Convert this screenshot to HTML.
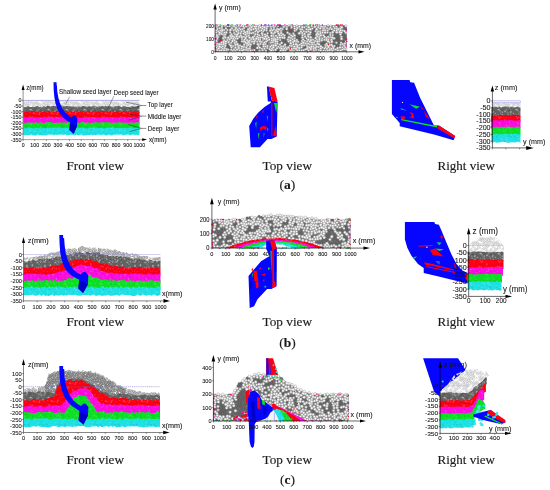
<!DOCTYPE html>
<html><head><meta charset="utf-8"><title>Figure</title>
<style>html,body{margin:0;padding:0;background:#fff}svg{display:block}</style></head>
<body><svg width="550" height="490" viewBox="0 0 550 490">
<defs><pattern id="pg" width="18" height="18" patternUnits="userSpaceOnUse"><rect width="18" height="18" fill="#626262"/><circle cx="5.8" cy="2.7" r="0.5" fill="#4e4e4e"/><circle cx="14.8" cy="1.7" r="0.5" fill="#565656"/><circle cx="9.1" cy="0.7" r="0.7" fill="#747474"/><circle cx="4.3" cy="9.9" r="0.8" fill="#b0b0b0"/><circle cx="2.2" cy="4" r="0.7" fill="#4e4e4e"/><circle cx="1.1" cy="10.5" r="0.8" fill="#b0b0b0"/><circle cx="0.8" cy="15.5" r="0.7" fill="#898989"/><circle cx="9.7" cy="10.3" r="0.8" fill="#565656"/><circle cx="3.3" cy="10.5" r="0.6" fill="#4e4e4e"/><circle cx="1.8" cy="12.8" r="0.5" fill="#565656"/><circle cx="3.7" cy="12.2" r="0.8" fill="#747474"/><circle cx="8.4" cy="16.6" r="0.6" fill="#898989"/><circle cx="14.3" cy="12.6" r="0.5" fill="#9d9d9d"/><circle cx="5.4" cy="8.9" r="0.7" fill="#898989"/><circle cx="5.2" cy="17.6" r="0.7" fill="#b0b0b0"/><circle cx="5.2" cy="-0.4" r="0.7" fill="#b0b0b0"/><circle cx="3" cy="6.2" r="0.7" fill="#747474"/><circle cx="17.3" cy="1.4" r="0.7" fill="#565656"/><circle cx="-0.7" cy="1.4" r="0.7" fill="#565656"/><circle cx="15.8" cy="5.6" r="0.6" fill="#4e4e4e"/><circle cx="8.9" cy="14.3" r="0.8" fill="#b0b0b0"/><circle cx="17" cy="8.5" r="0.5" fill="#4e4e4e"/><circle cx="13.2" cy="5.6" r="0.8" fill="#565656"/><circle cx="14.8" cy="5.1" r="0.8" fill="#747474"/><circle cx="6.2" cy="16.9" r="0.6" fill="#898989"/><circle cx="2.1" cy="1.1" r="0.6" fill="#898989"/><circle cx="4.5" cy="7" r="0.5" fill="#747474"/><circle cx="8.1" cy="9.9" r="0.8" fill="#9d9d9d"/><circle cx="15.6" cy="5" r="0.8" fill="#747474"/><circle cx="12.3" cy="6.8" r="0.6" fill="#9d9d9d"/><circle cx="3.2" cy="4.2" r="0.5" fill="#9d9d9d"/><circle cx="15" cy="3.3" r="0.5" fill="#898989"/><circle cx="7.5" cy="6.6" r="0.6" fill="#565656"/><circle cx="2.3" cy="15.5" r="0.7" fill="#565656"/><circle cx="13.3" cy="8.2" r="0.8" fill="#4e4e4e"/><circle cx="7.1" cy="7.2" r="0.7" fill="#b0b0b0"/><circle cx="7.2" cy="3.4" r="0.7" fill="#9d9d9d"/><circle cx="2" cy="10.8" r="0.5" fill="#b0b0b0"/><circle cx="2.7" cy="1.8" r="0.7" fill="#898989"/><circle cx="1.3" cy="3.7" r="0.6" fill="#747474"/><circle cx="4.5" cy="6.3" r="0.7" fill="#898989"/><circle cx="2.1" cy="8.8" r="0.7" fill="#747474"/><circle cx="5.6" cy="2.6" r="0.6" fill="#4e4e4e"/><circle cx="4.8" cy="14.9" r="0.7" fill="#9d9d9d"/><circle cx="3.7" cy="17.1" r="0.6" fill="#898989"/><circle cx="9.8" cy="0.5" r="0.6" fill="#565656"/><circle cx="9.8" cy="18.5" r="0.6" fill="#565656"/><circle cx="11.6" cy="1.6" r="0.7" fill="#898989"/><circle cx="16.3" cy="6.4" r="0.7" fill="#9d9d9d"/><circle cx="14" cy="5.9" r="0.7" fill="#9d9d9d"/><circle cx="14.2" cy="13.6" r="0.8" fill="#9d9d9d"/><circle cx="14.7" cy="13.3" r="0.6" fill="#9d9d9d"/><circle cx="8.9" cy="13.2" r="0.8" fill="#b0b0b0"/><circle cx="8.5" cy="3.5" r="0.8" fill="#565656"/><circle cx="8.1" cy="16.9" r="0.8" fill="#898989"/><circle cx="6.6" cy="4" r="0.7" fill="#9d9d9d"/><circle cx="6.1" cy="8.7" r="0.8" fill="#565656"/><circle cx="8.6" cy="11.8" r="0.6" fill="#4e4e4e"/><circle cx="11.9" cy="16.4" r="0.8" fill="#4e4e4e"/><circle cx="8.6" cy="3.2" r="0.6" fill="#4e4e4e"/><circle cx="14.4" cy="17.5" r="0.7" fill="#747474"/><circle cx="14.4" cy="-0.5" r="0.7" fill="#747474"/><circle cx="13.4" cy="1.5" r="0.6" fill="#9d9d9d"/><circle cx="2.3" cy="2.7" r="0.8" fill="#747474"/><circle cx="2.6" cy="14.9" r="0.7" fill="#747474"/><circle cx="6.3" cy="9.9" r="0.5" fill="#9d9d9d"/><circle cx="14.4" cy="13.1" r="0.7" fill="#b0b0b0"/><circle cx="16.8" cy="7.8" r="0.8" fill="#9d9d9d"/><circle cx="3.8" cy="4.5" r="0.7" fill="#898989"/><circle cx="13.7" cy="5.9" r="0.7" fill="#565656"/><circle cx="2.4" cy="16.4" r="0.8" fill="#898989"/><circle cx="11.9" cy="14.7" r="0.7" fill="#565656"/><circle cx="16.5" cy="9" r="0.6" fill="#565656"/><circle cx="9.2" cy="15.7" r="0.7" fill="#9d9d9d"/><circle cx="14" cy="2.7" r="0.7" fill="#9d9d9d"/><circle cx="13.1" cy="10" r="0.7" fill="#898989"/><circle cx="9.6" cy="8.7" r="0.8" fill="#b0b0b0"/><circle cx="1" cy="3.4" r="0.8" fill="#b0b0b0"/><circle cx="9.1" cy="10.1" r="0.7" fill="#b0b0b0"/><circle cx="11" cy="9.1" r="0.6" fill="#565656"/><circle cx="5" cy="9.1" r="0.7" fill="#747474"/><circle cx="4.5" cy="9.4" r="0.8" fill="#898989"/><circle cx="16.1" cy="3.6" r="0.6" fill="#747474"/><circle cx="2.2" cy="8" r="0.7" fill="#b0b0b0"/><circle cx="7.7" cy="3.8" r="0.8" fill="#898989"/><circle cx="16.1" cy="2.8" r="0.7" fill="#4e4e4e"/><circle cx="6.6" cy="4.6" r="0.8" fill="#9d9d9d"/><circle cx="4" cy="17.1" r="0.8" fill="#747474"/><circle cx="2.9" cy="12" r="0.6" fill="#9d9d9d"/><circle cx="7.8" cy="9.3" r="0.7" fill="#898989"/><circle cx="6.4" cy="1.7" r="0.5" fill="#898989"/><circle cx="10" cy="7.9" r="0.6" fill="#b0b0b0"/><circle cx="9.3" cy="5.3" r="0.6" fill="#b0b0b0"/><circle cx="16.5" cy="4.1" r="0.6" fill="#b0b0b0"/><circle cx="4.9" cy="16.3" r="0.6" fill="#9d9d9d"/><circle cx="2.3" cy="7.6" r="0.8" fill="#4e4e4e"/><circle cx="4.7" cy="2.7" r="0.7" fill="#565656"/><circle cx="12.6" cy="1.6" r="0.8" fill="#b0b0b0"/><circle cx="3.3" cy="16.1" r="0.8" fill="#898989"/></pattern><pattern id="pr" width="18" height="18" patternUnits="userSpaceOnUse"><rect width="18" height="18" fill="#fa0012"/><circle cx="11.4" cy="14.4" r="0.7" fill="#fb3d4a"/><circle cx="4" cy="4.8" r="0.7" fill="#fb3d4a"/><circle cx="6.1" cy="10" r="0.7" fill="#fa1424"/><circle cx="0.8" cy="12.8" r="0.8" fill="#fb3d4a"/><circle cx="18.8" cy="12.8" r="0.8" fill="#fb3d4a"/><circle cx="4.7" cy="3.3" r="0.7" fill="#fa1424"/><circle cx="9.6" cy="3.7" r="0.7" fill="#ed0011"/><circle cx="3.2" cy="6.2" r="0.8" fill="#fb3d4a"/><circle cx="0.7" cy="0.3" r="0.7" fill="#e10010"/><circle cx="0.7" cy="18.3" r="0.7" fill="#e10010"/><circle cx="18.7" cy="0.3" r="0.7" fill="#e10010"/><circle cx="18.7" cy="18.3" r="0.7" fill="#e10010"/><circle cx="3.4" cy="8.5" r="0.6" fill="#ed0011"/><circle cx="14.7" cy="7.8" r="0.7" fill="#ed0011"/><circle cx="16" cy="17.5" r="0.7" fill="#fa1424"/><circle cx="16" cy="-0.5" r="0.7" fill="#fa1424"/><circle cx="17.7" cy="6.2" r="0.6" fill="#fa2635"/><circle cx="-0.3" cy="6.2" r="0.6" fill="#fa2635"/><circle cx="6.3" cy="1" r="0.5" fill="#fa2635"/><circle cx="11.3" cy="15.8" r="0.6" fill="#ed0011"/><circle cx="1.5" cy="15.1" r="0.7" fill="#e10010"/><circle cx="5.1" cy="4.4" r="0.5" fill="#fa1424"/><circle cx="3.3" cy="4.8" r="0.6" fill="#fb3d4a"/><circle cx="17.3" cy="17.5" r="0.6" fill="#e10010"/><circle cx="17.3" cy="-0.5" r="0.6" fill="#e10010"/><circle cx="0.6" cy="15.9" r="0.6" fill="#fa2635"/><circle cx="18.6" cy="15.9" r="0.6" fill="#fa2635"/><circle cx="0" cy="6.9" r="0.6" fill="#ed0011"/><circle cx="18" cy="6.9" r="0.6" fill="#ed0011"/><circle cx="11.8" cy="4.5" r="0.6" fill="#fb3d4a"/><circle cx="14.7" cy="2.6" r="0.5" fill="#e10010"/><circle cx="0.4" cy="5.5" r="0.6" fill="#fa2635"/><circle cx="18.4" cy="5.5" r="0.6" fill="#fa2635"/><circle cx="17.2" cy="15.4" r="0.7" fill="#fa2635"/><circle cx="12.9" cy="15.8" r="0.8" fill="#ed0011"/><circle cx="13" cy="8.9" r="0.7" fill="#fa1424"/><circle cx="11.6" cy="0.8" r="0.7" fill="#e10010"/><circle cx="13.2" cy="14.6" r="0.8" fill="#fa2635"/><circle cx="13.6" cy="10.2" r="0.8" fill="#fb3d4a"/><circle cx="10.5" cy="16.1" r="0.6" fill="#fa2635"/><circle cx="0.8" cy="11.5" r="0.6" fill="#fb3d4a"/><circle cx="8.1" cy="0.9" r="0.7" fill="#fb3d4a"/><circle cx="12.3" cy="8.8" r="0.7" fill="#fb3d4a"/><circle cx="1.3" cy="16.8" r="0.6" fill="#e10010"/><circle cx="9.5" cy="13.4" r="0.6" fill="#ed0011"/><circle cx="1.3" cy="4.8" r="0.6" fill="#fa2635"/><circle cx="11.7" cy="8.3" r="0.5" fill="#ed0011"/><circle cx="16.4" cy="5.2" r="0.7" fill="#fb3d4a"/><circle cx="11.6" cy="1.4" r="0.6" fill="#fa2635"/><circle cx="11.7" cy="12.5" r="0.7" fill="#e10010"/><circle cx="0.2" cy="1.1" r="0.8" fill="#fa1424"/><circle cx="18.2" cy="1.1" r="0.8" fill="#fa1424"/><circle cx="1.8" cy="3.9" r="0.6" fill="#ed0011"/><circle cx="9.3" cy="8.4" r="0.8" fill="#ed0011"/><circle cx="17.9" cy="9.9" r="0.8" fill="#fa1424"/><circle cx="-0.1" cy="9.9" r="0.8" fill="#fa1424"/><circle cx="16.9" cy="0.3" r="0.5" fill="#ed0011"/><circle cx="16.9" cy="18.3" r="0.5" fill="#ed0011"/><circle cx="9.1" cy="17.9" r="0.6" fill="#fa1424"/><circle cx="9.1" cy="-0.1" r="0.6" fill="#fa1424"/><circle cx="16.5" cy="16.7" r="0.7" fill="#fb3d4a"/><circle cx="2.6" cy="9.4" r="0.6" fill="#fa1424"/><circle cx="14.8" cy="9.2" r="0.7" fill="#fb3d4a"/><circle cx="4.2" cy="16.2" r="0.6" fill="#ed0011"/><circle cx="2.9" cy="17.1" r="0.6" fill="#ed0011"/><circle cx="13.1" cy="7.5" r="0.6" fill="#ed0011"/><circle cx="15.1" cy="0" r="0.8" fill="#fa1424"/><circle cx="15.1" cy="18" r="0.8" fill="#fa1424"/><circle cx="2.2" cy="16.7" r="0.8" fill="#fb3d4a"/><circle cx="5.2" cy="6.7" r="0.6" fill="#ed0011"/><circle cx="15.7" cy="1.4" r="0.8" fill="#ed0011"/><circle cx="15.4" cy="5.1" r="0.8" fill="#fb3d4a"/><circle cx="5.1" cy="16.8" r="0.8" fill="#fa2635"/><circle cx="7.9" cy="5.7" r="0.8" fill="#fa1424"/><circle cx="7.7" cy="0.5" r="0.8" fill="#ed0011"/><circle cx="7.7" cy="18.5" r="0.8" fill="#ed0011"/></pattern><pattern id="pm" width="18" height="18" patternUnits="userSpaceOnUse"><rect width="18" height="18" fill="#fa0cde"/><circle cx="16.9" cy="9.9" r="0.5" fill="#fb46e5"/><circle cx="13.2" cy="8.1" r="0.7" fill="#fa30e2"/><circle cx="5.2" cy="0.9" r="0.6" fill="#e10ac7"/><circle cx="8.5" cy="6.2" r="0.6" fill="#fa1fe0"/><circle cx="13.3" cy="11.8" r="0.7" fill="#ed0bd2"/><circle cx="5.4" cy="10" r="0.6" fill="#ed0bd2"/><circle cx="11.6" cy="1.4" r="0.8" fill="#e10ac7"/><circle cx="8.9" cy="4" r="0.8" fill="#fa1fe0"/><circle cx="8.1" cy="2.5" r="0.6" fill="#fa30e2"/><circle cx="3.1" cy="10" r="0.6" fill="#fa1fe0"/><circle cx="4.7" cy="10.3" r="0.7" fill="#fb46e5"/><circle cx="7.4" cy="7.4" r="0.6" fill="#e10ac7"/><circle cx="4.9" cy="13.5" r="0.6" fill="#ed0bd2"/><circle cx="17.4" cy="2.3" r="0.7" fill="#e10ac7"/><circle cx="-0.6" cy="2.3" r="0.7" fill="#e10ac7"/><circle cx="14.2" cy="15.3" r="0.6" fill="#fb46e5"/><circle cx="4.5" cy="7.2" r="0.7" fill="#ed0bd2"/><circle cx="5.6" cy="14.7" r="0.6" fill="#fb46e5"/><circle cx="7.7" cy="13.7" r="0.8" fill="#ed0bd2"/><circle cx="8.8" cy="1.3" r="0.8" fill="#e10ac7"/><circle cx="17.5" cy="4.5" r="0.6" fill="#fb46e5"/><circle cx="-0.5" cy="4.5" r="0.6" fill="#fb46e5"/><circle cx="2.7" cy="17.5" r="0.8" fill="#fb46e5"/><circle cx="2.7" cy="-0.5" r="0.8" fill="#fb46e5"/><circle cx="13" cy="11.7" r="0.6" fill="#ed0bd2"/><circle cx="14" cy="0" r="0.6" fill="#fa30e2"/><circle cx="14" cy="18" r="0.6" fill="#fa30e2"/><circle cx="16.6" cy="11.6" r="0.8" fill="#fa1fe0"/><circle cx="11.3" cy="9.5" r="0.7" fill="#ed0bd2"/><circle cx="2" cy="1.3" r="0.8" fill="#e10ac7"/><circle cx="3.5" cy="4.7" r="0.5" fill="#e10ac7"/><circle cx="9.7" cy="17.9" r="0.8" fill="#fa1fe0"/><circle cx="9.7" cy="-0.1" r="0.8" fill="#fa1fe0"/><circle cx="11.6" cy="15.9" r="0.7" fill="#ed0bd2"/><circle cx="9.8" cy="0.5" r="0.7" fill="#ed0bd2"/><circle cx="9.8" cy="18.5" r="0.7" fill="#ed0bd2"/><circle cx="5.5" cy="0.4" r="0.8" fill="#ed0bd2"/><circle cx="5.5" cy="18.4" r="0.8" fill="#ed0bd2"/><circle cx="11.6" cy="1.5" r="0.7" fill="#fa30e2"/><circle cx="16.7" cy="4.1" r="0.7" fill="#fb46e5"/><circle cx="12.9" cy="6.5" r="0.6" fill="#ed0bd2"/><circle cx="14.3" cy="13.3" r="0.5" fill="#e10ac7"/><circle cx="8.9" cy="3.6" r="0.6" fill="#fa30e2"/><circle cx="4" cy="13.7" r="0.6" fill="#fa1fe0"/><circle cx="11.2" cy="11" r="0.7" fill="#fa30e2"/><circle cx="16.4" cy="1" r="0.6" fill="#e10ac7"/><circle cx="7.1" cy="3.8" r="0.6" fill="#e10ac7"/><circle cx="0.9" cy="1.1" r="0.7" fill="#ed0bd2"/><circle cx="12.8" cy="5.7" r="0.8" fill="#fb46e5"/><circle cx="16.8" cy="5.9" r="0.7" fill="#fa30e2"/><circle cx="9.4" cy="8.4" r="0.7" fill="#fa1fe0"/><circle cx="6.8" cy="6.7" r="0.7" fill="#fa1fe0"/><circle cx="2" cy="1.4" r="0.6" fill="#fb46e5"/><circle cx="17.2" cy="2.2" r="0.6" fill="#fa30e2"/><circle cx="13.8" cy="5.6" r="0.6" fill="#ed0bd2"/><circle cx="12.7" cy="3.5" r="0.8" fill="#e10ac7"/><circle cx="3.5" cy="6.6" r="0.5" fill="#ed0bd2"/><circle cx="7.4" cy="14.6" r="0.5" fill="#ed0bd2"/><circle cx="0.6" cy="1.1" r="0.6" fill="#fb46e5"/><circle cx="13.5" cy="16.2" r="0.6" fill="#fa1fe0"/><circle cx="6" cy="17.2" r="0.6" fill="#fb46e5"/><circle cx="12.9" cy="5.7" r="0.6" fill="#fa1fe0"/><circle cx="13" cy="10.7" r="0.5" fill="#fb46e5"/><circle cx="4.2" cy="8.6" r="0.8" fill="#ed0bd2"/><circle cx="7" cy="4.5" r="0.8" fill="#ed0bd2"/><circle cx="2.4" cy="8.9" r="0.8" fill="#fb46e5"/><circle cx="13.3" cy="14.8" r="0.7" fill="#fa30e2"/></pattern><pattern id="pn" width="18" height="18" patternUnits="userSpaceOnUse"><rect width="18" height="18" fill="#0ce024"/><circle cx="5.9" cy="5.8" r="0.8" fill="#1fe235"/><circle cx="10.7" cy="9.2" r="0.8" fill="#0bd422"/><circle cx="4.5" cy="1.2" r="0.7" fill="#46e758"/><circle cx="9.8" cy="2.9" r="0.8" fill="#0bd422"/><circle cx="17.8" cy="4.8" r="0.6" fill="#46e758"/><circle cx="-0.2" cy="4.8" r="0.6" fill="#46e758"/><circle cx="7.6" cy="17.8" r="0.6" fill="#0bd422"/><circle cx="7.6" cy="-0.2" r="0.6" fill="#0bd422"/><circle cx="2.4" cy="8.3" r="0.7" fill="#30e444"/><circle cx="15.2" cy="12" r="0.8" fill="#46e758"/><circle cx="5.3" cy="5" r="0.6" fill="#1fe235"/><circle cx="13.3" cy="3.6" r="0.6" fill="#30e444"/><circle cx="4.2" cy="5.1" r="0.6" fill="#0ac920"/><circle cx="1.2" cy="4.5" r="0.7" fill="#30e444"/><circle cx="4.2" cy="14.6" r="0.8" fill="#0bd422"/><circle cx="1.8" cy="8.5" r="0.8" fill="#30e444"/><circle cx="16.5" cy="0.7" r="0.6" fill="#1fe235"/><circle cx="0.9" cy="10.8" r="0.6" fill="#0ac920"/><circle cx="1.4" cy="9.2" r="0.7" fill="#30e444"/><circle cx="4.7" cy="14" r="0.6" fill="#46e758"/><circle cx="10.7" cy="11.2" r="0.5" fill="#30e444"/><circle cx="6.1" cy="0.8" r="0.5" fill="#1fe235"/><circle cx="13.2" cy="16.5" r="0.8" fill="#46e758"/><circle cx="7.4" cy="6.7" r="0.6" fill="#0ac920"/><circle cx="3.7" cy="14.3" r="0.7" fill="#0ac920"/><circle cx="7.3" cy="14.3" r="0.6" fill="#0ac920"/><circle cx="9.6" cy="11.8" r="0.7" fill="#0bd422"/><circle cx="7.4" cy="5.1" r="0.7" fill="#1fe235"/><circle cx="0.9" cy="13.4" r="0.6" fill="#1fe235"/><circle cx="0.3" cy="13.8" r="0.7" fill="#1fe235"/><circle cx="18.3" cy="13.8" r="0.7" fill="#1fe235"/><circle cx="7" cy="7.3" r="0.7" fill="#46e758"/><circle cx="2.8" cy="2" r="0.6" fill="#46e758"/><circle cx="15.9" cy="8.3" r="0.6" fill="#30e444"/><circle cx="0.9" cy="2.6" r="0.6" fill="#0bd422"/><circle cx="11.2" cy="6.7" r="0.6" fill="#0ac920"/><circle cx="6.3" cy="2.9" r="0.8" fill="#30e444"/><circle cx="2" cy="8.8" r="0.6" fill="#30e444"/><circle cx="15.1" cy="0.8" r="0.6" fill="#0bd422"/><circle cx="10.9" cy="11.5" r="0.8" fill="#46e758"/><circle cx="11.2" cy="14.8" r="0.7" fill="#30e444"/><circle cx="15.4" cy="11.2" r="0.8" fill="#0ac920"/><circle cx="14.9" cy="3.3" r="0.5" fill="#30e444"/><circle cx="16.9" cy="2.8" r="0.6" fill="#1fe235"/><circle cx="4.4" cy="13" r="0.5" fill="#30e444"/><circle cx="10.1" cy="13.6" r="0.7" fill="#46e758"/><circle cx="5.8" cy="7" r="0.7" fill="#0bd422"/><circle cx="11.3" cy="5.5" r="0.6" fill="#0bd422"/><circle cx="4.5" cy="7" r="0.7" fill="#1fe235"/><circle cx="7.9" cy="0.4" r="0.8" fill="#0ac920"/><circle cx="7.9" cy="18.4" r="0.8" fill="#0ac920"/><circle cx="8.4" cy="8" r="0.8" fill="#0ac920"/><circle cx="8.2" cy="3.2" r="0.6" fill="#0bd422"/><circle cx="1.2" cy="6.5" r="0.6" fill="#1fe235"/><circle cx="8" cy="9.2" r="0.5" fill="#46e758"/><circle cx="2.3" cy="16.6" r="0.8" fill="#1fe235"/><circle cx="9.2" cy="1" r="0.8" fill="#0ac920"/><circle cx="11.7" cy="14.1" r="0.8" fill="#46e758"/><circle cx="17.9" cy="13.2" r="0.6" fill="#46e758"/><circle cx="-0.1" cy="13.2" r="0.6" fill="#46e758"/><circle cx="17.7" cy="8.9" r="0.7" fill="#30e444"/><circle cx="-0.3" cy="8.9" r="0.7" fill="#30e444"/><circle cx="13" cy="4" r="0.7" fill="#1fe235"/><circle cx="4.5" cy="5.8" r="0.6" fill="#0ac920"/><circle cx="14.7" cy="2.6" r="0.8" fill="#0ac920"/><circle cx="8.6" cy="10.7" r="0.7" fill="#0ac920"/></pattern><pattern id="pc" width="18" height="18" patternUnits="userSpaceOnUse"><rect width="18" height="18" fill="#1ce0e4"/><circle cx="5.7" cy="0.7" r="0.6" fill="#3ee4e8"/><circle cx="11.5" cy="5" r="0.8" fill="#2ee2e6"/><circle cx="3" cy="14.1" r="0.8" fill="#52e7ea"/><circle cx="0.9" cy="15.4" r="0.7" fill="#1ad4d8"/><circle cx="10.4" cy="15.9" r="0.6" fill="#52e7ea"/><circle cx="9.6" cy="15.4" r="0.6" fill="#2ee2e6"/><circle cx="17.8" cy="10.4" r="0.6" fill="#2ee2e6"/><circle cx="-0.2" cy="10.4" r="0.6" fill="#2ee2e6"/><circle cx="1.5" cy="4.1" r="0.7" fill="#19c9cd"/><circle cx="0.9" cy="14.8" r="0.6" fill="#2ee2e6"/><circle cx="17.4" cy="15.7" r="0.7" fill="#2ee2e6"/><circle cx="-0.6" cy="15.7" r="0.7" fill="#2ee2e6"/><circle cx="13.4" cy="4" r="0.7" fill="#2ee2e6"/><circle cx="7.8" cy="9.2" r="0.6" fill="#52e7ea"/><circle cx="4.1" cy="11.8" r="0.5" fill="#52e7ea"/><circle cx="10.2" cy="5.5" r="0.6" fill="#19c9cd"/><circle cx="4" cy="10.5" r="0.6" fill="#19c9cd"/><circle cx="6.6" cy="14.9" r="0.6" fill="#3ee4e8"/><circle cx="16.9" cy="4.4" r="0.7" fill="#3ee4e8"/><circle cx="1.1" cy="2.6" r="0.6" fill="#2ee2e6"/><circle cx="4.8" cy="0.2" r="0.8" fill="#19c9cd"/><circle cx="4.8" cy="18.2" r="0.8" fill="#19c9cd"/><circle cx="10.7" cy="10.4" r="0.8" fill="#19c9cd"/><circle cx="13.2" cy="4.5" r="0.5" fill="#52e7ea"/><circle cx="9.6" cy="7.3" r="0.6" fill="#3ee4e8"/><circle cx="16.4" cy="1.9" r="0.7" fill="#19c9cd"/><circle cx="16.9" cy="2.6" r="0.7" fill="#3ee4e8"/><circle cx="11.6" cy="11.7" r="0.8" fill="#1ad4d8"/><circle cx="3.1" cy="5.6" r="0.7" fill="#2ee2e6"/><circle cx="17.9" cy="13" r="0.7" fill="#1ad4d8"/><circle cx="-0.1" cy="13" r="0.7" fill="#1ad4d8"/><circle cx="0.1" cy="15.2" r="0.5" fill="#1ad4d8"/><circle cx="18.1" cy="15.2" r="0.5" fill="#1ad4d8"/><circle cx="11.8" cy="3.2" r="0.6" fill="#52e7ea"/><circle cx="11.6" cy="2.2" r="0.7" fill="#2ee2e6"/><circle cx="4.8" cy="10" r="0.7" fill="#1ad4d8"/><circle cx="16.5" cy="17.5" r="0.7" fill="#2ee2e6"/><circle cx="16.5" cy="-0.5" r="0.7" fill="#2ee2e6"/><circle cx="17.4" cy="3.9" r="0.5" fill="#19c9cd"/><circle cx="4.7" cy="4.2" r="0.8" fill="#3ee4e8"/><circle cx="13.4" cy="5.9" r="0.6" fill="#1ad4d8"/><circle cx="4.3" cy="16.3" r="0.7" fill="#19c9cd"/><circle cx="15.1" cy="12.6" r="0.7" fill="#52e7ea"/><circle cx="13" cy="10.3" r="0.8" fill="#2ee2e6"/><circle cx="7" cy="10.5" r="0.8" fill="#19c9cd"/><circle cx="2.6" cy="0.5" r="0.7" fill="#52e7ea"/><circle cx="2.6" cy="18.5" r="0.7" fill="#52e7ea"/><circle cx="2.9" cy="17.6" r="0.5" fill="#52e7ea"/><circle cx="2.9" cy="-0.4" r="0.5" fill="#52e7ea"/><circle cx="2.5" cy="11.6" r="0.7" fill="#52e7ea"/><circle cx="13.3" cy="1.2" r="0.8" fill="#19c9cd"/><circle cx="3.6" cy="17.2" r="0.8" fill="#19c9cd"/><circle cx="1.2" cy="15.6" r="0.6" fill="#1ad4d8"/><circle cx="3.7" cy="2" r="0.8" fill="#52e7ea"/><circle cx="16.4" cy="13.6" r="0.8" fill="#52e7ea"/><circle cx="11.4" cy="5.2" r="0.6" fill="#52e7ea"/><circle cx="14.3" cy="11.6" r="0.6" fill="#2ee2e6"/><circle cx="7.6" cy="0.4" r="0.8" fill="#2ee2e6"/><circle cx="7.6" cy="18.4" r="0.8" fill="#2ee2e6"/><circle cx="0.9" cy="13.7" r="0.8" fill="#2ee2e6"/><circle cx="10.8" cy="8.6" r="0.7" fill="#2ee2e6"/><circle cx="0.6" cy="7.4" r="0.7" fill="#1ad4d8"/><circle cx="18.6" cy="7.4" r="0.7" fill="#1ad4d8"/><circle cx="1.8" cy="8.4" r="0.7" fill="#52e7ea"/><circle cx="3.9" cy="15.5" r="0.7" fill="#52e7ea"/><circle cx="5.2" cy="7.8" r="0.6" fill="#19c9cd"/><circle cx="13.7" cy="17.6" r="0.6" fill="#52e7ea"/><circle cx="13.7" cy="-0.4" r="0.6" fill="#52e7ea"/><circle cx="1.7" cy="12.5" r="0.8" fill="#3ee4e8"/><circle cx="10.7" cy="17.2" r="0.6" fill="#19c9cd"/><circle cx="17" cy="5.1" r="0.8" fill="#3ee4e8"/></pattern><pattern id="pw" width="20" height="20" patternUnits="userSpaceOnUse"><g fill="#fff" stroke="#969696" stroke-width="0.28"><circle cx="4.6" cy="3.3" r="1"/><circle cx="15.3" cy="9.8" r="1"/><circle cx="11.2" cy="2.1" r="0.8"/><circle cx="1.9" cy="18.6" r="0.9"/><circle cx="1.9" cy="-1.4" r="0.9"/><circle cx="21.9" cy="18.6" r="0.9"/><circle cx="21.9" cy="-1.4" r="0.9"/><circle cx="14.9" cy="8.4" r="0.9"/><circle cx="7.4" cy="6.1" r="0.8"/><circle cx="10.9" cy="3.4" r="1"/><circle cx="12.6" cy="18.9" r="0.7"/><circle cx="12.6" cy="-1.1" r="0.7"/><circle cx="11.9" cy="13.8" r="0.9"/><circle cx="0.7" cy="11.6" r="0.8"/><circle cx="20.7" cy="11.6" r="0.8"/><circle cx="17.4" cy="9" r="0.8"/><circle cx="6.5" cy="9.3" r="0.9"/><circle cx="5.1" cy="4.6" r="0.8"/><circle cx="12.9" cy="13.9" r="0.8"/><circle cx="5.3" cy="15.1" r="0.9"/><circle cx="12.3" cy="14.5" r="1"/><circle cx="14.5" cy="12.1" r="0.8"/><circle cx="4.7" cy="19.1" r="0.8"/><circle cx="4.7" cy="-0.9" r="0.8"/><circle cx="19.1" cy="19.9" r="0.7"/><circle cx="19.1" cy="-0.1" r="0.7"/><circle cx="-0.9" cy="19.9" r="0.7"/><circle cx="-0.9" cy="-0.1" r="0.7"/><circle cx="13.2" cy="3.9" r="0.7"/><circle cx="3" cy="6" r="0.8"/><circle cx="5.5" cy="2.2" r="1"/><circle cx="5.6" cy="17.7" r="0.8"/><circle cx="0.3" cy="17.1" r="0.8"/><circle cx="20.3" cy="17.1" r="0.8"/><circle cx="4.4" cy="19.6" r="0.8"/><circle cx="4.4" cy="-0.4" r="0.8"/><circle cx="0.4" cy="5.1" r="0.9"/><circle cx="20.4" cy="5.1" r="0.9"/><circle cx="0.1" cy="4.8" r="0.9"/><circle cx="20.1" cy="4.8" r="0.9"/><circle cx="14" cy="11.7" r="0.9"/><circle cx="16.9" cy="13.4" r="0.9"/><circle cx="17.6" cy="12.8" r="0.9"/><circle cx="4.6" cy="3.6" r="0.7"/><circle cx="8.7" cy="5.2" r="0.9"/><circle cx="17.9" cy="4.8" r="0.8"/><circle cx="14.3" cy="3.1" r="0.9"/><circle cx="9.7" cy="0.4" r="0.9"/><circle cx="9.7" cy="20.4" r="0.9"/><circle cx="10.4" cy="13.2" r="0.9"/><circle cx="17.9" cy="6.6" r="0.7"/><circle cx="16.6" cy="18.2" r="0.7"/><circle cx="5" cy="4.4" r="0.9"/><circle cx="19" cy="4" r="0.8"/><circle cx="-1" cy="4" r="0.8"/><circle cx="16.9" cy="9.1" r="0.7"/><circle cx="9.5" cy="0.3" r="0.9"/><circle cx="9.5" cy="20.3" r="0.9"/><circle cx="7.4" cy="6.9" r="0.9"/><circle cx="9.1" cy="19.8" r="0.7"/><circle cx="9.1" cy="-0.2" r="0.7"/><circle cx="10.3" cy="18.7" r="0.9"/><circle cx="10.3" cy="-1.3" r="0.9"/><circle cx="12.3" cy="12.8" r="0.8"/><circle cx="7.6" cy="1.2" r="0.7"/><circle cx="7.6" cy="21.2" r="0.7"/><circle cx="18.3" cy="12.6" r="0.9"/><circle cx="-1.7" cy="12.6" r="0.9"/><circle cx="11.6" cy="2.2" r="0.8"/><circle cx="8" cy="19.1" r="1"/><circle cx="8" cy="-0.9" r="1"/><circle cx="19.9" cy="19.2" r="0.8"/><circle cx="19.9" cy="-0.8" r="0.8"/><circle cx="-0.1" cy="19.2" r="0.8"/><circle cx="-0.1" cy="-0.8" r="0.8"/><circle cx="3.3" cy="18.6" r="0.7"/><circle cx="3.3" cy="-1.4" r="0.7"/><circle cx="16" cy="3.9" r="0.9"/><circle cx="14.4" cy="16.3" r="0.7"/><circle cx="13.3" cy="16.6" r="0.9"/><circle cx="8.3" cy="19.9" r="0.9"/><circle cx="8.3" cy="-0.1" r="0.9"/><circle cx="13" cy="15.6" r="0.8"/><circle cx="15.7" cy="4.6" r="0.9"/><circle cx="13.7" cy="19.7" r="0.9"/><circle cx="13.7" cy="-0.3" r="0.9"/><circle cx="9.6" cy="16.1" r="0.9"/><circle cx="7.2" cy="13.1" r="0.8"/><circle cx="9.7" cy="12.5" r="0.7"/><circle cx="17.9" cy="3.1" r="0.8"/><circle cx="7.7" cy="1.7" r="0.8"/><circle cx="7.7" cy="21.7" r="0.8"/><circle cx="6.5" cy="18.9" r="0.8"/><circle cx="6.5" cy="-1.1" r="0.8"/><circle cx="6.9" cy="11.6" r="0.9"/><circle cx="4.2" cy="1.4" r="0.8"/><circle cx="4.2" cy="21.4" r="0.8"/><circle cx="12.2" cy="11.6" r="0.9"/><circle cx="3.7" cy="9" r="0.9"/><circle cx="4.2" cy="8" r="0.8"/><circle cx="12.2" cy="13.8" r="1"/><circle cx="1.8" cy="18" r="0.8"/><circle cx="21.8" cy="18" r="0.8"/><circle cx="12.7" cy="5.9" r="0.8"/><circle cx="4.3" cy="1.6" r="0.9"/><circle cx="4.3" cy="21.6" r="0.9"/><circle cx="13.4" cy="2.3" r="0.7"/><circle cx="8.4" cy="16.5" r="0.8"/><circle cx="11.1" cy="9.7" r="0.9"/><circle cx="14" cy="4.9" r="0.7"/><circle cx="12" cy="14.7" r="0.7"/><circle cx="6.4" cy="13.9" r="0.8"/><circle cx="5.9" cy="9.3" r="0.8"/><circle cx="20" cy="13.5" r="0.7"/><circle cx="-0" cy="13.5" r="0.7"/><circle cx="7.2" cy="12.9" r="0.7"/><circle cx="0.9" cy="14.7" r="1"/><circle cx="20.9" cy="14.7" r="1"/><circle cx="16.2" cy="1.9" r="0.8"/><circle cx="15.1" cy="2.9" r="0.7"/><circle cx="8.3" cy="2.5" r="0.7"/><circle cx="13.2" cy="6.8" r="0.9"/><circle cx="11.1" cy="18.2" r="0.8"/><circle cx="11.1" cy="-1.8" r="0.8"/><circle cx="6.8" cy="5" r="0.7"/><circle cx="5.8" cy="7.1" r="0.8"/><circle cx="6.7" cy="19.7" r="0.9"/><circle cx="6.7" cy="-0.3" r="0.9"/><circle cx="6.9" cy="4.1" r="0.8"/><circle cx="2.4" cy="3.8" r="0.9"/><circle cx="2.6" cy="19.5" r="0.7"/><circle cx="2.6" cy="-0.5" r="0.7"/><circle cx="19.9" cy="8" r="0.8"/><circle cx="-0.1" cy="8" r="0.8"/><circle cx="8.1" cy="11.5" r="0.8"/><circle cx="2.2" cy="0.9" r="0.9"/><circle cx="2.2" cy="20.9" r="0.9"/><circle cx="9.5" cy="15.3" r="0.7"/><circle cx="10" cy="10.9" r="0.8"/><circle cx="2.9" cy="13.5" r="0.9"/><circle cx="17.5" cy="1.7" r="0.7"/><circle cx="17.5" cy="21.7" r="0.7"/><circle cx="12.7" cy="12.5" r="0.7"/><circle cx="13.3" cy="17.4" r="0.8"/><circle cx="2" cy="18.6" r="0.7"/><circle cx="2" cy="-1.4" r="0.7"/><circle cx="17.4" cy="2.8" r="0.8"/><circle cx="14.2" cy="17.2" r="0.7"/><circle cx="0.7" cy="0.4" r="0.8"/><circle cx="0.7" cy="20.4" r="0.8"/><circle cx="20.7" cy="0.4" r="0.8"/><circle cx="20.7" cy="20.4" r="0.8"/><circle cx="11.6" cy="18.3" r="0.8"/><circle cx="11.6" cy="-1.7" r="0.8"/><circle cx="10.4" cy="16.5" r="0.9"/><circle cx="8.4" cy="13.9" r="0.8"/><circle cx="1.3" cy="13.6" r="0.9"/><circle cx="21.3" cy="13.6" r="0.9"/><circle cx="19.9" cy="13.2" r="0.7"/><circle cx="-0.1" cy="13.2" r="0.7"/><circle cx="15.4" cy="11" r="0.7"/><circle cx="9.4" cy="17.9" r="0.9"/><circle cx="8.5" cy="0.2" r="0.9"/><circle cx="8.5" cy="20.2" r="0.9"/><circle cx="19.7" cy="17.2" r="0.7"/><circle cx="-0.3" cy="17.2" r="0.7"/><circle cx="2.4" cy="9.4" r="0.8"/><circle cx="11.4" cy="9" r="0.9"/><circle cx="18.5" cy="7.3" r="0.9"/><circle cx="-1.5" cy="7.3" r="0.9"/><circle cx="13.9" cy="2.9" r="0.9"/><circle cx="5.9" cy="11.1" r="0.8"/><circle cx="13.4" cy="17.8" r="1"/><circle cx="1.1" cy="0.6" r="0.7"/><circle cx="1.1" cy="20.6" r="0.7"/><circle cx="21.1" cy="0.6" r="0.7"/><circle cx="21.1" cy="20.6" r="0.7"/><circle cx="17.7" cy="13.7" r="0.9"/><circle cx="7.8" cy="6.2" r="0.9"/><circle cx="19.2" cy="16.7" r="0.9"/><circle cx="-0.8" cy="16.7" r="0.9"/><circle cx="6.3" cy="19" r="0.9"/><circle cx="6.3" cy="-1" r="0.9"/><circle cx="9.4" cy="3.3" r="1"/><circle cx="2.3" cy="19.1" r="0.7"/><circle cx="2.3" cy="-0.9" r="0.7"/><circle cx="16" cy="9.5" r="0.9"/><circle cx="9.1" cy="5.4" r="0.9"/><circle cx="6.7" cy="5.6" r="0.9"/><circle cx="13" cy="16" r="0.9"/><circle cx="17.4" cy="14.5" r="0.7"/><circle cx="3" cy="16.7" r="0.9"/><circle cx="19.5" cy="4.9" r="0.8"/><circle cx="-0.5" cy="4.9" r="0.8"/><circle cx="7.5" cy="15.4" r="0.7"/><circle cx="9" cy="13.8" r="0.8"/><circle cx="5.4" cy="3.1" r="1"/></g></pattern><pattern id="pw3" width="20" height="20" patternUnits="userSpaceOnUse"><g fill="#cfcfcf" stroke="#505050" stroke-width="0.45"><circle cx="15.3" cy="15.7" r="0.8"/><circle cx="2.8" cy="17.8" r="1"/><circle cx="2.9" cy="19.5" r="0.9"/><circle cx="2.9" cy="-0.5" r="0.9"/><circle cx="11" cy="15.5" r="0.8"/><circle cx="10.7" cy="10.8" r="0.8"/><circle cx="7.6" cy="15.8" r="0.9"/><circle cx="19.6" cy="6.2" r="0.7"/><circle cx="-0.4" cy="6.2" r="0.7"/><circle cx="7.9" cy="14.2" r="1"/><circle cx="11.7" cy="0.2" r="0.8"/><circle cx="11.7" cy="20.2" r="0.8"/><circle cx="10.8" cy="10.7" r="0.8"/><circle cx="1.3" cy="8" r="0.8"/><circle cx="21.3" cy="8" r="0.8"/><circle cx="5.2" cy="16.7" r="0.8"/><circle cx="10.1" cy="4" r="0.7"/><circle cx="1.8" cy="16.1" r="0.8"/><circle cx="11.6" cy="7.2" r="0.9"/><circle cx="17.1" cy="4.9" r="1"/><circle cx="9.9" cy="17.3" r="0.8"/><circle cx="9.3" cy="1.6" r="0.8"/><circle cx="9.3" cy="21.6" r="0.8"/><circle cx="0.6" cy="5.6" r="0.9"/><circle cx="20.6" cy="5.6" r="0.9"/><circle cx="1.9" cy="4.1" r="0.9"/><circle cx="21.9" cy="4.1" r="0.9"/><circle cx="11.3" cy="11.7" r="0.7"/><circle cx="18.5" cy="5.6" r="0.7"/><circle cx="-1.5" cy="5.6" r="0.7"/><circle cx="8.9" cy="11.9" r="0.9"/><circle cx="2.6" cy="16.9" r="0.8"/><circle cx="19.9" cy="7.6" r="0.7"/><circle cx="-0.1" cy="7.6" r="0.7"/><circle cx="0.7" cy="7.4" r="0.9"/><circle cx="20.7" cy="7.4" r="0.9"/><circle cx="9.7" cy="16.9" r="0.9"/><circle cx="17.3" cy="12.8" r="1"/><circle cx="14.1" cy="1.8" r="0.8"/><circle cx="4.7" cy="1.8" r="1"/><circle cx="4.7" cy="21.8" r="1"/><circle cx="10.1" cy="3.7" r="0.9"/><circle cx="7.4" cy="4.7" r="0.9"/><circle cx="3.4" cy="18.8" r="1"/><circle cx="3.4" cy="-1.2" r="1"/><circle cx="1.2" cy="11.1" r="0.7"/><circle cx="21.2" cy="11.1" r="0.7"/><circle cx="18.4" cy="5.2" r="0.8"/><circle cx="-1.6" cy="5.2" r="0.8"/><circle cx="14.8" cy="15.2" r="0.8"/><circle cx="2" cy="6.4" r="0.7"/><circle cx="4" cy="15" r="0.9"/><circle cx="8.8" cy="13.1" r="0.8"/><circle cx="7.4" cy="7.8" r="0.8"/><circle cx="7.6" cy="8.8" r="0.9"/><circle cx="18.3" cy="17.8" r="0.8"/><circle cx="-1.7" cy="17.8" r="0.8"/><circle cx="18.3" cy="16" r="0.7"/><circle cx="16.7" cy="1.6" r="0.9"/><circle cx="16.7" cy="21.6" r="0.9"/><circle cx="7.5" cy="15" r="0.9"/><circle cx="19.2" cy="18.5" r="0.8"/><circle cx="19.2" cy="-1.5" r="0.8"/><circle cx="-0.8" cy="18.5" r="0.8"/><circle cx="-0.8" cy="-1.5" r="0.8"/><circle cx="0.4" cy="1.5" r="1"/><circle cx="0.4" cy="21.5" r="1"/><circle cx="20.4" cy="1.5" r="1"/><circle cx="20.4" cy="21.5" r="1"/><circle cx="6.5" cy="4.7" r="0.7"/><circle cx="7.3" cy="6.6" r="0.9"/><circle cx="3.6" cy="9" r="0.9"/><circle cx="8.8" cy="3" r="0.8"/><circle cx="4.9" cy="0.5" r="0.8"/><circle cx="4.9" cy="20.5" r="0.8"/><circle cx="5.9" cy="16.1" r="0.8"/><circle cx="2.2" cy="9.1" r="0.8"/><circle cx="3.1" cy="10.3" r="0.9"/><circle cx="15.8" cy="18.5" r="0.8"/><circle cx="15.8" cy="-1.5" r="0.8"/><circle cx="16.7" cy="2.4" r="0.9"/><circle cx="19.4" cy="8.6" r="0.8"/><circle cx="-0.6" cy="8.6" r="0.8"/><circle cx="4.8" cy="4.8" r="0.8"/><circle cx="8.3" cy="3.2" r="0.9"/><circle cx="19.6" cy="2.9" r="0.9"/><circle cx="-0.4" cy="2.9" r="0.9"/><circle cx="8.8" cy="10.2" r="0.8"/><circle cx="8.9" cy="15.8" r="1"/><circle cx="5.7" cy="7.2" r="0.7"/><circle cx="8.2" cy="5.5" r="0.7"/><circle cx="16.9" cy="10.4" r="0.7"/><circle cx="3.5" cy="12" r="0.9"/><circle cx="17.8" cy="14.6" r="0.9"/><circle cx="3.5" cy="2.7" r="0.9"/><circle cx="12.6" cy="3.8" r="0.8"/><circle cx="0.2" cy="13.8" r="0.8"/><circle cx="20.2" cy="13.8" r="0.8"/><circle cx="16.8" cy="18.3" r="0.8"/><circle cx="16.8" cy="-1.7" r="0.8"/><circle cx="7" cy="5.6" r="0.9"/><circle cx="18.9" cy="1.8" r="0.8"/><circle cx="-1.1" cy="1.8" r="0.8"/><circle cx="15.3" cy="2.7" r="0.9"/><circle cx="5" cy="11.3" r="1"/><circle cx="0.7" cy="14" r="0.9"/><circle cx="20.7" cy="14" r="0.9"/><circle cx="17.2" cy="7.1" r="1"/><circle cx="19.4" cy="1.4" r="0.8"/><circle cx="19.4" cy="21.4" r="0.8"/><circle cx="-0.6" cy="1.4" r="0.8"/><circle cx="-0.6" cy="21.4" r="0.8"/><circle cx="4.9" cy="16.6" r="1"/><circle cx="15.6" cy="17.4" r="0.9"/><circle cx="18" cy="5.8" r="0.7"/><circle cx="14.6" cy="8.9" r="0.7"/><circle cx="16.1" cy="2.7" r="0.8"/><circle cx="1.8" cy="12.4" r="0.7"/><circle cx="6.2" cy="11.1" r="1"/><circle cx="0.4" cy="18.5" r="0.9"/><circle cx="0.4" cy="-1.5" r="0.9"/><circle cx="20.4" cy="18.5" r="0.9"/><circle cx="20.4" cy="-1.5" r="0.9"/><circle cx="5.2" cy="16.7" r="0.9"/><circle cx="9.3" cy="4.8" r="0.8"/><circle cx="7" cy="1.9" r="0.7"/><circle cx="5.5" cy="9.3" r="0.9"/><circle cx="15.2" cy="2.2" r="0.7"/><circle cx="17.7" cy="10.8" r="0.7"/><circle cx="4.5" cy="13.4" r="0.8"/><circle cx="7.9" cy="19" r="0.7"/><circle cx="7.9" cy="-1" r="0.7"/><circle cx="12.7" cy="13.9" r="0.9"/><circle cx="12.1" cy="0.7" r="1"/><circle cx="12.1" cy="20.7" r="1"/><circle cx="1" cy="7.3" r="0.8"/><circle cx="21" cy="7.3" r="0.8"/><circle cx="16.8" cy="14.3" r="0.9"/><circle cx="11.3" cy="19.7" r="0.8"/><circle cx="11.3" cy="-0.3" r="0.8"/><circle cx="8" cy="11.2" r="0.8"/><circle cx="2.9" cy="13.6" r="0.8"/><circle cx="17.4" cy="13.3" r="0.7"/><circle cx="2.2" cy="3.7" r="0.8"/><circle cx="4" cy="13.4" r="0.7"/><circle cx="8.4" cy="7.9" r="1"/><circle cx="9.1" cy="0.9" r="1"/><circle cx="9.1" cy="20.9" r="1"/><circle cx="19.5" cy="0.8" r="0.9"/><circle cx="19.5" cy="20.8" r="0.9"/><circle cx="-0.5" cy="0.8" r="0.9"/><circle cx="-0.5" cy="20.8" r="0.9"/><circle cx="12.4" cy="18.4" r="0.9"/><circle cx="12.4" cy="-1.6" r="0.9"/><circle cx="12.6" cy="16.1" r="0.7"/><circle cx="2" cy="2.4" r="0.7"/><circle cx="4.7" cy="0.8" r="0.7"/><circle cx="4.7" cy="20.8" r="0.7"/><circle cx="7" cy="3.3" r="0.7"/><circle cx="19.2" cy="18.4" r="0.9"/><circle cx="19.2" cy="-1.6" r="0.9"/><circle cx="-0.8" cy="18.4" r="0.9"/><circle cx="-0.8" cy="-1.6" r="0.9"/><circle cx="1.7" cy="11.8" r="1"/><circle cx="21.7" cy="11.8" r="1"/><circle cx="8.8" cy="10.2" r="0.9"/><circle cx="18.3" cy="11.5" r="0.8"/><circle cx="-1.7" cy="11.5" r="0.8"/><circle cx="14.7" cy="14.8" r="0.8"/><circle cx="9.1" cy="13.9" r="0.7"/><circle cx="7.7" cy="11" r="0.8"/><circle cx="17.8" cy="6.1" r="0.8"/><circle cx="16.4" cy="0.6" r="0.8"/><circle cx="16.4" cy="20.6" r="0.8"/><circle cx="3.8" cy="10.9" r="1"/><circle cx="7.9" cy="18.5" r="0.7"/><circle cx="7.9" cy="-1.5" r="0.7"/><circle cx="19" cy="6.5" r="0.8"/><circle cx="-1" cy="6.5" r="0.8"/><circle cx="5.4" cy="17.6" r="0.7"/><circle cx="1.1" cy="0.4" r="0.8"/><circle cx="1.1" cy="20.4" r="0.8"/><circle cx="21.1" cy="0.4" r="0.8"/><circle cx="21.1" cy="20.4" r="0.8"/><circle cx="12.1" cy="7" r="0.9"/><circle cx="10.3" cy="16.7" r="0.8"/><circle cx="15.3" cy="10.4" r="1"/><circle cx="13.6" cy="18.7" r="0.8"/><circle cx="13.6" cy="-1.3" r="0.8"/><circle cx="13.4" cy="2.8" r="0.7"/><circle cx="12.2" cy="5.5" r="0.9"/><circle cx="1.9" cy="17.1" r="1"/><circle cx="21.9" cy="17.1" r="1"/><circle cx="19.9" cy="5.4" r="0.9"/><circle cx="-0.1" cy="5.4" r="0.9"/><circle cx="12.6" cy="14.1" r="0.8"/><circle cx="2.1" cy="8.2" r="0.8"/><circle cx="2.3" cy="7.9" r="1"/><circle cx="3" cy="17" r="0.8"/><circle cx="12.4" cy="2.2" r="0.9"/><circle cx="13.9" cy="5.8" r="0.8"/><circle cx="7.1" cy="10.5" r="0.9"/><circle cx="13" cy="0.1" r="0.9"/><circle cx="13" cy="20.1" r="0.9"/><circle cx="19.8" cy="7.6" r="0.8"/><circle cx="-0.2" cy="7.6" r="0.8"/><circle cx="10.7" cy="16.1" r="0.8"/><circle cx="7.5" cy="4.6" r="0.9"/><circle cx="6.6" cy="19.4" r="0.9"/><circle cx="6.6" cy="-0.6" r="0.9"/><circle cx="4.9" cy="6.5" r="1"/><circle cx="17.8" cy="19.1" r="0.7"/><circle cx="17.8" cy="-0.9" r="0.7"/><circle cx="5.1" cy="17.9" r="0.8"/><circle cx="10.7" cy="6.2" r="0.9"/><circle cx="8.7" cy="16.5" r="0.9"/><circle cx="8.6" cy="9.3" r="0.7"/><circle cx="13.5" cy="9.1" r="0.7"/><circle cx="1.4" cy="4.6" r="0.8"/><circle cx="21.4" cy="4.6" r="0.8"/><circle cx="10" cy="13" r="1"/><circle cx="3.1" cy="3.8" r="0.8"/><circle cx="8" cy="15.3" r="0.9"/><circle cx="11.7" cy="13.8" r="0.9"/><circle cx="1.8" cy="7.3" r="0.8"/><circle cx="1.5" cy="6.2" r="0.7"/><circle cx="21.5" cy="6.2" r="0.7"/><circle cx="13.1" cy="5.9" r="0.8"/><circle cx="18.7" cy="10.2" r="1"/><circle cx="-1.3" cy="10.2" r="1"/><circle cx="12.6" cy="10.5" r="0.9"/><circle cx="4.2" cy="17.9" r="0.8"/><circle cx="1.2" cy="11.3" r="0.7"/><circle cx="21.2" cy="11.3" r="0.7"/><circle cx="11.4" cy="12.6" r="0.9"/><circle cx="13.8" cy="0.2" r="0.7"/><circle cx="13.8" cy="20.2" r="0.7"/><circle cx="14.2" cy="11.1" r="1"/><circle cx="8" cy="2" r="0.7"/><circle cx="0.6" cy="3.5" r="0.9"/><circle cx="20.6" cy="3.5" r="0.9"/><circle cx="11.3" cy="17.4" r="0.9"/><circle cx="10.3" cy="2.9" r="0.7"/><circle cx="12" cy="2.9" r="0.8"/><circle cx="10.2" cy="0.6" r="0.7"/><circle cx="10.2" cy="20.6" r="0.7"/><circle cx="19" cy="9.8" r="0.8"/><circle cx="-1" cy="9.8" r="0.8"/><circle cx="8.6" cy="16" r="0.9"/><circle cx="13.7" cy="11.6" r="0.7"/><circle cx="4.8" cy="5.5" r="0.7"/><circle cx="12.6" cy="17.2" r="1"/><circle cx="1.3" cy="3.8" r="0.9"/><circle cx="21.3" cy="3.8" r="0.9"/><circle cx="0.4" cy="4.4" r="0.8"/><circle cx="20.4" cy="4.4" r="0.8"/><circle cx="15.3" cy="0.9" r="0.7"/><circle cx="15.3" cy="20.9" r="0.7"/><circle cx="4.8" cy="4.5" r="0.7"/><circle cx="11.7" cy="3.5" r="0.7"/><circle cx="17.3" cy="9.1" r="0.8"/><circle cx="5" cy="17.7" r="1"/><circle cx="1.4" cy="13.5" r="0.9"/><circle cx="21.4" cy="13.5" r="0.9"/><circle cx="11.7" cy="8.3" r="0.8"/><circle cx="14.2" cy="0.4" r="0.9"/><circle cx="14.2" cy="20.4" r="0.9"/><circle cx="1.7" cy="3.4" r="0.8"/><circle cx="21.7" cy="3.4" r="0.8"/><circle cx="0.2" cy="17.6" r="0.8"/><circle cx="20.2" cy="17.6" r="0.8"/><circle cx="7.3" cy="6.7" r="0.9"/><circle cx="6.7" cy="13" r="1"/><circle cx="8.4" cy="18.3" r="0.8"/><circle cx="8.4" cy="-1.7" r="0.8"/><circle cx="7.7" cy="9.3" r="0.8"/><circle cx="8.7" cy="5.6" r="0.7"/><circle cx="16.1" cy="4.8" r="0.7"/><circle cx="3.9" cy="10.9" r="0.9"/><circle cx="11.1" cy="9.3" r="0.9"/></g></pattern><pattern id="pw2" width="20" height="20" patternUnits="userSpaceOnUse"><g fill="#f0f0f0" stroke="#6c6c6c" stroke-width="0.42"><circle cx="4.8" cy="7.4" r="0.7"/><circle cx="8.1" cy="12.6" r="0.9"/><circle cx="5.9" cy="9.5" r="0.7"/><circle cx="17.2" cy="13.5" r="1"/><circle cx="20" cy="11.9" r="0.8"/><circle cx="-0" cy="11.9" r="0.8"/><circle cx="19.8" cy="10.7" r="0.8"/><circle cx="-0.2" cy="10.7" r="0.8"/><circle cx="10.2" cy="2.5" r="0.9"/><circle cx="13.6" cy="1.8" r="0.9"/><circle cx="13.6" cy="21.8" r="0.9"/><circle cx="14.7" cy="15.3" r="0.7"/><circle cx="14.4" cy="2.9" r="0.7"/><circle cx="14.2" cy="13.9" r="0.9"/><circle cx="4.6" cy="3.8" r="0.9"/><circle cx="1.4" cy="18.3" r="0.9"/><circle cx="1.4" cy="-1.7" r="0.9"/><circle cx="21.4" cy="18.3" r="0.9"/><circle cx="21.4" cy="-1.7" r="0.9"/><circle cx="15.2" cy="3.9" r="0.9"/><circle cx="1.8" cy="5.8" r="0.9"/><circle cx="21.8" cy="5.8" r="0.9"/><circle cx="8" cy="7.1" r="0.9"/><circle cx="9.3" cy="12.6" r="0.9"/><circle cx="17.3" cy="18.7" r="0.7"/><circle cx="17.3" cy="-1.3" r="0.7"/><circle cx="7.3" cy="16" r="0.9"/><circle cx="17.9" cy="0.5" r="0.9"/><circle cx="17.9" cy="20.5" r="0.9"/><circle cx="9.3" cy="20" r="0.8"/><circle cx="9.3" cy="-0" r="0.8"/><circle cx="18.1" cy="2" r="0.8"/><circle cx="5.4" cy="12.2" r="0.7"/><circle cx="13.5" cy="8.1" r="0.9"/><circle cx="8.6" cy="15.1" r="0.7"/><circle cx="14.8" cy="11" r="0.9"/><circle cx="18.8" cy="11.3" r="0.7"/><circle cx="-1.2" cy="11.3" r="0.7"/><circle cx="10" cy="10.4" r="1"/><circle cx="13.4" cy="11.5" r="1"/><circle cx="2.2" cy="15.3" r="0.9"/><circle cx="18" cy="17.5" r="0.9"/><circle cx="13.9" cy="19.5" r="0.9"/><circle cx="13.9" cy="-0.5" r="0.9"/><circle cx="0.7" cy="6.4" r="0.9"/><circle cx="20.7" cy="6.4" r="0.9"/><circle cx="6.9" cy="18.3" r="0.8"/><circle cx="6.9" cy="-1.7" r="0.8"/><circle cx="14.9" cy="20" r="0.9"/><circle cx="14.9" cy="-0" r="0.9"/><circle cx="4.4" cy="10.5" r="0.8"/><circle cx="19" cy="8.9" r="0.8"/><circle cx="-1" cy="8.9" r="0.8"/><circle cx="10.1" cy="13.8" r="0.9"/><circle cx="12.5" cy="10.2" r="0.9"/><circle cx="4.1" cy="13.5" r="0.9"/><circle cx="15.6" cy="9.8" r="0.7"/><circle cx="19" cy="16.5" r="0.8"/><circle cx="-1" cy="16.5" r="0.8"/><circle cx="3.5" cy="3.3" r="0.9"/><circle cx="4.7" cy="5.2" r="1"/><circle cx="3.4" cy="6.9" r="0.7"/><circle cx="12.7" cy="2.7" r="0.9"/><circle cx="9.7" cy="9.7" r="0.9"/><circle cx="0.1" cy="13.8" r="0.7"/><circle cx="20.1" cy="13.8" r="0.7"/><circle cx="12.8" cy="14" r="0.7"/><circle cx="14.2" cy="11.8" r="0.8"/><circle cx="12.6" cy="2.4" r="0.8"/><circle cx="18.8" cy="13.5" r="0.7"/><circle cx="-1.2" cy="13.5" r="0.7"/><circle cx="19.6" cy="16.8" r="0.8"/><circle cx="-0.4" cy="16.8" r="0.8"/><circle cx="4.1" cy="13.8" r="0.7"/><circle cx="9.7" cy="0.9" r="0.9"/><circle cx="9.7" cy="20.9" r="0.9"/><circle cx="6.1" cy="2.2" r="0.8"/><circle cx="19.3" cy="3.2" r="0.8"/><circle cx="-0.7" cy="3.2" r="0.8"/><circle cx="11.4" cy="5.8" r="0.8"/><circle cx="0.9" cy="9.4" r="1"/><circle cx="20.9" cy="9.4" r="1"/><circle cx="9.7" cy="14.9" r="0.8"/><circle cx="14.8" cy="5.3" r="0.9"/><circle cx="19.1" cy="9.8" r="0.9"/><circle cx="-0.9" cy="9.8" r="0.9"/><circle cx="6.4" cy="7.2" r="0.7"/><circle cx="5.7" cy="12.3" r="0.9"/><circle cx="14" cy="13.1" r="0.7"/><circle cx="14.9" cy="0.5" r="0.8"/><circle cx="14.9" cy="20.5" r="0.8"/><circle cx="2.9" cy="7.4" r="1"/><circle cx="10.5" cy="17.9" r="0.9"/><circle cx="2" cy="14.4" r="0.8"/><circle cx="12.3" cy="7.6" r="0.9"/><circle cx="7.1" cy="4.6" r="0.7"/><circle cx="18.4" cy="16.8" r="0.8"/><circle cx="-1.6" cy="16.8" r="0.8"/><circle cx="1.2" cy="2.1" r="0.9"/><circle cx="21.2" cy="2.1" r="0.9"/><circle cx="18.4" cy="20" r="0.8"/><circle cx="18.4" cy="-0" r="0.8"/><circle cx="-1.6" cy="20" r="0.8"/><circle cx="-1.6" cy="-0" r="0.8"/><circle cx="1" cy="4.3" r="0.8"/><circle cx="21" cy="4.3" r="0.8"/><circle cx="14.6" cy="19.9" r="0.9"/><circle cx="14.6" cy="-0.1" r="0.9"/><circle cx="12.5" cy="2.8" r="0.7"/><circle cx="2.8" cy="12.7" r="0.8"/><circle cx="19.6" cy="17" r="0.8"/><circle cx="-0.4" cy="17" r="0.8"/><circle cx="4.4" cy="7.4" r="0.7"/><circle cx="12.2" cy="16.7" r="0.8"/><circle cx="2.9" cy="1.4" r="0.7"/><circle cx="2.9" cy="21.4" r="0.7"/><circle cx="14.2" cy="17.8" r="0.7"/><circle cx="0.2" cy="19.1" r="0.7"/><circle cx="0.2" cy="-0.9" r="0.7"/><circle cx="20.2" cy="19.1" r="0.7"/><circle cx="20.2" cy="-0.9" r="0.7"/><circle cx="14.5" cy="7.6" r="0.7"/><circle cx="16.1" cy="13.5" r="0.8"/><circle cx="9.4" cy="10.9" r="0.8"/><circle cx="8.6" cy="10.7" r="0.9"/><circle cx="3.1" cy="8" r="0.9"/><circle cx="1.6" cy="16.2" r="0.9"/><circle cx="21.6" cy="16.2" r="0.9"/><circle cx="6.6" cy="13.2" r="0.8"/><circle cx="8.4" cy="7.4" r="0.9"/><circle cx="2.7" cy="17.3" r="0.8"/><circle cx="12.7" cy="17" r="0.7"/><circle cx="14.8" cy="13.8" r="0.7"/><circle cx="11.6" cy="11.1" r="1"/><circle cx="7.2" cy="4.8" r="0.8"/><circle cx="5.2" cy="4.5" r="1"/><circle cx="4.1" cy="15" r="0.7"/><circle cx="16.7" cy="13" r="0.7"/><circle cx="13.4" cy="14.2" r="0.7"/><circle cx="9.2" cy="10.8" r="0.9"/><circle cx="14.7" cy="18.2" r="0.8"/><circle cx="14.7" cy="-1.8" r="0.8"/><circle cx="17" cy="13.6" r="0.9"/><circle cx="2.7" cy="10.1" r="0.8"/><circle cx="16.8" cy="19" r="0.9"/><circle cx="16.8" cy="-1" r="0.9"/><circle cx="19.2" cy="10.3" r="0.8"/><circle cx="-0.8" cy="10.3" r="0.8"/><circle cx="13.7" cy="10.9" r="1"/><circle cx="3.8" cy="9.5" r="0.7"/><circle cx="7.5" cy="12.4" r="0.8"/><circle cx="0.9" cy="0.8" r="0.9"/><circle cx="0.9" cy="20.8" r="0.9"/><circle cx="20.9" cy="0.8" r="0.9"/><circle cx="20.9" cy="20.8" r="0.9"/><circle cx="19.1" cy="9.2" r="0.7"/><circle cx="-0.9" cy="9.2" r="0.7"/><circle cx="2.7" cy="18.2" r="0.7"/><circle cx="19.8" cy="4" r="0.7"/><circle cx="-0.2" cy="4" r="0.7"/><circle cx="14.6" cy="7.1" r="0.8"/><circle cx="16.8" cy="16.1" r="0.9"/><circle cx="0.2" cy="5.1" r="0.8"/><circle cx="20.2" cy="5.1" r="0.8"/><circle cx="10.3" cy="10.5" r="0.8"/><circle cx="9.8" cy="16.3" r="0.8"/><circle cx="7.1" cy="6.5" r="0.9"/><circle cx="0.7" cy="18.2" r="0.8"/><circle cx="20.7" cy="18.2" r="0.8"/><circle cx="7.1" cy="13.9" r="0.7"/><circle cx="19.8" cy="8.8" r="0.9"/><circle cx="-0.2" cy="8.8" r="0.9"/><circle cx="9.8" cy="1.5" r="0.8"/><circle cx="9.8" cy="21.5" r="0.8"/><circle cx="3" cy="18.6" r="0.9"/><circle cx="3" cy="-1.4" r="0.9"/><circle cx="13.4" cy="16.7" r="0.9"/><circle cx="5" cy="19.9" r="0.9"/><circle cx="5" cy="-0.1" r="0.9"/><circle cx="5.4" cy="8.9" r="0.7"/><circle cx="19.9" cy="9.7" r="0.8"/><circle cx="-0.1" cy="9.7" r="0.8"/><circle cx="0.6" cy="16.7" r="0.7"/><circle cx="20.6" cy="16.7" r="0.7"/><circle cx="12.4" cy="12.9" r="0.9"/><circle cx="16.9" cy="19.4" r="0.9"/><circle cx="16.9" cy="-0.6" r="0.9"/><circle cx="9" cy="4.6" r="1"/><circle cx="10.3" cy="7.2" r="0.8"/><circle cx="6.2" cy="2.6" r="0.9"/><circle cx="4.2" cy="16.4" r="0.9"/><circle cx="6.6" cy="9.4" r="1"/><circle cx="6.3" cy="6.7" r="0.8"/><circle cx="4.5" cy="5" r="0.9"/><circle cx="12.2" cy="12.6" r="0.9"/><circle cx="2.9" cy="7.7" r="0.7"/><circle cx="19.8" cy="7.1" r="0.9"/><circle cx="-0.2" cy="7.1" r="0.9"/><circle cx="11.7" cy="2.8" r="0.9"/><circle cx="18.3" cy="18.1" r="0.7"/><circle cx="-1.7" cy="18.1" r="0.7"/><circle cx="4" cy="8.5" r="0.9"/><circle cx="2" cy="15.8" r="0.9"/><circle cx="4.8" cy="15.9" r="0.7"/><circle cx="1.4" cy="19.3" r="0.8"/><circle cx="1.4" cy="-0.7" r="0.8"/><circle cx="21.4" cy="19.3" r="0.8"/><circle cx="21.4" cy="-0.7" r="0.8"/><circle cx="7.3" cy="17.1" r="0.8"/><circle cx="17.5" cy="14.3" r="0.8"/><circle cx="14.1" cy="13.4" r="0.9"/><circle cx="15.7" cy="10.1" r="0.9"/><circle cx="16.2" cy="19.9" r="0.7"/><circle cx="16.2" cy="-0.1" r="0.7"/><circle cx="4.1" cy="17.8" r="0.9"/><circle cx="8.1" cy="7.9" r="0.9"/><circle cx="18.6" cy="11.7" r="0.7"/><circle cx="-1.4" cy="11.7" r="0.7"/><circle cx="14.4" cy="5" r="0.9"/><circle cx="13.2" cy="19.3" r="0.7"/><circle cx="13.2" cy="-0.7" r="0.7"/><circle cx="3.8" cy="18.5" r="0.9"/><circle cx="3.8" cy="-1.5" r="0.9"/><circle cx="6.1" cy="7.1" r="0.8"/><circle cx="19.4" cy="13.8" r="0.9"/><circle cx="-0.6" cy="13.8" r="0.9"/><circle cx="18.4" cy="16.8" r="0.8"/><circle cx="-1.6" cy="16.8" r="0.8"/><circle cx="3.5" cy="18" r="0.8"/><circle cx="15.2" cy="12.5" r="0.8"/><circle cx="0.4" cy="1" r="0.8"/><circle cx="0.4" cy="21" r="0.8"/><circle cx="20.4" cy="1" r="0.8"/><circle cx="20.4" cy="21" r="0.8"/><circle cx="17.9" cy="5.7" r="0.8"/><circle cx="2" cy="4.8" r="0.7"/><circle cx="2.6" cy="1" r="0.7"/><circle cx="2.6" cy="21" r="0.7"/><circle cx="16.3" cy="11.5" r="0.9"/><circle cx="0.1" cy="5.4" r="0.9"/><circle cx="20.1" cy="5.4" r="0.9"/><circle cx="0.3" cy="6.5" r="0.7"/><circle cx="20.3" cy="6.5" r="0.7"/><circle cx="6.4" cy="17.4" r="0.7"/><circle cx="9.7" cy="12.2" r="0.9"/><circle cx="3.5" cy="17.3" r="0.9"/><circle cx="1.7" cy="12.3" r="0.9"/><circle cx="21.7" cy="12.3" r="0.9"/><circle cx="19.8" cy="8" r="1"/><circle cx="-0.2" cy="8" r="1"/><circle cx="17.5" cy="0.5" r="0.8"/><circle cx="17.5" cy="20.5" r="0.8"/><circle cx="13.1" cy="6.3" r="0.8"/><circle cx="14.2" cy="16.7" r="0.7"/><circle cx="0.4" cy="4.2" r="0.8"/><circle cx="20.4" cy="4.2" r="0.8"/></g></pattern></defs>
<rect width="550" height="490" fill="#fff"/>
<text x="66.4" y="169.6" font-size="13.5" font-family="'Liberation Serif', 'DejaVu Serif', serif" textLength="57.6" lengthAdjust="spacingAndGlyphs" fill="#1a1a1a" stroke="#1a1a1a" stroke-width="0.15">Front view</text>
<text x="262.6" y="169.6" font-size="13.5" font-family="'Liberation Serif', 'DejaVu Serif', serif" textLength="49.4" lengthAdjust="spacingAndGlyphs" fill="#1a1a1a" stroke="#1a1a1a" stroke-width="0.15">Top view</text>
<text x="437.6" y="169.6" font-size="13.5" font-family="'Liberation Serif', 'DejaVu Serif', serif" textLength="57.4" lengthAdjust="spacingAndGlyphs" fill="#1a1a1a" stroke="#1a1a1a" stroke-width="0.15">Right view</text>
<text x="66.4" y="326.4" font-size="13.5" font-family="'Liberation Serif', 'DejaVu Serif', serif" textLength="57.6" lengthAdjust="spacingAndGlyphs" fill="#1a1a1a" stroke="#1a1a1a" stroke-width="0.15">Front view</text>
<text x="262.6" y="326.4" font-size="13.5" font-family="'Liberation Serif', 'DejaVu Serif', serif" textLength="49.4" lengthAdjust="spacingAndGlyphs" fill="#1a1a1a" stroke="#1a1a1a" stroke-width="0.15">Top view</text>
<text x="437.6" y="326.4" font-size="13.5" font-family="'Liberation Serif', 'DejaVu Serif', serif" textLength="57.4" lengthAdjust="spacingAndGlyphs" fill="#1a1a1a" stroke="#1a1a1a" stroke-width="0.15">Right view</text>
<text x="66.4" y="464" font-size="13.5" font-family="'Liberation Serif', 'DejaVu Serif', serif" textLength="57.6" lengthAdjust="spacingAndGlyphs" fill="#1a1a1a" stroke="#1a1a1a" stroke-width="0.15">Front view</text>
<text x="262.6" y="464" font-size="13.5" font-family="'Liberation Serif', 'DejaVu Serif', serif" textLength="49.4" lengthAdjust="spacingAndGlyphs" fill="#1a1a1a" stroke="#1a1a1a" stroke-width="0.15">Top view</text>
<text x="437.6" y="464" font-size="13.5" font-family="'Liberation Serif', 'DejaVu Serif', serif" textLength="57.4" lengthAdjust="spacingAndGlyphs" fill="#1a1a1a" stroke="#1a1a1a" stroke-width="0.15">Right view</text>
<text x="287.4" y="188.7" font-size="13.5" font-family="'Liberation Serif', 'DejaVu Serif', serif" text-anchor="middle" fill="#1a1a1a" stroke="#1a1a1a" stroke-width="0.12">(<tspan font-weight="bold">a</tspan>)</text>
<text x="287.4" y="346.5" font-size="13.5" font-family="'Liberation Serif', 'DejaVu Serif', serif" text-anchor="middle" fill="#1a1a1a" stroke="#1a1a1a" stroke-width="0.12">(<tspan font-weight="bold">b</tspan>)</text>
<text x="287.4" y="483.9" font-size="13.5" font-family="'Liberation Serif', 'DejaVu Serif', serif" text-anchor="middle" fill="#1a1a1a" stroke="#1a1a1a" stroke-width="0.12">(<tspan font-weight="bold">c</tspan>)</text>
<polygon points="215.1,25.3 216.6,25.3 218.1,25.3 219.6,25.3 221.2,25.3 222.7,25.3 224.2,25.3 225.7,25.3 227.2,25.3 228.7,25.3 230.2,25.3 231.8,25.3 233.3,25.3 234.8,25.3 236.3,25.3 237.8,25.3 239.3,25.3 240.9,25.3 242.4,25.3 243.9,25.3 245.4,25.3 246.9,25.3 248.4,25.3 249.9,25.3 251.5,25.3 253,25.3 254.5,25.3 256,25.3 257.5,25.3 259,25.3 260.5,25.3 262.1,25.3 263.6,25.3 265.1,25.3 266.6,25.3 268.1,25.3 269.6,25.3 271.2,25.3 272.7,25.3 274.2,25.3 275.7,25.3 277.2,25.3 278.7,25.3 280.2,25.3 281.8,25.3 283.3,25.3 284.8,25.3 286.3,25.3 287.8,25.3 289.3,25.3 290.8,25.3 292.4,25.3 293.9,25.3 295.4,25.3 296.9,25.3 298.4,25.3 299.9,25.3 301.5,25.3 303,25.3 304.5,25.3 306,25.3 307.5,25.3 309,25.3 310.5,25.3 312.1,25.3 313.6,25.3 315.1,25.3 316.6,25.3 318.1,25.3 319.6,25.3 321.1,25.3 322.7,25.3 324.2,25.3 325.7,25.3 327.2,25.3 328.7,25.3 330.2,25.3 331.8,25.3 333.3,25.3 334.8,25.3 336.3,25.3 337.8,25.3 339.3,25.3 340.8,25.3 342.4,25.3 343.9,25.3 345.4,25.3 346.9,25.3 346.9,51.8 215.1,51.8" fill="#7c7c7c" />
<g fill="#6c6c6c" stroke="#484848" stroke-width="0.35"><circle cx="313.8" cy="37" r="1.1"/><circle cx="224.2" cy="27.6" r="1.1"/><circle cx="345.4" cy="38.7" r="1"/><circle cx="313" cy="31.8" r="1.1"/><circle cx="298.6" cy="31" r="1.1"/><circle cx="334.6" cy="33.2" r="1.1"/><circle cx="283.9" cy="32.7" r="1"/><circle cx="279.5" cy="42.1" r="1.2"/><circle cx="253.7" cy="45.3" r="1.1"/><circle cx="345.6" cy="29.4" r="1"/><circle cx="342.7" cy="40.8" r="1"/><circle cx="321.3" cy="43.8" r="1"/><circle cx="220.9" cy="40" r="1.1"/><circle cx="334.3" cy="43.9" r="1"/><circle cx="293" cy="29.5" r="1.2"/><circle cx="286" cy="31.1" r="1.1"/><circle cx="261.6" cy="46.3" r="1"/><circle cx="342.1" cy="35" r="1"/><circle cx="238.4" cy="40.3" r="1"/><circle cx="339.7" cy="41.6" r="1.1"/><circle cx="280.4" cy="26" r="1"/><circle cx="334.2" cy="40.2" r="1.1"/><circle cx="336.8" cy="35.4" r="1"/><circle cx="326.4" cy="35.6" r="1.2"/><circle cx="232.1" cy="32.2" r="1.2"/><circle cx="265.5" cy="32.3" r="1.1"/><circle cx="299.5" cy="39.9" r="1.2"/><circle cx="327.7" cy="34.3" r="1"/><circle cx="259.8" cy="33.1" r="1.2"/><circle cx="227" cy="45.3" r="1.2"/><circle cx="339" cy="36.3" r="1.1"/><circle cx="284.8" cy="41" r="1.2"/><circle cx="219.6" cy="41.8" r="1.1"/><circle cx="283.6" cy="42.6" r="1.2"/><circle cx="344.1" cy="27.1" r="1"/><circle cx="285.9" cy="33.7" r="1.2"/><circle cx="337.3" cy="38.4" r="1.1"/><circle cx="227.7" cy="47.6" r="1.1"/><circle cx="267.3" cy="43.1" r="1.2"/><circle cx="311.9" cy="34.5" r="1.2"/><circle cx="256.2" cy="45.4" r="1.2"/><circle cx="251.5" cy="35.7" r="1"/><circle cx="290.2" cy="30.6" r="1.2"/><circle cx="293" cy="31.4" r="1.2"/><circle cx="299.7" cy="35.6" r="1.2"/><circle cx="276.5" cy="33.3" r="1"/><circle cx="338.8" cy="39.4" r="1"/><circle cx="296" cy="33" r="1.1"/><circle cx="296.4" cy="35.1" r="1"/><circle cx="283" cy="44.4" r="1.1"/><circle cx="246.1" cy="29.3" r="1.2"/><circle cx="286.6" cy="35.5" r="1"/><circle cx="287.4" cy="45.6" r="1"/><circle cx="221" cy="37.8" r="1.1"/><circle cx="221.8" cy="36" r="1"/><circle cx="338.1" cy="34" r="1"/><circle cx="289.2" cy="27.3" r="1"/><circle cx="278.5" cy="49.3" r="1.1"/><circle cx="336.9" cy="40.2" r="1.2"/><circle cx="297.7" cy="36.5" r="1.1"/><circle cx="279.2" cy="27.3" r="1.1"/><circle cx="343.7" cy="28.9" r="1.2"/><circle cx="256.6" cy="50.2" r="1.1"/><circle cx="239.8" cy="41.7" r="1.2"/><circle cx="343.1" cy="32.3" r="1.1"/><circle cx="287.6" cy="50.6" r="1"/><circle cx="255.4" cy="48.6" r="1.1"/><circle cx="268.2" cy="29.5" r="1"/><circle cx="288.3" cy="30.2" r="1.2"/><circle cx="323.4" cy="45.5" r="1"/><circle cx="227.3" cy="35.3" r="1.1"/><circle cx="286.1" cy="37.6" r="1"/><circle cx="298.8" cy="38.1" r="1.2"/><circle cx="239.1" cy="43.6" r="1"/><circle cx="253.3" cy="48.3" r="1"/><circle cx="334.3" cy="36.1" r="1"/><circle cx="344.2" cy="42" r="1.2"/><circle cx="288.4" cy="44" r="1"/><circle cx="331.1" cy="31" r="1.1"/><circle cx="229.6" cy="48" r="1"/><circle cx="267.9" cy="50.2" r="1.1"/><circle cx="269.3" cy="32.3" r="1.1"/><circle cx="269.8" cy="35" r="1.2"/><circle cx="251.8" cy="46.7" r="1.2"/><circle cx="322.9" cy="42.7" r="1.1"/><circle cx="228" cy="28.2" r="1.2"/><circle cx="343.4" cy="37.9" r="1"/><circle cx="284.6" cy="29.9" r="1.1"/><circle cx="303.7" cy="47.4" r="1.1"/><circle cx="242.1" cy="44.4" r="1"/><circle cx="282.3" cy="39.5" r="1.2"/><circle cx="286.7" cy="42.4" r="1.1"/><circle cx="345" cy="36.1" r="1.1"/><circle cx="314.2" cy="29.3" r="1"/><circle cx="291.6" cy="32.6" r="1"/><circle cx="315.1" cy="33.4" r="1"/><circle cx="229" cy="46.1" r="1"/><circle cx="338.7" cy="45.8" r="1.1"/><circle cx="314.3" cy="35.1" r="1"/><circle cx="338.1" cy="25.8" r="1.2"/><circle cx="343.8" cy="34" r="1.2"/><circle cx="335.8" cy="47" r="1.1"/><circle cx="305.6" cy="46.7" r="1"/><circle cx="324.9" cy="42.7" r="1"/><circle cx="239.9" cy="39.2" r="1.1"/><circle cx="338.9" cy="43.3" r="1"/><circle cx="336.3" cy="45.1" r="1"/><circle cx="228.3" cy="32.7" r="1.1"/><circle cx="335.7" cy="37.3" r="1.2"/><circle cx="277" cy="51.1" r="1.2"/><circle cx="296.6" cy="38.2" r="1.1"/><circle cx="219" cy="39.3" r="1.2"/><circle cx="300.7" cy="38.4" r="1.1"/></g>
<g fill="#f8f8f8" stroke="#969696" stroke-width="0.4"><circle cx="297.3" cy="27.9" r="1.2"/><circle cx="249.6" cy="40.7" r="1.2"/><circle cx="327.4" cy="45.3" r="1.2"/><circle cx="273.4" cy="47.4" r="1.2"/><circle cx="266.5" cy="30.3" r="1.1"/><circle cx="217.8" cy="46" r="1.1"/><circle cx="245.5" cy="34.6" r="1.1"/><circle cx="328" cy="25.5" r="1"/><circle cx="262" cy="33.3" r="1.2"/><circle cx="280.8" cy="50.6" r="1.2"/><circle cx="316.1" cy="49.9" r="1"/><circle cx="216.3" cy="47.7" r="1.1"/><circle cx="340.6" cy="30.3" r="1.2"/><circle cx="311.7" cy="25.9" r="1.1"/><circle cx="234" cy="49.4" r="1"/><circle cx="334.8" cy="28.2" r="1.1"/><circle cx="302.6" cy="35.2" r="1.1"/><circle cx="242" cy="41.3" r="1.1"/><circle cx="290.8" cy="43.2" r="1.2"/><circle cx="216.1" cy="30.6" r="1.1"/><circle cx="342.4" cy="47.2" r="1"/><circle cx="318.8" cy="49.9" r="1"/><circle cx="275" cy="32.2" r="1.2"/><circle cx="235.5" cy="44.8" r="1.2"/><circle cx="311" cy="50.9" r="1"/><circle cx="296.8" cy="25.6" r="1.1"/><circle cx="305.1" cy="36.4" r="1.1"/><circle cx="277.5" cy="41.8" r="1.1"/><circle cx="265.3" cy="46.5" r="1.1"/><circle cx="224.1" cy="50.5" r="1.2"/><circle cx="225.2" cy="45.8" r="1.2"/><circle cx="250" cy="46.9" r="1.1"/><circle cx="290.2" cy="51.1" r="1.1"/><circle cx="242.5" cy="29.2" r="1"/><circle cx="302.1" cy="29.4" r="1.1"/><circle cx="269.3" cy="43.3" r="1.1"/><circle cx="274" cy="27.7" r="1"/><circle cx="286.8" cy="48.9" r="1.1"/><circle cx="284.3" cy="37.7" r="1.2"/><circle cx="221.2" cy="44.6" r="1.1"/><circle cx="249.3" cy="31" r="1.1"/><circle cx="224" cy="30.1" r="1.1"/><circle cx="267.1" cy="35.7" r="1.2"/><circle cx="229.8" cy="39.6" r="1.1"/><circle cx="241.9" cy="39" r="1"/><circle cx="326.4" cy="39.8" r="1.2"/><circle cx="243.9" cy="36.7" r="1"/><circle cx="328.4" cy="39.2" r="1"/><circle cx="268.9" cy="26" r="1"/><circle cx="283.6" cy="27" r="1"/><circle cx="267.3" cy="48.1" r="1"/><circle cx="255.6" cy="28.2" r="1.2"/><circle cx="301.4" cy="43.5" r="1"/><circle cx="275.3" cy="43.4" r="1"/><circle cx="220.4" cy="30.5" r="1"/><circle cx="232" cy="28.3" r="1.1"/><circle cx="217.6" cy="43.8" r="1"/><circle cx="309.8" cy="44.5" r="1"/><circle cx="317.2" cy="43.6" r="1"/><circle cx="227.7" cy="26" r="1.1"/><circle cx="273.5" cy="35.9" r="1"/><circle cx="236.7" cy="36.5" r="1.2"/><circle cx="308" cy="43.7" r="1.1"/><circle cx="243.8" cy="49.7" r="1.2"/><circle cx="258.5" cy="28.8" r="1.1"/><circle cx="259.2" cy="35.3" r="1.1"/><circle cx="225.3" cy="37.6" r="1.2"/><circle cx="255.3" cy="40.1" r="1.1"/><circle cx="315.9" cy="44.9" r="1"/><circle cx="291.5" cy="27.4" r="1"/><circle cx="278.5" cy="33.4" r="1.2"/><circle cx="325" cy="26.7" r="1.1"/><circle cx="302.2" cy="27.1" r="1.2"/><circle cx="255.4" cy="31.6" r="1"/><circle cx="251.1" cy="39" r="1.1"/><circle cx="229.6" cy="26.1" r="1"/><circle cx="325.5" cy="51.1" r="1"/><circle cx="244.2" cy="31.1" r="1.2"/><circle cx="322.9" cy="26.6" r="1"/><circle cx="316.6" cy="29.3" r="1.2"/><circle cx="282.5" cy="29.1" r="1"/><circle cx="336.4" cy="42.8" r="1"/><circle cx="330.7" cy="25.7" r="1"/><circle cx="294.5" cy="26.4" r="1.1"/><circle cx="291.8" cy="45.9" r="1.1"/><circle cx="249.6" cy="43" r="1.1"/><circle cx="266.1" cy="41.6" r="1.2"/><circle cx="293.2" cy="42" r="1.2"/><circle cx="247.1" cy="40.2" r="1.1"/><circle cx="337.5" cy="48.2" r="1.1"/><circle cx="297.5" cy="45.2" r="1.2"/><circle cx="245.6" cy="42.5" r="1.2"/><circle cx="271.4" cy="32.8" r="1.2"/><circle cx="330.3" cy="37.3" r="1"/><circle cx="286.9" cy="26.9" r="1"/><circle cx="259.6" cy="50.9" r="1.1"/><circle cx="332.7" cy="35" r="1"/><circle cx="257.3" cy="47.9" r="1.2"/><circle cx="311.9" cy="42.6" r="1.2"/><circle cx="248.8" cy="35.7" r="1"/><circle cx="305.3" cy="49.5" r="1.1"/><circle cx="329.9" cy="48.2" r="1"/><circle cx="275.6" cy="49.8" r="1.2"/><circle cx="251.2" cy="29.7" r="1.2"/><circle cx="316.6" cy="25.4" r="1"/><circle cx="321.1" cy="26.3" r="1.1"/><circle cx="306.2" cy="31.9" r="1.1"/><circle cx="319.3" cy="37.2" r="1.1"/><circle cx="281.2" cy="35.5" r="1"/><circle cx="267.4" cy="46.1" r="1.1"/><circle cx="217.3" cy="38.8" r="1.1"/><circle cx="262.7" cy="50.6" r="1"/><circle cx="294.4" cy="46.6" r="1.2"/><circle cx="237.4" cy="29.4" r="1"/><circle cx="259.7" cy="47.6" r="1.2"/><circle cx="269.7" cy="49.2" r="1.1"/><circle cx="336.4" cy="26.5" r="1"/><circle cx="272.2" cy="30.4" r="1.1"/><circle cx="327" cy="28.2" r="1"/><circle cx="294.7" cy="38.2" r="1"/><circle cx="262.7" cy="39.7" r="1"/><circle cx="274.1" cy="38" r="1.1"/><circle cx="341.6" cy="38.7" r="1.2"/><circle cx="252.5" cy="50.4" r="1"/><circle cx="238.3" cy="46.1" r="1.2"/><circle cx="251.5" cy="27.1" r="1.2"/><circle cx="222.9" cy="34.5" r="1"/><circle cx="296.4" cy="29.7" r="1"/><circle cx="314.9" cy="26.7" r="1.2"/><circle cx="318.9" cy="44.3" r="1.2"/><circle cx="325.1" cy="32.5" r="1.2"/><circle cx="270.3" cy="46.8" r="1.1"/><circle cx="288.5" cy="41.3" r="1.1"/><circle cx="229.5" cy="44.2" r="1"/><circle cx="261.9" cy="42" r="1"/><circle cx="322.1" cy="38.4" r="1"/><circle cx="309.6" cy="47.5" r="1.2"/><circle cx="344.9" cy="43.6" r="1.1"/><circle cx="231.2" cy="37.9" r="1.2"/><circle cx="291.2" cy="35.6" r="1.1"/><circle cx="340.5" cy="44.8" r="1"/><circle cx="302.1" cy="41" r="1.1"/><circle cx="325" cy="30.2" r="1.1"/><circle cx="280.2" cy="39.9" r="1"/><circle cx="221.5" cy="42.7" r="1.1"/><circle cx="344.1" cy="49.1" r="1.2"/><circle cx="223.5" cy="44" r="1.2"/><circle cx="318.5" cy="47.1" r="1"/><circle cx="237" cy="49.7" r="1.1"/><circle cx="314" cy="44.5" r="1"/><circle cx="216" cy="45.1" r="1"/><circle cx="236.8" cy="25.6" r="1"/><circle cx="243.4" cy="26.1" r="1.2"/><circle cx="244.2" cy="44.7" r="1.1"/><circle cx="231.2" cy="49.7" r="1"/><circle cx="339.5" cy="32.2" r="1.2"/><circle cx="312.4" cy="28.5" r="1.1"/><circle cx="310" cy="41.8" r="1.2"/><circle cx="328.1" cy="36.9" r="1.1"/><circle cx="318.1" cy="27.5" r="1"/><circle cx="297.3" cy="47" r="1.2"/><circle cx="302.1" cy="32.9" r="1.1"/><circle cx="227.4" cy="40.1" r="1"/><circle cx="331.4" cy="44.9" r="1.2"/><circle cx="265" cy="34.5" r="1.1"/><circle cx="268.6" cy="37.5" r="1.1"/><circle cx="223.2" cy="38.2" r="1.1"/><circle cx="346.2" cy="49.2" r="1.1"/><circle cx="233" cy="46" r="1"/><circle cx="277.7" cy="31.5" r="1.2"/><circle cx="221.2" cy="47.4" r="1.1"/><circle cx="217.8" cy="36.8" r="1.2"/><circle cx="262.7" cy="37.5" r="1.2"/><circle cx="308.3" cy="39.7" r="1.2"/><circle cx="277.7" cy="39.2" r="1.1"/><circle cx="270.9" cy="26.8" r="1"/><circle cx="308.7" cy="27.2" r="1.2"/><circle cx="333.7" cy="26.6" r="1"/><circle cx="225.3" cy="34.7" r="1.1"/><circle cx="243.5" cy="33.4" r="1"/><circle cx="308.2" cy="34.7" r="1.2"/><circle cx="299.2" cy="47.9" r="1.2"/><circle cx="296.1" cy="41.8" r="1"/><circle cx="304" cy="45.3" r="1.1"/><circle cx="288.9" cy="25.5" r="1"/><circle cx="248.2" cy="29.3" r="1.2"/><circle cx="227.3" cy="29.9" r="1"/><circle cx="258.6" cy="38" r="1.2"/><circle cx="243.9" cy="46.9" r="1.1"/><circle cx="320.8" cy="35.2" r="1.2"/><circle cx="247.8" cy="25.5" r="1.2"/><circle cx="329.3" cy="42.8" r="1"/><circle cx="301.6" cy="47.2" r="1.1"/><circle cx="234.7" cy="43.1" r="1"/><circle cx="294.5" cy="35.4" r="1.2"/><circle cx="275.5" cy="39.3" r="1.2"/><circle cx="313.5" cy="48.9" r="1.1"/><circle cx="289.7" cy="48.8" r="1"/><circle cx="331.8" cy="29.2" r="1.1"/><circle cx="247.1" cy="43.5" r="1.2"/><circle cx="238.3" cy="33.1" r="1.2"/><circle cx="313.5" cy="46.8" r="1"/><circle cx="219.1" cy="34.5" r="1"/><circle cx="331.5" cy="39.9" r="1.2"/><circle cx="294" cy="51.1" r="1.1"/><circle cx="217.3" cy="50" r="1.1"/><circle cx="279.9" cy="44.6" r="1.1"/><circle cx="330.4" cy="27.7" r="1"/><circle cx="281.6" cy="48.5" r="1.2"/><circle cx="219.7" cy="28.3" r="1"/><circle cx="244" cy="41.3" r="1.2"/><circle cx="282.4" cy="37.6" r="1.2"/><circle cx="234.4" cy="40.3" r="1.1"/><circle cx="325.3" cy="45" r="1"/><circle cx="281" cy="30.9" r="1"/><circle cx="307.7" cy="46.9" r="1.2"/><circle cx="236.2" cy="41.9" r="1.1"/><circle cx="258.4" cy="39.8" r="1"/><circle cx="234.1" cy="32.9" r="1"/><circle cx="308.2" cy="29.4" r="1"/><circle cx="306.4" cy="29.2" r="1"/><circle cx="231.5" cy="47.3" r="1.1"/><circle cx="319.3" cy="41.2" r="1.1"/><circle cx="340" cy="47.4" r="1.2"/><circle cx="252" cy="41.7" r="1.1"/><circle cx="340.8" cy="25.9" r="1"/><circle cx="226.3" cy="32.4" r="1.2"/><circle cx="299.9" cy="44.7" r="1"/><circle cx="327.6" cy="30.6" r="1"/><circle cx="345.8" cy="32.7" r="1.1"/><circle cx="297.3" cy="50.3" r="1.1"/><circle cx="256.6" cy="26.3" r="1.1"/><circle cx="331.8" cy="48.9" r="1.2"/><circle cx="260.5" cy="27.2" r="1.2"/><circle cx="257.2" cy="36.8" r="1.1"/><circle cx="254" cy="43.5" r="1.1"/><circle cx="230.2" cy="32.3" r="1.1"/><circle cx="306.2" cy="38.3" r="1.1"/><circle cx="334" cy="30.6" r="1.1"/><circle cx="265.9" cy="50.9" r="1.1"/><circle cx="218.7" cy="25.4" r="1.1"/><circle cx="286.7" cy="29" r="1.2"/><circle cx="228.3" cy="37.8" r="1.2"/><circle cx="316.7" cy="46.8" r="1.1"/><circle cx="221.2" cy="50.5" r="1.2"/><circle cx="241.6" cy="31.6" r="1"/><circle cx="317.4" cy="36.5" r="1.1"/><circle cx="252.9" cy="25.7" r="1.2"/><circle cx="240.7" cy="35.4" r="1"/><circle cx="263.3" cy="31.3" r="1"/><circle cx="224.1" cy="40.3" r="1"/><circle cx="272.8" cy="42.1" r="1.2"/><circle cx="239.2" cy="28.2" r="1"/><circle cx="256.4" cy="30.1" r="1.1"/><circle cx="271.8" cy="40.5" r="1"/><circle cx="249.3" cy="33.2" r="1.2"/><circle cx="308.3" cy="36.7" r="1.1"/><circle cx="323.5" cy="50.7" r="1"/><circle cx="277.4" cy="43.7" r="1"/><circle cx="241.5" cy="48.4" r="1"/><circle cx="303.8" cy="31.2" r="1"/><circle cx="271.1" cy="28.7" r="1"/><circle cx="240" cy="45.4" r="1"/><circle cx="232.3" cy="25.6" r="1.1"/><circle cx="246.7" cy="36.3" r="1"/><circle cx="287.5" cy="32.7" r="1.1"/><circle cx="340.5" cy="50.6" r="1.2"/><circle cx="330.3" cy="32.9" r="1"/><circle cx="253.6" cy="39" r="1.2"/><circle cx="315.1" cy="41" r="1.1"/><circle cx="218.7" cy="48.4" r="1.2"/><circle cx="333.9" cy="49.8" r="1"/><circle cx="264.4" cy="48.7" r="1"/><circle cx="253.1" cy="32.8" r="1.1"/><circle cx="239.8" cy="50.4" r="1.1"/><circle cx="287.9" cy="39.6" r="1"/><circle cx="257.2" cy="41.7" r="1"/><circle cx="331.8" cy="41.8" r="1.2"/><circle cx="338.3" cy="29.2" r="1.2"/><circle cx="285" cy="44.7" r="1.2"/><circle cx="322.9" cy="30.3" r="1.2"/><circle cx="231.2" cy="42.8" r="1"/><circle cx="249.5" cy="37.6" r="1.2"/><circle cx="216.1" cy="32.5" r="1.1"/><circle cx="246" cy="26.5" r="1"/><circle cx="300.8" cy="31.6" r="1.1"/><circle cx="230.4" cy="36" r="1.2"/><circle cx="248.1" cy="48.8" r="1.1"/><circle cx="266.7" cy="28.4" r="1.1"/><circle cx="228" cy="49.7" r="1.1"/><circle cx="276" cy="35.8" r="1.1"/><circle cx="344.1" cy="45.5" r="1.1"/><circle cx="271.9" cy="38.5" r="1.1"/><circle cx="310.7" cy="37.4" r="1.2"/><circle cx="260" cy="41.4" r="1.2"/><circle cx="264.5" cy="27.3" r="1.2"/><circle cx="228.6" cy="42.1" r="1.1"/><circle cx="323.5" cy="35.3" r="1.1"/><circle cx="315.6" cy="31.2" r="1"/><circle cx="311.4" cy="46.8" r="1.2"/><circle cx="320.8" cy="46.4" r="1.2"/><circle cx="222.8" cy="48.8" r="1"/><circle cx="257.9" cy="44.3" r="1.2"/><circle cx="275" cy="26.1" r="1"/><circle cx="329.4" cy="45.2" r="1.1"/><circle cx="235.7" cy="38.6" r="1"/><circle cx="224.3" cy="32.7" r="1"/><circle cx="289" cy="37.3" r="1.2"/><circle cx="298" cy="41.8" r="1.1"/><circle cx="277" cy="48.2" r="1.1"/><circle cx="301.7" cy="50.4" r="1"/><circle cx="260.4" cy="44" r="1.1"/><circle cx="340.2" cy="28.3" r="1"/><circle cx="283.3" cy="46.4" r="1.1"/><circle cx="277.9" cy="25.9" r="1"/><circle cx="235.2" cy="34.6" r="1"/><circle cx="279.9" cy="37.6" r="1.2"/><circle cx="235.3" cy="29.7" r="1.1"/><circle cx="269.3" cy="39.6" r="1.1"/><circle cx="222" cy="31.8" r="1.1"/><circle cx="318.8" cy="34.4" r="1.1"/><circle cx="273.8" cy="40" r="1.2"/><circle cx="283.3" cy="50.3" r="1.2"/><circle cx="218.2" cy="31.3" r="1.1"/><circle cx="310.5" cy="32.4" r="1.1"/><circle cx="310.4" cy="29.3" r="1.2"/><circle cx="313" cy="39.7" r="1"/><circle cx="258" cy="31.9" r="1.2"/><circle cx="322.7" cy="47.6" r="1"/><circle cx="273.9" cy="29.5" r="1"/><circle cx="336.7" cy="32.2" r="1.2"/><circle cx="308.6" cy="50.3" r="1.1"/><circle cx="247.1" cy="33.7" r="1"/><circle cx="291.7" cy="48.9" r="1.2"/><circle cx="322.2" cy="28.5" r="1.2"/><circle cx="299.4" cy="26.6" r="1.1"/><circle cx="293.3" cy="33.6" r="1"/><circle cx="277.2" cy="28.9" r="1.1"/><circle cx="304.4" cy="27.3" r="1"/><circle cx="247.1" cy="45.7" r="1.1"/><circle cx="294" cy="48.4" r="1.1"/><circle cx="239.3" cy="36.9" r="1.1"/><circle cx="273.4" cy="45.5" r="1.2"/><circle cx="278.3" cy="46.8" r="1"/><circle cx="281" cy="46.5" r="1"/><circle cx="242.2" cy="50.6" r="1.2"/><circle cx="263.5" cy="46.4" r="1.1"/><circle cx="342.2" cy="49.4" r="1"/><circle cx="334.5" cy="45.9" r="1"/><circle cx="306.6" cy="25.8" r="1.1"/><circle cx="273.1" cy="50.3" r="1"/><circle cx="317.4" cy="33.2" r="1.2"/><circle cx="279" cy="29.4" r="1.2"/><circle cx="281.7" cy="42.9" r="1.2"/><circle cx="326.9" cy="48.8" r="1.1"/><circle cx="342.8" cy="30.4" r="1"/><circle cx="226.6" cy="51" r="1"/><circle cx="258.5" cy="27" r="1"/><circle cx="259.6" cy="31" r="1"/><circle cx="235.4" cy="47.7" r="1.1"/><circle cx="275.8" cy="45.5" r="1.2"/><circle cx="244.7" cy="39.6" r="1.1"/><circle cx="336.8" cy="28.3" r="1.1"/><circle cx="329.6" cy="50.3" r="1.2"/><circle cx="324.6" cy="36.9" r="1.2"/><circle cx="296.9" cy="40.1" r="1.1"/><circle cx="253.5" cy="29.1" r="1.1"/><circle cx="284.7" cy="35.6" r="1"/><circle cx="284.9" cy="25.7" r="1.1"/><circle cx="225.6" cy="43.4" r="1.2"/><circle cx="324" cy="28.6" r="1"/><circle cx="250.6" cy="44.6" r="1.2"/><circle cx="237.6" cy="38.6" r="1.1"/><circle cx="225.9" cy="41.6" r="1.2"/><circle cx="254.4" cy="36.2" r="1"/><circle cx="217.2" cy="27" r="1"/><circle cx="324.6" cy="48.5" r="1"/><circle cx="231.5" cy="34.3" r="1.1"/><circle cx="293.5" cy="44.3" r="1"/><circle cx="281.1" cy="33.1" r="1.2"/><circle cx="234" cy="26.2" r="1.1"/><circle cx="254.7" cy="26.2" r="1.2"/><circle cx="265.6" cy="44.1" r="1"/><circle cx="241" cy="25.8" r="1.2"/><circle cx="292.7" cy="39.3" r="1"/><circle cx="319.4" cy="39.1" r="1.2"/><circle cx="257.6" cy="34.3" r="1.1"/><circle cx="262.4" cy="28.7" r="1.1"/><circle cx="235.9" cy="27.8" r="1.2"/><circle cx="322.5" cy="32.4" r="1"/><circle cx="276.1" cy="30.3" r="1.1"/><circle cx="302.4" cy="37.6" r="1.2"/><circle cx="222" cy="26.1" r="1.2"/><circle cx="337.9" cy="50.4" r="1.1"/><circle cx="284.3" cy="48.5" r="1.1"/><circle cx="267.6" cy="33.2" r="1"/><circle cx="279.4" cy="35.1" r="1.2"/><circle cx="249.9" cy="48.8" r="1.1"/><circle cx="327.7" cy="51" r="1.2"/><circle cx="303.3" cy="42.8" r="1.2"/><circle cx="316.8" cy="39.3" r="1"/><circle cx="260.7" cy="37.5" r="1.1"/><circle cx="304.6" cy="33.8" r="1.1"/><circle cx="273.1" cy="25.8" r="1.2"/><circle cx="221.2" cy="33.8" r="1.1"/><circle cx="237.3" cy="34.7" r="1.2"/><circle cx="300.2" cy="29.3" r="1"/><circle cx="320.1" cy="31.4" r="1"/><circle cx="326.6" cy="43.7" r="1"/><circle cx="225.1" cy="25.8" r="1"/><circle cx="236.5" cy="31.3" r="1.1"/><circle cx="321.8" cy="40.3" r="1.1"/><circle cx="289.5" cy="34" r="1"/><circle cx="266.5" cy="38.7" r="1.2"/><circle cx="342.6" cy="44" r="1.1"/><circle cx="346.1" cy="41.5" r="1.1"/><circle cx="246.2" cy="49.9" r="1.1"/><circle cx="238.5" cy="30.8" r="1"/><circle cx="241.8" cy="37" r="1.2"/><circle cx="275.7" cy="41.3" r="1.2"/><circle cx="299.3" cy="33.3" r="1.2"/><circle cx="332.3" cy="37.4" r="1.2"/><circle cx="216.3" cy="41" r="1.2"/><circle cx="219.6" cy="46.5" r="1.2"/><circle cx="251.4" cy="33.3" r="1"/><circle cx="314" cy="42.6" r="1"/><circle cx="308.4" cy="31.6" r="1"/><circle cx="345.3" cy="46.9" r="1.2"/><circle cx="317.5" cy="41.5" r="1.2"/><circle cx="310.9" cy="40.1" r="1.2"/><circle cx="290.4" cy="40.5" r="1.2"/><circle cx="262.5" cy="35.1" r="1"/><circle cx="232.6" cy="51.1" r="1.2"/><circle cx="261.9" cy="48.8" r="1"/><circle cx="230.4" cy="30" r="1.2"/><circle cx="263.6" cy="44.2" r="1.2"/><circle cx="303.5" cy="50.3" r="1"/><circle cx="258.6" cy="46" r="1"/><circle cx="238.7" cy="25.7" r="1.1"/><circle cx="245.7" cy="38" r="1.2"/><circle cx="246.2" cy="47.7" r="1.1"/><circle cx="324.4" cy="39.8" r="1"/><circle cx="221.9" cy="28" r="1.1"/><circle cx="340.4" cy="34.5" r="1.1"/><circle cx="256.3" cy="38.6" r="1.2"/><circle cx="233.9" cy="36.9" r="1.2"/><circle cx="233.2" cy="38.9" r="1.1"/><circle cx="285.7" cy="47.2" r="1"/><circle cx="292.7" cy="36.6" r="1.1"/><circle cx="315.7" cy="37.9" r="1.2"/><circle cx="244" cy="28.1" r="1.1"/><circle cx="328.4" cy="46.9" r="1.2"/><circle cx="307.1" cy="41.6" r="1"/><circle cx="294.6" cy="28.6" r="1.1"/><circle cx="267.6" cy="40.6" r="1"/><circle cx="320.4" cy="28.4" r="1.2"/><circle cx="270.1" cy="30.7" r="1.1"/><circle cx="248" cy="51" r="1.1"/><circle cx="332.3" cy="51.1" r="1.2"/><circle cx="341.3" cy="32.6" r="1.2"/><circle cx="216.8" cy="35.1" r="1.2"/><circle cx="255.2" cy="34.3" r="1.1"/><circle cx="304.8" cy="40.7" r="1"/><circle cx="249.8" cy="28.1" r="1.1"/><circle cx="217.4" cy="28.9" r="1"/><circle cx="224.6" cy="48" r="1.1"/><circle cx="264.3" cy="42.5" r="1.1"/><circle cx="294.5" cy="40.7" r="1.2"/><circle cx="312.1" cy="44.5" r="1"/><circle cx="303.2" cy="39.5" r="1.1"/><circle cx="273.3" cy="33.8" r="1"/><circle cx="285.5" cy="50.2" r="1"/><circle cx="345.9" cy="25.8" r="1.2"/><circle cx="247.3" cy="31.7" r="1.2"/><circle cx="313.9" cy="51.1" r="1.2"/><circle cx="238.7" cy="48" r="1.2"/><circle cx="232.5" cy="41" r="1.2"/><circle cx="250.1" cy="25.7" r="1"/><circle cx="305.6" cy="43.3" r="1.1"/><circle cx="265.5" cy="25.4" r="1.1"/><circle cx="291.6" cy="25.5" r="1.2"/><circle cx="318.6" cy="25.5" r="1.2"/><circle cx="320.7" cy="50.7" r="1.2"/><circle cx="215.9" cy="42.8" r="1.1"/><circle cx="333.4" cy="47.9" r="1.1"/><circle cx="264.3" cy="29.8" r="1.1"/><circle cx="341.9" cy="27.4" r="1.2"/><circle cx="292" cy="51" r="1"/><circle cx="283.1" cy="34.7" r="1.1"/><circle cx="289.9" cy="45.8" r="1"/><circle cx="219.3" cy="50.7" r="1"/><circle cx="271.6" cy="45.4" r="1"/><circle cx="296" cy="44.2" r="1.2"/><circle cx="260.3" cy="39.5" r="1"/><circle cx="306.8" cy="45.2" r="1"/><circle cx="219.4" cy="44.2" r="1.2"/><circle cx="265.4" cy="36.6" r="1.2"/><circle cx="272" cy="48.9" r="1.1"/><circle cx="271.5" cy="35.7" r="1.2"/><circle cx="344.7" cy="31.1" r="1.2"/><circle cx="320.4" cy="33.2" r="1.1"/><circle cx="233.6" cy="30.6" r="1"/><circle cx="299.4" cy="50.3" r="1"/><circle cx="329.2" cy="29" r="1"/><circle cx="332.6" cy="46.2" r="1.1"/><circle cx="279.8" cy="48" r="1"/><circle cx="261.4" cy="30.3" r="1.1"/><circle cx="277.5" cy="37.3" r="1.1"/><circle cx="318.1" cy="31.2" r="1"/><circle cx="240.6" cy="29.6" r="1"/><circle cx="327.5" cy="32.4" r="1"/><circle cx="335.8" cy="49.6" r="1"/><circle cx="250.5" cy="50.8" r="1.1"/><circle cx="264.3" cy="38.8" r="1.2"/><circle cx="326.6" cy="37.9" r="1"/><circle cx="262.8" cy="26.5" r="1.1"/><circle cx="271" cy="42.5" r="1"/><circle cx="328.2" cy="41.2" r="1.2"/><circle cx="330.2" cy="35" r="1"/><circle cx="341" cy="42.8" r="1"/><circle cx="310.8" cy="49" r="1.2"/><circle cx="242" cy="46.6" r="1.2"/><circle cx="309.9" cy="34.3" r="1"/><circle cx="294.7" cy="30.7" r="1"/><circle cx="320.8" cy="48.4" r="1.1"/><circle cx="219.6" cy="32.7" r="1.2"/><circle cx="316.5" cy="34.8" r="1.2"/><circle cx="245.2" cy="32.6" r="1.1"/><circle cx="240.6" cy="33.3" r="1.1"/><circle cx="254.2" cy="41.6" r="1.2"/><circle cx="291" cy="38.1" r="1"/><circle cx="336.6" cy="30.4" r="1.1"/><circle cx="341.4" cy="36.8" r="1"/><circle cx="248.2" cy="41.9" r="1.2"/><circle cx="267.1" cy="26.6" r="1.1"/><circle cx="334" cy="38.3" r="1.2"/><circle cx="252.8" cy="37.2" r="1.2"/><circle cx="232.2" cy="36.1" r="1.2"/><circle cx="259.5" cy="25.4" r="1.1"/><circle cx="325.6" cy="47" r="1"/><circle cx="271.2" cy="50.6" r="1.2"/><circle cx="248.7" cy="44.7" r="1.1"/><circle cx="288.2" cy="47.4" r="1.1"/><circle cx="222.9" cy="46.3" r="1"/><circle cx="230.8" cy="45.6" r="1.2"/><circle cx="280.8" cy="28.5" r="1"/><circle cx="332.7" cy="32.2" r="1.2"/><circle cx="235.3" cy="51" r="1.1"/><circle cx="315.3" cy="48" r="1.2"/><circle cx="307.1" cy="48.8" r="1.2"/><circle cx="226.2" cy="49.1" r="1.1"/><circle cx="254.3" cy="50.1" r="1.1"/><circle cx="216.2" cy="25.4" r="1"/><circle cx="237.4" cy="44.2" r="1.2"/><circle cx="224.2" cy="36.2" r="1"/><circle cx="222.2" cy="30" r="1.2"/><circle cx="296" cy="48.7" r="1.2"/><circle cx="215.8" cy="36.8" r="1.2"/><circle cx="225.9" cy="28.3" r="1.1"/><circle cx="223.6" cy="42" r="1.2"/><circle cx="302" cy="45.4" r="1.1"/></g>
<circle cx="303.4" cy="25" r="0.65" fill="#fa0cde"/><circle cx="291.1" cy="25" r="0.65" fill="#0ce024"/><circle cx="271.9" cy="25" r="0.65" fill="#3030ff"/><circle cx="265.9" cy="25" r="0.65" fill="#3030ff"/><circle cx="341.1" cy="25" r="0.65" fill="#fa0cde"/><circle cx="216.9" cy="25" r="0.65" fill="#fa0cde"/><circle cx="261.4" cy="25" r="0.65" fill="#3030ff"/><circle cx="313.2" cy="25" r="0.65" fill="#fa0012"/><circle cx="247.8" cy="25" r="0.65" fill="#3030ff"/><circle cx="280.2" cy="25" r="0.65" fill="#3030ff"/><circle cx="336.2" cy="25" r="0.65" fill="#fa0cde"/><circle cx="237.1" cy="25" r="0.65" fill="#3030ff"/><circle cx="277.5" cy="25" r="0.65" fill="#fa0012"/><circle cx="317.2" cy="25" r="0.65" fill="#fa0012"/><circle cx="232.3" cy="25" r="0.65" fill="#0ce024"/><circle cx="265" cy="25" r="0.65" fill="#fa0cde"/><circle cx="231.1" cy="25" r="0.65" fill="#0ce024"/><circle cx="292.5" cy="25" r="0.65" fill="#fa0cde"/><circle cx="310.3" cy="25" r="0.65" fill="#fa0012"/><circle cx="309.8" cy="25" r="0.65" fill="#0ce024"/><circle cx="306.6" cy="25" r="0.65" fill="#0ce024"/><circle cx="240.2" cy="25" r="0.65" fill="#fa0cde"/><circle cx="336.8" cy="25" r="0.65" fill="#fa0012"/><circle cx="279" cy="25" r="0.65" fill="#fa0012"/><circle cx="268.7" cy="25" r="0.65" fill="#3030ff"/><circle cx="284.9" cy="25" r="0.65" fill="#fa0cde"/><circle cx="310.6" cy="25" r="0.65" fill="#0ce024"/><circle cx="274.7" cy="25" r="0.65" fill="#fa0cde"/><circle cx="342.2" cy="25" r="0.65" fill="#fa0012"/><circle cx="254.1" cy="25" r="0.65" fill="#fa0012"/><circle cx="228.8" cy="25" r="0.65" fill="#3030ff"/><circle cx="322.3" cy="25" r="0.65" fill="#3030ff"/><circle cx="264.9" cy="25" r="0.65" fill="#fa0cde"/><circle cx="305" cy="25" r="0.65" fill="#3030ff"/><circle cx="228.6" cy="25" r="0.65" fill="#3030ff"/><circle cx="319.1" cy="25" r="0.65" fill="#0ce024"/><circle cx="252.3" cy="25" r="0.65" fill="#0ce024"/><circle cx="220.5" cy="25" r="0.65" fill="#0ce024"/><circle cx="227.7" cy="25" r="0.65" fill="#fa0cde"/><circle cx="315.5" cy="25" r="0.65" fill="#fa0cde"/><circle cx="246.8" cy="25" r="0.65" fill="#fa0012"/><circle cx="340.2" cy="25" r="0.65" fill="#fa0012"/><circle cx="215.4" cy="25" r="0.65" fill="#0ce024"/><circle cx="227.7" cy="25" r="0.65" fill="#fa0012"/><circle cx="279" cy="25" r="0.65" fill="#fa0012"/>
<circle cx="215.6" cy="38.7" r="0.7" fill="#fa0cde"/><circle cx="215.1" cy="35.9" r="0.7" fill="#fa0cde"/><circle cx="215.7" cy="38.2" r="0.7" fill="#fa0cde"/><circle cx="215.2" cy="44.6" r="0.7" fill="#fa0012"/><circle cx="215.5" cy="28.2" r="0.7" fill="#fa0cde"/><circle cx="215.4" cy="47.9" r="0.7" fill="#fa0012"/><circle cx="216" cy="42.6" r="0.7" fill="#fa0cde"/><circle cx="215.5" cy="48.2" r="0.7" fill="#fa0cde"/>
<circle cx="346.1" cy="38.1" r="0.7" fill="#fa0012"/><circle cx="346.2" cy="39.6" r="0.7" fill="#fa0012"/><circle cx="346" cy="29.4" r="0.7" fill="#fa0012"/><circle cx="346.7" cy="39.6" r="0.7" fill="#fa0012"/><circle cx="346.4" cy="40" r="0.7" fill="#fa0cde"/><circle cx="346.1" cy="46.2" r="0.7" fill="#fa0cde"/><circle cx="346.7" cy="41.5" r="0.7" fill="#fa0012"/><circle cx="346.1" cy="30.8" r="0.7" fill="#fa0cde"/>
<circle cx="310.9" cy="51.3" r="0.7" fill="#fa0012"/><circle cx="328.6" cy="44.3" r="0.7" fill="#fa0012"/><circle cx="321.9" cy="29" r="0.7" fill="#fa0012"/><circle cx="261.8" cy="39.3" r="0.7" fill="#fa0012"/><circle cx="269.1" cy="43.2" r="0.7" fill="#fa0012"/><circle cx="290.3" cy="48.7" r="0.7" fill="#fa0012"/><circle cx="305.3" cy="39.2" r="0.7" fill="#fa0012"/><circle cx="290.1" cy="31.1" r="0.7" fill="#fa0012"/><circle cx="220.5" cy="40.6" r="0.7" fill="#fa0012"/><circle cx="253" cy="51.2" r="0.7" fill="#fa0012"/>
<line x1="215.1" y1="51.8" x2="215.1" y2="6" stroke="#000" stroke-width="0.6" />
<polygon points="215.1,3.5 213.4,9.5 216.8,9.5" fill="#000" />
<line x1="215.1" y1="51.8" x2="360" y2="51.8" stroke="#000" stroke-width="0.6" />
<polygon points="364.5,51.8 358.5,50.2 358.5,53.4" fill="#000" />
<text x="219" y="10.4" font-size="7" font-family="'Liberation Sans', Arial, sans-serif" textLength="21.8" lengthAdjust="spacingAndGlyphs" fill="#111" stroke="#222" stroke-width="0.08" >y (mm)</text>
<text x="349.6" y="48" font-size="7" font-family="'Liberation Sans', Arial, sans-serif" textLength="21.5" lengthAdjust="spacingAndGlyphs" fill="#111" stroke="#222" stroke-width="0.08" >x (mm)</text>
<line x1="213.6" y1="51.4" x2="215.1" y2="51.4" stroke="#000" stroke-width="0.4" />
<text x="213.9" y="53.6" font-size="6.1" font-family="'Liberation Sans', Arial, sans-serif" text-anchor="end" textLength="2.6" lengthAdjust="spacingAndGlyphs" fill="#111" stroke="#222" stroke-width="0.08" >0</text>
<line x1="213.6" y1="38.7" x2="215.1" y2="38.7" stroke="#000" stroke-width="0.4" />
<text x="213.9" y="40.9" font-size="6.1" font-family="'Liberation Sans', Arial, sans-serif" text-anchor="end" textLength="7.9" lengthAdjust="spacingAndGlyphs" fill="#111" stroke="#222" stroke-width="0.08" >100</text>
<line x1="213.6" y1="26" x2="215.1" y2="26" stroke="#000" stroke-width="0.4" />
<text x="213.9" y="28.2" font-size="6.1" font-family="'Liberation Sans', Arial, sans-serif" text-anchor="end" textLength="7.9" lengthAdjust="spacingAndGlyphs" fill="#111" stroke="#222" stroke-width="0.08" >200</text>
<line x1="215.1" y1="51.8" x2="215.1" y2="53.3" stroke="#000" stroke-width="0.4" />
<text x="215.1" y="59.7" font-size="6.1" font-family="'Liberation Sans', Arial, sans-serif" text-anchor="middle" textLength="2.8" lengthAdjust="spacingAndGlyphs" fill="#111" stroke="#222" stroke-width="0.08" >0</text>
<line x1="228.3" y1="51.8" x2="228.3" y2="53.3" stroke="#000" stroke-width="0.4" />
<text x="228.3" y="59.7" font-size="6.1" font-family="'Liberation Sans', Arial, sans-serif" text-anchor="middle" textLength="8.3" lengthAdjust="spacingAndGlyphs" fill="#111" stroke="#222" stroke-width="0.08" >100</text>
<line x1="241.5" y1="51.8" x2="241.5" y2="53.3" stroke="#000" stroke-width="0.4" />
<text x="241.5" y="59.7" font-size="6.1" font-family="'Liberation Sans', Arial, sans-serif" text-anchor="middle" textLength="8.3" lengthAdjust="spacingAndGlyphs" fill="#111" stroke="#222" stroke-width="0.08" >200</text>
<line x1="254.6" y1="51.8" x2="254.6" y2="53.3" stroke="#000" stroke-width="0.4" />
<text x="254.6" y="59.7" font-size="6.1" font-family="'Liberation Sans', Arial, sans-serif" text-anchor="middle" textLength="8.3" lengthAdjust="spacingAndGlyphs" fill="#111" stroke="#222" stroke-width="0.08" >300</text>
<line x1="267.8" y1="51.8" x2="267.8" y2="53.3" stroke="#000" stroke-width="0.4" />
<text x="267.8" y="59.7" font-size="6.1" font-family="'Liberation Sans', Arial, sans-serif" text-anchor="middle" textLength="8.3" lengthAdjust="spacingAndGlyphs" fill="#111" stroke="#222" stroke-width="0.08" >400</text>
<line x1="281" y1="51.8" x2="281" y2="53.3" stroke="#000" stroke-width="0.4" />
<text x="281" y="59.7" font-size="6.1" font-family="'Liberation Sans', Arial, sans-serif" text-anchor="middle" textLength="8.3" lengthAdjust="spacingAndGlyphs" fill="#111" stroke="#222" stroke-width="0.08" >500</text>
<line x1="294.2" y1="51.8" x2="294.2" y2="53.3" stroke="#000" stroke-width="0.4" />
<text x="294.2" y="59.7" font-size="6.1" font-family="'Liberation Sans', Arial, sans-serif" text-anchor="middle" textLength="8.3" lengthAdjust="spacingAndGlyphs" fill="#111" stroke="#222" stroke-width="0.08" >600</text>
<line x1="307.4" y1="51.8" x2="307.4" y2="53.3" stroke="#000" stroke-width="0.4" />
<text x="307.4" y="59.7" font-size="6.1" font-family="'Liberation Sans', Arial, sans-serif" text-anchor="middle" textLength="8.3" lengthAdjust="spacingAndGlyphs" fill="#111" stroke="#222" stroke-width="0.08" >700</text>
<line x1="320.5" y1="51.8" x2="320.5" y2="53.3" stroke="#000" stroke-width="0.4" />
<text x="320.5" y="59.7" font-size="6.1" font-family="'Liberation Sans', Arial, sans-serif" text-anchor="middle" textLength="8.3" lengthAdjust="spacingAndGlyphs" fill="#111" stroke="#222" stroke-width="0.08" >800</text>
<line x1="333.7" y1="51.8" x2="333.7" y2="53.3" stroke="#000" stroke-width="0.4" />
<text x="333.7" y="59.7" font-size="6.1" font-family="'Liberation Sans', Arial, sans-serif" text-anchor="middle" textLength="8.3" lengthAdjust="spacingAndGlyphs" fill="#111" stroke="#222" stroke-width="0.08" >900</text>
<line x1="346.9" y1="51.8" x2="346.9" y2="53.3" stroke="#000" stroke-width="0.4" />
<text x="346.9" y="59.7" font-size="6.1" font-family="'Liberation Sans', Arial, sans-serif" text-anchor="middle" textLength="11.1" lengthAdjust="spacingAndGlyphs" fill="#111" stroke="#222" stroke-width="0.08" >1000</text>
<polygon points="23.1,101.3 24.5,101.3 25.9,101.5 27.3,101.4 28.7,101 30.1,101.3 31.5,101.3 32.9,101.2 34.3,101.2 35.7,101.3 37.1,101.2 38.5,101 39.9,101.5 41.3,101.2 42.7,101 44.1,101.4 45.5,100.9 46.9,101 48.3,101.2 49.7,100.9 51.1,101.3 52.6,101 54,101.5 55.4,101.2 56.8,101.1 58.2,101 59.6,101.2 61,101.1 62.4,101.5 63.8,101.2 65.2,101.1 66.6,101.4 68,101 69.4,101.4 70.8,101.3 72.2,100.9 73.6,101.2 75,101.3 76.4,101.1 77.8,101.4 79.2,101.3 80.6,101.2 82,101.1 83.4,101.3 84.8,101.2 86.2,101.1 87.6,101.1 89,101.4 90.4,101.4 91.8,101.4 93.2,101.3 94.6,101.4 96,100.9 97.4,101 98.8,101.2 100.2,101.4 101.6,101.2 103,101.3 104.4,101.2 105.8,101.1 107.2,101.3 108.6,101.5 110,101 111.5,101.2 112.9,101.4 114.3,101.1 115.7,101.5 117.1,101.5 118.5,100.9 119.9,101.4 121.3,101.4 122.7,101.1 124.1,101.3 125.5,101.3 126.9,101.1 128.3,101.3 129.7,101.2 131.1,101.4 132.5,101.1 133.9,101.3 135.3,101.2 136.7,101.3 138.1,101.2 139.5,101.4 139.5,107 138.1,107 136.7,107 135.3,107 133.9,107.1 132.5,106.8 131.1,107 129.7,106.9 128.3,106.9 126.9,107.1 125.5,106.8 124.1,107.2 122.7,107.1 121.3,106.8 119.9,106.8 118.5,107.2 117.1,107 115.7,107.1 114.3,107.2 112.9,107.2 111.5,107.1 110,106.8 108.6,107.1 107.2,106.9 105.8,107 104.4,106.9 103,107.2 101.6,106.8 100.2,107 98.8,106.8 97.4,106.9 96,106.8 94.6,106.8 93.2,107.3 91.8,107.1 90.4,107.2 89,106.8 87.6,107.3 86.2,107 84.8,107.2 83.4,107 82,106.9 80.6,106.8 79.2,107.2 77.8,107 76.4,107.1 75,106.8 73.6,107.1 72.2,106.7 70.8,107 69.4,107 68,107.1 66.6,107.2 65.2,106.8 63.8,106.8 62.4,107 61,106.8 59.6,106.9 58.2,107.2 56.8,107.1 55.4,107 54,107.2 52.6,107 51.1,107 49.7,107 48.3,107.1 46.9,106.9 45.5,106.8 44.1,107.2 42.7,106.8 41.3,106.8 39.9,106.8 38.5,107.3 37.1,106.9 35.7,107 34.3,107 32.9,107.1 31.5,107 30.1,107.2 28.7,106.7 27.3,106.9 25.9,107.2 24.5,107.2 23.1,106.7" fill="url(#pw)" />
<polygon points="23.1,106.7 24.7,106.9 26.3,106.9 28,106.1 29.6,106.9 31.2,106.9 32.8,106.8 34.4,106.9 36,106.3 37.7,105.9 39.3,106.9 40.9,106.4 42.5,106.9 44.1,105.7 45.7,106.9 47.4,105.7 49,105.9 50.6,106.4 52.2,106.1 53.8,105.9 55.4,106.1 57.1,105.8 58.7,106.2 60.3,105.8 61.9,105.6 63.5,106.1 65.1,106.6 66.8,105.9 68.4,106.3 70,106.3 71.6,106.5 73.2,106.6 74.8,106.6 76.5,106.6 78.1,106.4 79.7,106.5 81.3,106.5 82.9,106 84.5,106.2 86.2,106.7 87.8,106.8 89.4,106.1 91,106.8 92.6,105.8 94.2,105.8 95.8,106.3 97.5,106.8 99.1,106.3 100.7,106.5 102.3,106.1 103.9,106.6 105.6,106 107.2,106.4 108.8,105.9 110.4,105.7 112,106.7 113.6,106.7 115.2,105.9 116.9,106.1 118.5,105.7 120.1,106.6 121.7,106.9 123.3,106.3 125,106.3 126.6,107 128.2,106.9 129.8,107 131.4,106 133,106.4 134.7,106.5 136.3,106.7 137.9,105.7 139.5,105.9 139.5,113.1 137.9,112.7 136.3,112.6 134.7,113.6 133,113.5 131.4,112.7 129.8,112.4 128.2,113.1 126.6,112.5 125,112.7 123.3,113.3 121.7,113.2 120.1,113.2 118.5,113.6 116.9,113.2 115.2,113.1 113.6,112.3 112,112.6 110.4,113.2 108.8,113.2 107.2,113.2 105.6,112.7 103.9,113.5 102.3,113.4 100.7,112.8 99.1,113.5 97.5,113.1 95.8,113 94.2,113.3 92.6,113.2 91,112.4 89.4,112.4 87.8,112.7 86.2,112.4 84.5,113.1 82.9,113.4 81.3,112.5 79.7,113.2 78.1,113.7 76.5,113.4 74.8,112.4 73.2,112.5 71.6,112.7 70,113.4 68.4,113.6 66.8,112.5 65.1,112.5 63.5,113.3 61.9,113.6 60.3,112.9 58.7,113.3 57.1,112.9 55.4,113.6 53.8,112.9 52.2,113.7 50.6,113.6 49,113.4 47.4,112.9 45.7,113.5 44.1,113.4 42.5,112.6 40.9,113.4 39.3,112.7 37.7,112.9 36,113.4 34.4,113.2 32.8,112.5 31.2,113 29.6,113 28,113.1 26.3,113.6 24.7,113.4 23.1,112.7" fill="url(#pg)" />
<polygon points="23.1,111.4 24.7,111.2 26.3,111.6 28,111.9 29.6,111.5 31.2,111 32.8,111.1 34.4,111.3 36,111.5 37.7,111.5 39.3,111.8 40.9,111.3 42.5,112 44.1,111 45.7,111.8 47.4,111.5 49,110.8 50.6,111.7 52.2,111.6 53.8,111.9 55.4,111.5 57.1,111 58.7,110.9 60.3,111.9 61.9,111.3 63.5,111.3 65.1,111.3 66.8,110.8 68.4,111.9 70,110.9 71.6,111.4 73.2,111.7 74.8,111.5 76.5,111.8 78.1,111.4 79.7,111.6 81.3,111.3 82.9,111.5 84.5,111.7 86.2,111.7 87.8,110.9 89.4,111.1 91,111.8 92.6,111.4 94.2,111.1 95.8,111.2 97.5,111.3 99.1,111.8 100.7,111.3 102.3,110.9 103.9,110.9 105.6,111.2 107.2,111.2 108.8,111.5 110.4,110.9 112,111.9 113.6,111.9 115.2,111.9 116.9,110.9 118.5,111.3 120.1,111.9 121.7,111.9 123.3,111 125,111.3 126.6,111 128.2,111.8 129.8,111.4 131.4,111.3 133,111.3 134.7,111.2 136.3,111.2 137.9,111.2 139.5,111.9 139.5,119 137.9,118.1 136.3,118.2 134.7,118.8 133,119.1 131.4,118.5 129.8,118.4 128.2,118.2 126.6,118.9 125,118.5 123.3,118.5 121.7,118.8 120.1,118.6 118.5,118.3 116.9,118.6 115.2,118.3 113.6,118.6 112,118.2 110.4,118.8 108.8,118.4 107.2,118.6 105.6,118.2 103.9,118.7 102.3,118.3 100.7,118.3 99.1,119.2 97.5,119 95.8,118.3 94.2,119.1 92.6,118.1 91,118.6 89.4,119.2 87.8,118.9 86.2,118.5 84.5,118.4 82.9,118.6 81.3,118.6 79.7,118.4 78.1,118.9 76.5,118.1 74.8,118.3 73.2,118.8 71.6,118.2 70,118.7 68.4,118.3 66.8,118.7 65.1,118.1 63.5,118.2 61.9,119.1 60.3,118.5 58.7,118.9 57.1,118.2 55.4,118.5 53.8,118.6 52.2,118.7 50.6,118.2 49,118.3 47.4,118.4 45.7,118.3 44.1,118.8 42.5,118.5 40.9,118.5 39.3,118.6 37.7,118.3 36,119 34.4,118.9 32.8,118.5 31.2,118.3 29.6,118.5 28,119.1 26.3,118.4 24.7,119 23.1,118.4" fill="url(#pr)" />
<polygon points="23.1,116.9 24.7,116.7 26.3,117.4 28,117.1 29.6,116.8 31.2,117.4 32.8,116.6 34.4,117.7 36,117.3 37.7,117.7 39.3,117.5 40.9,117.4 42.5,117.5 44.1,116.6 45.7,117.2 47.4,116.7 49,116.9 50.6,116.7 52.2,116.8 53.8,117.4 55.4,116.7 57.1,117.1 58.7,117.3 60.3,117 61.9,117.7 63.5,116.6 65.1,117.1 66.8,117.3 68.4,116.8 70,117.1 71.6,117.5 73.2,117.2 74.8,116.8 76.5,117.3 78.1,117.6 79.7,117.7 81.3,117.7 82.9,117.7 84.5,117.8 86.2,117.3 87.8,117.4 89.4,116.9 91,117.1 92.6,117.3 94.2,116.7 95.8,117.4 97.5,117.4 99.1,117.6 100.7,117.7 102.3,117.3 103.9,116.7 105.6,117.1 107.2,117 108.8,117.6 110.4,117.6 112,117.1 113.6,117.8 115.2,117 116.9,117.5 118.5,117.2 120.1,117.3 121.7,117.3 123.3,116.8 125,117 126.6,117.5 128.2,117.6 129.8,116.9 131.4,117.3 133,116.9 134.7,116.8 136.3,116.9 137.9,117.1 139.5,117.7 139.5,124.5 137.9,123.6 136.3,123.6 134.7,124.3 133,124.5 131.4,123.9 129.8,124.5 128.2,123.7 126.6,124 125,123.7 123.3,123.8 121.7,123.5 120.1,123.6 118.5,123.9 116.9,123.7 115.2,123.6 113.6,123.6 112,123.6 110.4,123.5 108.8,123.4 107.2,123.6 105.6,123.8 103.9,123.7 102.3,124.2 100.7,124.4 99.1,124.6 97.5,124.2 95.8,124.1 94.2,124.4 92.6,123.9 91,124.5 89.4,124.1 87.8,124.1 86.2,124.2 84.5,124 82.9,123.8 81.3,123.9 79.7,124 78.1,124.5 76.5,123.8 74.8,124.2 73.2,123.6 71.6,123.5 70,123.8 68.4,123.9 66.8,124 65.1,124.3 63.5,123.8 61.9,124.1 60.3,124 58.7,124.3 57.1,123.6 55.4,124.3 53.8,123.5 52.2,124.1 50.6,123.9 49,124.3 47.4,123.6 45.7,123.9 44.1,123.9 42.5,123.6 40.9,123.6 39.3,124 37.7,123.5 36,123.7 34.4,123.6 32.8,124 31.2,123.7 29.6,123.7 28,124.1 26.3,124.1 24.7,124.3 23.1,123.9" fill="url(#pm)" />
<polygon points="23.1,122.4 24.7,123.2 26.3,122.7 28,122.3 29.6,122.5 31.2,123 32.8,122.6 34.4,123.1 36,122 37.7,122.9 39.3,122.4 40.9,122.2 42.5,122.9 44.1,123.2 45.7,122.2 47.4,122.5 49,122.1 50.6,122.1 52.2,122.5 53.8,123.2 55.4,122.7 57.1,122.4 58.7,123.1 60.3,122.5 61.9,122.4 63.5,122.5 65.1,122.4 66.8,123.1 68.4,122.1 70,122.3 71.6,122.2 73.2,122.3 74.8,123 76.5,122.2 78.1,122.5 79.7,123.2 81.3,122 82.9,122.1 84.5,122.4 86.2,123.2 87.8,122.1 89.4,123.1 91,123 92.6,122.5 94.2,122.5 95.8,122.2 97.5,122 99.1,122.7 100.7,122.4 102.3,122.2 103.9,122.2 105.6,122.2 107.2,122.3 108.8,122.2 110.4,122.6 112,123.2 113.6,123.1 115.2,122.2 116.9,122.8 118.5,122.2 120.1,122.5 121.7,122.4 123.3,122.6 125,123 126.6,122.5 128.2,123.2 129.8,122.8 131.4,122.6 133,122.4 134.7,122.8 136.3,122.3 137.9,122.6 139.5,122.2 139.5,129.4 137.9,129.6 136.3,129.2 134.7,128.9 133,129.2 131.4,129.9 129.8,129.3 128.2,129.2 126.6,129.9 125,129.3 123.3,129 121.7,128.9 120.1,129.1 118.5,130 116.9,129.1 115.2,129.8 113.6,129.4 112,128.9 110.4,129.1 108.8,129.6 107.2,130 105.6,129.1 103.9,129.8 102.3,129.2 100.7,129.1 99.1,129.9 97.5,129.4 95.8,129.6 94.2,129.8 92.6,129.1 91,129.9 89.4,129 87.8,129.9 86.2,128.9 84.5,129.2 82.9,129.3 81.3,129.6 79.7,129.7 78.1,129.2 76.5,129.9 74.8,129.5 73.2,129.7 71.6,129.2 70,129.5 68.4,129.8 66.8,128.8 65.1,129.5 63.5,129.5 61.9,129.9 60.3,128.8 58.7,129.5 57.1,129.3 55.4,129.5 53.8,129 52.2,129.4 50.6,129.3 49,129.3 47.4,129.8 45.7,128.9 44.1,128.9 42.5,129 40.9,129.7 39.3,129.4 37.7,129 36,129 34.4,130 32.8,129.8 31.2,129.6 29.6,129.9 28,129 26.3,128.9 24.7,128.9 23.1,128.9" fill="url(#pn)" />
<polygon points="23.1,128.4 24.7,128 26.3,128.5 28,127.5 29.6,127.5 31.2,127.8 32.8,128.2 34.4,128.4 36,127.7 37.7,127.9 39.3,128.4 40.9,128.2 42.5,128.3 44.1,127.8 45.7,128.4 47.4,127.4 49,127.4 50.6,127.5 52.2,128.3 53.8,127.4 55.4,127.6 57.1,128.3 58.7,128.2 60.3,127.6 61.9,128.3 63.5,127.5 65.1,128 66.8,127.7 68.4,127.4 70,128.2 71.6,128.1 73.2,127.6 74.8,128.4 76.5,128.5 78.1,128.2 79.7,127.7 81.3,127.5 82.9,127.6 84.5,128.2 86.2,128.2 87.8,128.6 89.4,127.7 91,127.5 92.6,128.2 94.2,127.6 95.8,128.4 97.5,127.4 99.1,128 100.7,128.1 102.3,128 103.9,128.4 105.6,127.9 107.2,128 108.8,127.5 110.4,128 112,127.8 113.6,127.7 115.2,128.2 116.9,127.8 118.5,128.3 120.1,127.9 121.7,127.6 123.3,128.2 125,128.1 126.6,128.3 128.2,128.3 129.8,128 131.4,127.7 133,127.8 134.7,128.5 136.3,127.6 137.9,128.4 139.5,128.3 139.5,134.5 137.9,135.2 136.3,134.8 134.7,134.9 133,134.5 131.4,134.7 129.8,135.3 128.2,134.6 126.6,134.8 125,134.8 123.3,135.5 121.7,134.5 120.1,134.6 118.5,134.8 116.9,134.5 115.2,134.8 113.6,134.5 112,135.6 110.4,135.3 108.8,134.6 107.2,135.3 105.6,135.4 103.9,134.6 102.3,134.7 100.7,135.1 99.1,134.7 97.5,134.5 95.8,135.2 94.2,134.8 92.6,135.4 91,134.7 89.4,135.1 87.8,135 86.2,135.3 84.5,135.4 82.9,135.4 81.3,134.6 79.7,134.9 78.1,135.3 76.5,134.6 74.8,135.6 73.2,134.9 71.6,134.7 70,134.8 68.4,135.2 66.8,134.9 65.1,134.4 63.5,135.1 61.9,134.5 60.3,134.7 58.7,134.4 57.1,134.9 55.4,134.7 53.8,135.3 52.2,134.5 50.6,134.8 49,134.6 47.4,134.8 45.7,135.5 44.1,135.3 42.5,135.5 40.9,135.1 39.3,135.2 37.7,134.5 36,135.5 34.4,135.4 32.8,135.2 31.2,134.4 29.6,135 28,135.2 26.3,135 24.7,135.6 23.1,134.5" fill="url(#pc)" />
<line x1="23.1" y1="100.4" x2="139.5" y2="100.4" stroke="#5a5ac8" stroke-width="0.5" />
<line x1="23.1" y1="139.6" x2="23.1" y2="87" stroke="#777" stroke-width="0.8" />
<polygon points="23.1,84.5 21.6,90 24.6,90" fill="#000" />
<line x1="23.1" y1="139.6" x2="143" y2="139.6" stroke="#888" stroke-width="0.8" />
<polygon points="147,139.6 142.2,138.3 142.2,140.9" fill="#000" />
<text x="26.3" y="89.8" font-size="6.5" font-family="'Liberation Sans', Arial, sans-serif" textLength="17.2" lengthAdjust="spacingAndGlyphs" fill="#111" stroke="#222" stroke-width="0.08" >z(mm)</text>
<text x="149" y="141.8" font-size="6.5" font-family="'Liberation Sans', Arial, sans-serif" textLength="17.5" lengthAdjust="spacingAndGlyphs" fill="#111" stroke="#222" stroke-width="0.08" >x(mm)</text>
<line x1="21.6" y1="100.4" x2="23.1" y2="100.4" stroke="#000" stroke-width="0.4" />
<text x="21.5" y="102.3" font-size="5.3" font-family="'Liberation Sans', Arial, sans-serif" text-anchor="end" textLength="3" lengthAdjust="spacingAndGlyphs" fill="#111" stroke="#222" stroke-width="0.08" >0</text>
<line x1="21.6" y1="106" x2="23.1" y2="106" stroke="#000" stroke-width="0.4" />
<text x="21.5" y="107.9" font-size="5.3" font-family="'Liberation Sans', Arial, sans-serif" text-anchor="end" textLength="7.8" lengthAdjust="spacingAndGlyphs" fill="#111" stroke="#222" stroke-width="0.08" >-50</text>
<line x1="21.6" y1="111.6" x2="23.1" y2="111.6" stroke="#000" stroke-width="0.4" />
<text x="21.5" y="113.5" font-size="5.3" font-family="'Liberation Sans', Arial, sans-serif" text-anchor="end" textLength="10.8" lengthAdjust="spacingAndGlyphs" fill="#111" stroke="#222" stroke-width="0.08" >-100</text>
<line x1="21.6" y1="117.2" x2="23.1" y2="117.2" stroke="#000" stroke-width="0.4" />
<text x="21.5" y="119.1" font-size="5.3" font-family="'Liberation Sans', Arial, sans-serif" text-anchor="end" textLength="10.8" lengthAdjust="spacingAndGlyphs" fill="#111" stroke="#222" stroke-width="0.08" >-150</text>
<line x1="21.6" y1="122.8" x2="23.1" y2="122.8" stroke="#000" stroke-width="0.4" />
<text x="21.5" y="124.7" font-size="5.3" font-family="'Liberation Sans', Arial, sans-serif" text-anchor="end" textLength="10.8" lengthAdjust="spacingAndGlyphs" fill="#111" stroke="#222" stroke-width="0.08" >-200</text>
<line x1="21.6" y1="128.4" x2="23.1" y2="128.4" stroke="#000" stroke-width="0.4" />
<text x="21.5" y="130.3" font-size="5.3" font-family="'Liberation Sans', Arial, sans-serif" text-anchor="end" textLength="10.8" lengthAdjust="spacingAndGlyphs" fill="#111" stroke="#222" stroke-width="0.08" >-250</text>
<line x1="21.6" y1="134" x2="23.1" y2="134" stroke="#000" stroke-width="0.4" />
<text x="21.5" y="135.9" font-size="5.3" font-family="'Liberation Sans', Arial, sans-serif" text-anchor="end" textLength="10.8" lengthAdjust="spacingAndGlyphs" fill="#111" stroke="#222" stroke-width="0.08" >-300</text>
<line x1="21.6" y1="139.6" x2="23.1" y2="139.6" stroke="#000" stroke-width="0.4" />
<text x="21.5" y="141.5" font-size="5.3" font-family="'Liberation Sans', Arial, sans-serif" text-anchor="end" textLength="10.8" lengthAdjust="spacingAndGlyphs" fill="#111" stroke="#222" stroke-width="0.08" >-350</text>
<line x1="23.1" y1="139.6" x2="23.1" y2="141.1" stroke="#000" stroke-width="0.4" />
<text x="23.1" y="146.9" font-size="5.1" font-family="'Liberation Sans', Arial, sans-serif" text-anchor="middle" textLength="2.9" lengthAdjust="spacingAndGlyphs" fill="#111" stroke="#222" stroke-width="0.08" >0</text>
<line x1="34.7" y1="139.6" x2="34.7" y2="141.1" stroke="#000" stroke-width="0.4" />
<text x="34.7" y="146.9" font-size="5.1" font-family="'Liberation Sans', Arial, sans-serif" text-anchor="middle" textLength="8.8" lengthAdjust="spacingAndGlyphs" fill="#111" stroke="#222" stroke-width="0.08" >100</text>
<line x1="46.3" y1="139.6" x2="46.3" y2="141.1" stroke="#000" stroke-width="0.4" />
<text x="46.3" y="146.9" font-size="5.1" font-family="'Liberation Sans', Arial, sans-serif" text-anchor="middle" textLength="8.8" lengthAdjust="spacingAndGlyphs" fill="#111" stroke="#222" stroke-width="0.08" >200</text>
<line x1="58" y1="139.6" x2="58" y2="141.1" stroke="#000" stroke-width="0.4" />
<text x="58" y="146.9" font-size="5.1" font-family="'Liberation Sans', Arial, sans-serif" text-anchor="middle" textLength="8.8" lengthAdjust="spacingAndGlyphs" fill="#111" stroke="#222" stroke-width="0.08" >300</text>
<line x1="69.6" y1="139.6" x2="69.6" y2="141.1" stroke="#000" stroke-width="0.4" />
<text x="69.6" y="146.9" font-size="5.1" font-family="'Liberation Sans', Arial, sans-serif" text-anchor="middle" textLength="8.8" lengthAdjust="spacingAndGlyphs" fill="#111" stroke="#222" stroke-width="0.08" >400</text>
<line x1="81.2" y1="139.6" x2="81.2" y2="141.1" stroke="#000" stroke-width="0.4" />
<text x="81.2" y="146.9" font-size="5.1" font-family="'Liberation Sans', Arial, sans-serif" text-anchor="middle" textLength="8.8" lengthAdjust="spacingAndGlyphs" fill="#111" stroke="#222" stroke-width="0.08" >500</text>
<line x1="92.8" y1="139.6" x2="92.8" y2="141.1" stroke="#000" stroke-width="0.4" />
<text x="92.8" y="146.9" font-size="5.1" font-family="'Liberation Sans', Arial, sans-serif" text-anchor="middle" textLength="8.8" lengthAdjust="spacingAndGlyphs" fill="#111" stroke="#222" stroke-width="0.08" >600</text>
<line x1="104.4" y1="139.6" x2="104.4" y2="141.1" stroke="#000" stroke-width="0.4" />
<text x="104.4" y="146.9" font-size="5.1" font-family="'Liberation Sans', Arial, sans-serif" text-anchor="middle" textLength="8.8" lengthAdjust="spacingAndGlyphs" fill="#111" stroke="#222" stroke-width="0.08" >700</text>
<line x1="116.1" y1="139.6" x2="116.1" y2="141.1" stroke="#000" stroke-width="0.4" />
<text x="116.1" y="146.9" font-size="5.1" font-family="'Liberation Sans', Arial, sans-serif" text-anchor="middle" textLength="8.8" lengthAdjust="spacingAndGlyphs" fill="#111" stroke="#222" stroke-width="0.08" >800</text>
<line x1="127.7" y1="139.6" x2="127.7" y2="141.1" stroke="#000" stroke-width="0.4" />
<text x="127.7" y="146.9" font-size="5.1" font-family="'Liberation Sans', Arial, sans-serif" text-anchor="middle" textLength="8.8" lengthAdjust="spacingAndGlyphs" fill="#111" stroke="#222" stroke-width="0.08" >900</text>
<line x1="139.3" y1="139.6" x2="139.3" y2="141.1" stroke="#000" stroke-width="0.4" />
<text x="139.3" y="146.9" font-size="5.1" font-family="'Liberation Sans', Arial, sans-serif" text-anchor="middle" textLength="11.7" lengthAdjust="spacingAndGlyphs" fill="#111" stroke="#222" stroke-width="0.08" >1000</text>
<polygon points="56.6,82.3 56.6,85.3 56.9,85.3 57.3,91.5 58.3,97.6 59.9,103.1 62.1,108 65.1,112.3 68.2,115.3 71.2,117.4 73.1,115.9 75.2,115.3 77.4,118.4 77.1,125.7 73.7,133.7 69.4,130 70,123.3 69.8,122.3 66.3,120.2 63.3,117.8 60.2,114.1 57.5,109.2 55.6,103.7 54.4,97.6 53.7,90.2 53.5,82.3" fill="#0606ff" />
<polygon points="70,123.3 77.1,125.7 73.7,133.7 69.4,130" fill="#0000c4" />
<text x="59" y="94.4" font-size="6.8" font-family="'Liberation Sans', Arial, sans-serif" textLength="52.5" lengthAdjust="spacingAndGlyphs" fill="#111" stroke="#222" stroke-width="0.08" >Shallow seed layer</text>
<text x="113.6" y="95.4" font-size="6.8" font-family="'Liberation Sans', Arial, sans-serif" textLength="45" lengthAdjust="spacingAndGlyphs" fill="#111" stroke="#222" stroke-width="0.08" >Deep seed layer</text>
<text x="147.6" y="107.4" font-size="6.8" font-family="'Liberation Sans', Arial, sans-serif" textLength="25.2" lengthAdjust="spacingAndGlyphs" fill="#111" stroke="#222" stroke-width="0.08" >Top layer</text>
<text x="147.8" y="119.2" font-size="6.8" font-family="'Liberation Sans', Arial, sans-serif" textLength="33.6" lengthAdjust="spacingAndGlyphs" fill="#111" stroke="#222" stroke-width="0.08" >Middle layer</text>
<text x="147.8" y="131" font-size="6.8" font-family="'Liberation Sans', Arial, sans-serif" textLength="31.5" lengthAdjust="spacingAndGlyphs" fill="#111" stroke="#222" stroke-width="0.08" >Deep  layer</text>
<line x1="69.7" y1="96.7" x2="65.4" y2="104.2" stroke="#333" stroke-width="0.45" />
<line x1="113.9" y1="96.2" x2="107.4" y2="109.5" stroke="#333" stroke-width="0.45" />
<line x1="146.3" y1="105.5" x2="141.7" y2="105.5" stroke="#222" stroke-width="0.5" />
<line x1="141.7" y1="105.5" x2="126.2" y2="102.2" stroke="#222" stroke-width="0.45" />
<line x1="141.7" y1="105.5" x2="128.6" y2="108.7" stroke="#222" stroke-width="0.45" />
<line x1="146.3" y1="116.1" x2="141.7" y2="116.1" stroke="#222" stroke-width="0.5" />
<line x1="141.7" y1="116.1" x2="127" y2="113.6" stroke="#222" stroke-width="0.45" />
<line x1="141.7" y1="116.1" x2="128.6" y2="120.2" stroke="#222" stroke-width="0.45" />
<line x1="146.3" y1="128.4" x2="141.7" y2="128.4" stroke="#222" stroke-width="0.5" />
<line x1="141.7" y1="128.4" x2="127.8" y2="124.3" stroke="#222" stroke-width="0.45" />
<line x1="141.7" y1="128.4" x2="129.5" y2="131.6" stroke="#222" stroke-width="0.45" />
<polygon points="270.6,102.9 264.5,107.1 258.3,112.4 253.1,119 249.2,125.9 250.7,147.3 259.9,147.3 267.5,138.9 271.3,138.9 276.7,136.6 277.6,101.4 271.3,100.6" fill="#0606ff" />
<polygon points="266.9,86.4 268.7,86.4 272.1,101.4 267.8,101.4" fill="#0606ff" />
<polygon points="268.4,86.4 274.4,88 277.6,101.4 272.1,100.8" fill="#fa0012" />
<polygon points="273.9,102.9 277.3,102.9 276.4,112.9" fill="#0ce024" />
<polygon points="271.3,102.9 272.4,102.9 272.4,136.6 271.5,136.6" fill="#fa0012" />
<polygon points="275.5,125.9 276.7,136.3 272.9,135.8" fill="#fa0012" />
<polygon points="259.9,127.4 262.9,125.9 266.8,126.6 266,130.5 263.7,128.2 260.6,131.2" fill="#fa0012" />
<polygon points="262.2,111.3 264.5,109.8 262.9,113.6" fill="#fa0012" />
<polygon points="256.1,116.7 258,114.9 256.8,119" fill="#fa0012" />
<polygon points="255.3,123.6 256.5,121.3 256.2,128.9" fill="#0ce024" />
<polygon points="266.8,116.7 267.8,115.2 267.5,122" fill="#0ce024" />
<polygon points="267.2,127.4 268.4,128.9 267.5,132" fill="#0ce024" />
<polygon points="258.3,132.8 259.6,133.5 258,139.6" fill="#0ce024" />
<polygon points="263.7,132.8 264.5,133.5 263.7,138.1" fill="#0ce024" />
<polygon points="391.9,80.1 409.5,80.1 410.3,82.2 414.1,82.7 420.1,97.8 434,125.5 438.9,125.5 455.2,136.1 453.6,140.2 434,134.5 399.7,126.3 399.7,123.1 391.9,114.1" fill="#0606ff" />
<polygon points="438.9,125.5 455.2,136.1 454.2,138.6 436.9,128.1" fill="#fa0012" />
<polygon points="409.5,104.3 420.1,106.7 416,108.7" fill="#0ce024" />
<polygon points="400.5,107.9 407,110.8 401.3,109.5" fill="#0ce024" />
<polygon points="420.1,106.2 425,110 421.7,108.9" fill="#fa0012" />
<polygon points="423.9,110.8 429.9,119 426.1,117.3" fill="#fa0012" />
<polygon points="409.5,112.1 413.1,113.3 414.4,118.7 409.5,117.3 411.9,115.7" fill="#fa0012" />
<polygon points="400.5,116.5 404.6,116.2 405.4,118.7 401.3,119" fill="#fa0012" />
<polygon points="401.3,119 437.2,126 436.9,127.5 401.3,120.3" fill="#0ce024" />
<polygon points="396.1,116.5 398.1,117.3 396.8,118.5" fill="#0ce024" />
<circle cx="402.6" cy="102.3" r="0.6" fill="#fff"/>
<polygon points="492.4,101.7 493.8,101.7 495.2,101.5 496.6,101.6 498,101.4 499.4,101.7 500.8,101.5 502.2,101.6 503.6,101.6 505,101.6 506.4,101.6 507.9,101.8 509.3,101.6 510.7,101.6 512.1,101.7 513.5,101.5 514.9,101.4 516.3,101.6 517.7,101.7 519.1,101.4 520.5,101.7 520.5,107.7 519.1,107.5 517.7,107.8 516.3,107.6 514.9,107.7 513.5,107.4 512.1,107.7 510.7,107.6 509.3,107.5 507.9,107.5 506.4,107.7 505,107.6 503.6,107.8 502.2,107.4 500.8,107.5 499.4,107.7 498,107.6 496.6,107.6 495.2,107.6 493.8,107.4 492.4,107.5" fill="url(#pw)" />
<polygon points="491.4,107.5 493,106.8 494.6,106.6 496.2,106.7 497.9,107.4 499.5,106.5 501.1,107.6 502.7,107.1 504.3,106.6 505.9,106.5 507.6,106.6 509.2,106.7 510.8,106.7 512.4,106.6 514,107.6 515.6,107.2 517.3,106.6 518.9,107.3 520.5,107.5 520.5,116.5 518.9,117.1 517.3,116.8 515.6,116.1 514,116.9 512.4,116.1 510.8,117 509.2,117.2 507.6,117.2 505.9,117.2 504.3,117.3 502.7,116.2 501.1,116.5 499.5,117.2 497.9,116.2 496.2,116.9 494.6,116.4 493,116.6 491.4,116.9" fill="url(#pg)" />
<polygon points="490.9,115.7 492.5,115.3 494.2,115.6 495.8,115.7 497.5,115.4 499.1,115.1 500.8,114.7 502.4,115.3 504.1,115.1 505.7,114.6 507.3,115.6 509,115.1 510.6,115.5 512.3,114.7 513.9,114.7 515.6,115 517.2,114.7 518.9,115.2 520.5,115.4 520.5,121.5 518.9,121.3 517.2,122.3 515.6,121.8 513.9,122.1 512.3,121.5 510.6,122.1 509,121.6 507.3,122.2 505.7,121.4 504.1,122.1 502.4,121.7 500.8,121.8 499.1,121.7 497.5,122.4 495.8,121.7 494.2,121.5 492.5,121.3 490.9,122" fill="url(#pr)" />
<polygon points="490.9,120.9 492.5,120 494.2,120.5 495.8,120.1 497.5,120.4 499.1,120.4 500.8,120 502.4,120.4 504.1,120.2 505.7,120.1 507.3,120.4 509,120 510.6,119.9 512.3,119.9 513.9,120.7 515.6,120.4 517.2,120.7 518.9,120 520.5,120.3 520.5,128.2 518.9,128 517.2,128.1 515.6,128.8 513.9,129 512.3,128.4 510.6,128.6 509,128.3 507.3,128.4 505.7,128.9 504.1,128.3 502.4,128.1 500.8,128.7 499.1,128.1 497.5,128.2 495.8,128.3 494.2,128.3 492.5,128.7 490.9,128.3" fill="url(#pm)" />
<polygon points="491.4,127 493,126.9 494.6,127 496.2,126.7 497.9,127 499.5,127.3 501.1,127 502.7,126.7 504.3,127.5 505.9,127.5 507.6,126.8 509.2,126.4 510.8,127 512.4,126.7 514,127.3 515.6,127.6 517.3,126.6 518.9,126.8 520.5,127.4 520.5,134.9 518.9,135.4 517.3,136 515.6,135.1 514,135.7 512.4,135.4 510.8,135.9 509.2,135.8 507.6,135.6 505.9,135.4 504.3,135.3 502.7,135.3 501.1,134.9 499.5,135.7 497.9,135.1 496.2,135.9 494.6,135.1 493,135.5 491.4,135.7" fill="url(#pn)" />
<polygon points="491.4,134.3 493,134.5 494.6,134.3 496.2,133.5 497.9,134.4 499.5,134.2 501.1,133.9 502.7,134.6 504.3,133.5 505.9,134.4 507.6,133.9 509.2,134.6 510.8,133.4 512.4,134.2 514,133.6 515.6,133.5 517.3,134.3 518.9,134.2 520.5,134.4 520.5,142.8 518.9,141.8 517.3,141.8 515.6,142.5 514,142.5 512.4,142.3 510.8,142.2 509.2,142.8 507.6,142.7 505.9,142.2 504.3,141.9 502.7,141.8 501.1,141.9 499.5,142.6 497.9,142.4 496.2,142.8 494.6,141.8 493,142.4 491.4,142.5" fill="url(#pc)" />
<rect x="492.4" y="100.8" width="28.1" height="2" fill="#f0f0ff" stroke="#9c9ce8" stroke-width="0.5"/>
<line x1="492.4" y1="147.9" x2="492.4" y2="88" stroke="#000" stroke-width="0.6" />
<polygon points="492.4,85.5 490.7,91.5 494.1,91.5" fill="#000" />
<line x1="492.4" y1="147.9" x2="528" y2="147.9" stroke="#000" stroke-width="0.6" />
<polygon points="533.7,147.9 526.2,145.9 526.2,149.9" fill="#000" />
<line x1="492.4" y1="147.9" x2="492.4" y2="149.4" stroke="#000" stroke-width="0.4" />
<line x1="505.8" y1="147.9" x2="505.8" y2="149.4" stroke="#000" stroke-width="0.4" />
<line x1="519.6" y1="147.9" x2="519.6" y2="149.4" stroke="#000" stroke-width="0.4" />
<text x="494.8" y="90.2" font-size="7.8" font-family="'Liberation Sans', Arial, sans-serif" textLength="22.6" lengthAdjust="spacingAndGlyphs" fill="#111" stroke="#222" stroke-width="0.08" >z (mm)</text>
<text x="523.1" y="144" font-size="7.8" font-family="'Liberation Sans', Arial, sans-serif" textLength="22.2" lengthAdjust="spacingAndGlyphs" fill="#111" stroke="#222" stroke-width="0.08" >y (mm)</text>
<line x1="490.9" y1="101" x2="492.4" y2="101" stroke="#000" stroke-width="0.4" />
<text x="490.6" y="103.3" font-size="6.4" font-family="'Liberation Sans', Arial, sans-serif" text-anchor="end" textLength="4" lengthAdjust="spacingAndGlyphs" fill="#111" stroke="#222" stroke-width="0.08" >0</text>
<line x1="490.9" y1="107.7" x2="492.4" y2="107.7" stroke="#000" stroke-width="0.4" />
<text x="490.6" y="110" font-size="6.4" font-family="'Liberation Sans', Arial, sans-serif" text-anchor="end" textLength="10.4" lengthAdjust="spacingAndGlyphs" fill="#111" stroke="#222" stroke-width="0.08" >-50</text>
<line x1="490.9" y1="114.4" x2="492.4" y2="114.4" stroke="#000" stroke-width="0.4" />
<text x="490.6" y="116.7" font-size="6.4" font-family="'Liberation Sans', Arial, sans-serif" text-anchor="end" textLength="14.3" lengthAdjust="spacingAndGlyphs" fill="#111" stroke="#222" stroke-width="0.08" >-100</text>
<line x1="490.9" y1="121.1" x2="492.4" y2="121.1" stroke="#000" stroke-width="0.4" />
<text x="490.6" y="123.4" font-size="6.4" font-family="'Liberation Sans', Arial, sans-serif" text-anchor="end" textLength="14.3" lengthAdjust="spacingAndGlyphs" fill="#111" stroke="#222" stroke-width="0.08" >-150</text>
<line x1="490.9" y1="127.8" x2="492.4" y2="127.8" stroke="#000" stroke-width="0.4" />
<text x="490.6" y="130.1" font-size="6.4" font-family="'Liberation Sans', Arial, sans-serif" text-anchor="end" textLength="14.3" lengthAdjust="spacingAndGlyphs" fill="#111" stroke="#222" stroke-width="0.08" >-200</text>
<line x1="490.9" y1="134.5" x2="492.4" y2="134.5" stroke="#000" stroke-width="0.4" />
<text x="490.6" y="136.8" font-size="6.4" font-family="'Liberation Sans', Arial, sans-serif" text-anchor="end" textLength="14.3" lengthAdjust="spacingAndGlyphs" fill="#111" stroke="#222" stroke-width="0.08" >-250</text>
<line x1="490.9" y1="141.2" x2="492.4" y2="141.2" stroke="#000" stroke-width="0.4" />
<text x="490.6" y="143.5" font-size="6.4" font-family="'Liberation Sans', Arial, sans-serif" text-anchor="end" textLength="14.3" lengthAdjust="spacingAndGlyphs" fill="#111" stroke="#222" stroke-width="0.08" >-300</text>
<line x1="490.9" y1="147.9" x2="492.4" y2="147.9" stroke="#000" stroke-width="0.4" />
<text x="490.6" y="150.2" font-size="6.4" font-family="'Liberation Sans', Arial, sans-serif" text-anchor="end" textLength="14.3" lengthAdjust="spacingAndGlyphs" fill="#111" stroke="#222" stroke-width="0.08" >-350</text>
<polygon points="23.5,257.3 24.9,257.8 26.3,258.1 27.7,257.1 29.1,257.8 30.6,257.3 32,257.6 33.4,257 34.8,256.9 36.2,255.6 37.6,256.9 39,255.9 40.4,255.3 41.9,255.8 43.3,256.1 44.7,254.2 46.1,255.3 47.5,254.4 48.9,253.5 50.3,252.5 51.7,252.6 53.2,252.6 54.6,252.8 56,252.6 57.4,251.5 58.8,251.4 60.2,250.4 61.6,250.6 63,249.7 64.5,248.8 65.9,249.1 67.3,248.7 68.7,248.4 70.1,248.3 71.5,249 72.9,248.5 74.3,248.2 75.8,247.7 77.2,247.8 78.6,247.7 80,246.8 81.4,246.2 82.8,246.1 84.2,247 85.6,247.4 87.1,247.4 88.5,247.9 89.9,247.2 91.3,248.2 92.7,247.7 94.1,247.8 95.5,247.5 96.9,247.3 98.4,247.5 99.8,248.6 101.2,248.3 102.6,249.4 104,247.9 105.4,249.6 106.8,248.5 108.2,248.8 109.7,249.9 111.1,249.4 112.5,250.7 113.9,249.6 115.3,249.3 116.7,250.3 118.1,251.2 119.5,251.1 121,252.1 122.4,252.6 123.8,251.5 125.2,253.4 126.6,251.9 128,253.8 129.4,254 130.8,253.8 132.3,253.1 133.7,254.8 135.1,253.8 136.5,254.1 137.9,254.7 139.3,255.4 140.7,255.9 142.1,256.5 143.6,255.8 145,256.1 146.4,256.1 147.8,256.2 149.2,257.4 150.6,257.7 152,257.8 153.4,257.8 154.9,257.5 156.3,256.9 157.7,257.8 159.1,257 160.5,256.9 160.5,261.9 159.1,260.3 157.7,260.9 156.3,260.2 154.9,261.4 153.4,260 152,261 150.6,260.5 149.2,260.4 147.8,260.6 146.4,260.4 145,259.8 143.6,259.5 142.1,258.7 140.7,259.4 139.3,259.2 137.9,258.8 136.5,259 135.1,258.1 133.7,257.8 132.3,257.1 130.8,257.5 129.4,257 128,258.4 126.6,256.9 125.2,257.9 123.8,257.7 122.4,256.6 121,256.9 119.5,255.7 118.1,256.1 116.7,255.8 115.3,255.6 113.9,256 112.5,256.3 111.1,255.7 109.7,254.8 108.2,255.1 106.8,255.1 105.4,254.6 104,254.7 102.6,254.4 101.2,253.3 99.8,252.4 98.4,253.4 96.9,252.9 95.5,253 94.1,252.2 92.7,253.2 91.3,251.9 89.9,252.7 88.5,253.4 87.1,252.2 85.6,251.9 84.2,253.2 82.8,251.4 81.4,252.3 80,252.6 78.6,253.3 77.2,253.2 75.8,253.6 74.3,253 72.9,254 71.5,254.1 70.1,254.2 68.7,254.6 67.3,253.8 65.9,255 64.5,256.2 63,255.8 61.6,256.5 60.2,256.5 58.8,256.9 57.4,256.9 56,257.3 54.6,256.4 53.2,258.2 51.7,257.5 50.3,257.2 48.9,258.5 47.5,259.1 46.1,259.9 44.7,259 43.3,259.8 41.9,260.4 40.4,260.2 39,259.5 37.6,259.3 36.2,259.7 34.8,259.2 33.4,261.1 32,259.8 30.6,260.8 29.1,261.1 27.7,260.3 26.3,260.8 24.9,260.3 23.5,260.3" fill="url(#pw2)" />
<polygon points="23.5,260.5 25.3,261.6 27.1,261.6 28.9,260.7 30.7,261.2 32.5,259.5 34.3,259.9 36.1,260.7 37.9,259.5 39.7,258.8 41.5,259.3 43.3,258.6 45.1,259 46.9,258.5 48.7,258.6 50.5,258.6 52.3,257.5 54.1,258 55.9,256.2 57.8,256.7 59.6,256.4 61.4,255.7 63.2,255.6 65,255.9 66.8,254.6 68.6,255 70.4,253.6 72.2,254.8 74,252.8 75.8,252.6 77.6,253.3 79.4,252.1 81.2,252.6 83,252.9 84.8,253.1 86.6,251.8 88.4,252.3 90.2,253.2 92,252.3 93.8,252.4 95.6,252.5 97.4,252.8 99.2,252.3 101,254.2 102.8,253.6 104.6,254.7 106.4,255 108.2,255 110,255.9 111.8,255.6 113.6,256.1 115.4,255.8 117.2,256 119,256.5 120.8,255.9 122.6,257.3 124.4,256.4 126.2,257.2 128.1,257.3 129.9,257.3 131.7,258.6 133.5,258.5 135.3,258.3 137.1,258.7 138.9,258.1 140.7,259.5 142.5,258.9 144.3,259.4 146.1,260.2 147.9,260.8 149.7,259.8 151.5,259.8 153.3,261.1 155.1,260.8 156.9,261.4 158.7,260.7 160.5,261.1 160.5,269.1 158.7,269.4 156.9,270.1 155.1,268.8 153.3,270.3 151.5,270.2 149.7,269.8 147.9,268.7 146.1,269.4 144.3,269.9 142.5,268.6 140.7,270 138.9,269.3 137.1,268.7 135.3,269.6 133.5,269.6 131.7,269.7 129.9,269.6 128.1,269.6 126.2,269.8 124.4,268.9 122.6,268.9 120.8,268.1 119,268.3 117.2,268.4 115.4,267.8 113.6,268.7 111.8,268.2 110,267.8 108.2,266.2 106.4,266.4 104.6,265.5 102.8,265.7 101,264.3 99.2,264.7 97.4,263.2 95.6,262.4 93.8,262.9 92,262.6 90.2,261.6 88.4,261.9 86.6,261.9 84.8,261.8 83,260.1 81.2,260.5 79.4,260 77.6,260.9 75.8,260.4 74,260.9 72.2,262.1 70.4,263.1 68.6,262.6 66.8,262.8 65,264.2 63.2,265.3 61.4,265.7 59.6,266.2 57.8,266.2 55.9,266.6 54.1,268.1 52.3,267.5 50.5,267.5 48.7,268.4 46.9,269 45.1,269.5 43.3,268.6 41.5,269.4 39.7,268.5 37.9,268.8 36.1,269.1 34.3,270.1 32.5,270.2 30.7,268.8 28.9,270 27.1,268.9 25.3,269.3 23.5,270.5" fill="url(#pg)" />
<polygon points="23.5,267.8 25.3,267.8 27.1,268 28.9,268.6 30.7,268.1 32.5,267.4 34.3,267.7 36.1,268.3 37.9,268.2 39.7,267.7 41.5,268.2 43.3,267.8 45.1,267.4 46.9,267.5 48.7,267.1 50.5,266.2 52.3,265.5 54.1,265.9 55.9,265.7 57.8,265.6 59.6,265.8 61.4,263.6 63.2,262.8 65,263 66.8,261.8 68.6,260.4 70.4,260.7 72.2,260.9 74,259.5 75.8,259.7 77.6,259.4 79.4,259.3 81.2,259.1 83,259.4 84.8,259.7 86.6,259.1 88.4,260.2 90.2,259.1 92,260.3 93.8,261.2 95.6,260.6 97.4,261.3 99.2,263.4 101,263.4 102.8,263.3 104.6,264.6 106.4,263.8 108.2,264.2 110,265.2 111.8,266.2 113.6,266.5 115.4,265.8 117.2,266.1 119,267.1 120.8,267.2 122.6,266.4 124.4,267.1 126.2,266.9 128.1,268.3 129.9,268.3 131.7,266.9 133.5,267.2 135.3,267.1 137.1,268.6 138.9,266.8 140.7,267.5 142.5,267 144.3,267.7 146.1,268.6 147.9,267.5 149.7,268.5 151.5,267.6 153.3,267.9 155.1,267.2 156.9,267.6 158.7,268.4 160.5,268.4 160.5,275.8 158.7,275.5 156.9,275.7 155.1,276.4 153.3,275.3 151.5,275.2 149.7,275.8 147.9,276.3 146.1,275.1 144.3,276 142.5,275.4 140.7,276.5 138.9,276.5 137.1,275.9 135.3,274.8 133.5,275.9 131.7,276.5 129.9,275.2 128.1,276 126.2,275.1 124.4,276 122.6,274.6 120.8,274.2 119,275.7 117.2,274.1 115.4,274.3 113.6,275.1 111.8,274.7 110,273.7 108.2,273.9 106.4,274.2 104.6,273.8 102.8,271.7 101,271 99.2,270.9 97.4,269.4 95.6,270.2 93.8,268.3 92,267.8 90.2,267.6 88.4,266.9 86.6,267 84.8,267.3 83,265.7 81.2,266 79.4,267.2 77.6,266.3 75.8,268.3 74,268.7 72.2,269.3 70.4,268.5 68.6,269.3 66.8,270.2 65,271.9 63.2,271.7 61.4,272.7 59.6,273.7 57.8,273.5 55.9,274.3 54.1,275.1 52.3,275.3 50.5,275.9 48.7,275.3 46.9,275.8 45.1,275 43.3,275.9 41.5,275.5 39.7,275.3 37.9,276.1 36.1,274.8 34.3,275 32.5,276 30.7,275.5 28.9,275.8 27.1,276.4 25.3,275.5 23.5,275.2" fill="url(#pr)" />
<polygon points="23.5,273.2 25.3,274.7 27.1,273.3 28.9,274.3 30.7,273.3 32.5,273.5 34.3,273.7 36.1,274.4 37.9,273.9 39.7,274.2 41.5,274.3 43.3,274 45.1,274.6 46.9,275 48.7,273.6 50.5,274.5 52.3,274.1 54.1,273.5 55.9,272.9 57.8,272 59.6,271.4 61.4,271.9 63.2,270.9 65,270.6 66.8,269.9 68.6,268.8 70.4,267.9 72.2,267.9 74,267.5 75.8,266.5 77.6,266.2 79.4,264.7 81.2,264.6 83,265.1 84.8,265.1 86.6,265.9 88.4,266 90.2,266.1 92,266.2 93.8,268.3 95.6,267.9 97.4,267.8 99.2,269.8 101,270.7 102.8,271.3 104.6,271.4 106.4,272.7 108.2,272.7 110,272.7 111.8,272.6 113.6,273.4 115.4,273.1 117.2,273.4 119,273.7 120.8,274 122.6,273.5 124.4,273.9 126.2,273.2 128.1,274.3 129.9,274.6 131.7,273.3 133.5,274 135.3,273.3 137.1,273.7 138.9,273.9 140.7,273.3 142.5,275 144.3,274.3 146.1,275 147.9,273.4 149.7,273.8 151.5,273.8 153.3,274.9 155.1,273.8 156.9,274.7 158.7,273.7 160.5,273.9 160.5,282.7 158.7,282.2 156.9,282 155.1,283.1 153.3,281.6 151.5,281.5 149.7,282.9 147.9,282.4 146.1,282.6 144.3,282.1 142.5,282.8 140.7,282.7 138.9,282 137.1,281.8 135.3,282.6 133.5,281.9 131.7,282.4 129.9,282.1 128.1,281.9 126.2,281.8 124.4,282.4 122.6,283.1 120.8,282.7 119,281.9 117.2,282.6 115.4,282.7 113.6,281.8 111.8,282 110,282.2 108.2,281.6 106.4,281.9 104.6,281.6 102.8,281.9 101,280.2 99.2,279.8 97.4,280.5 95.6,278.8 93.8,278.2 92,278.2 90.2,277.3 88.4,276.9 86.6,275.4 84.8,275.8 83,275.9 81.2,275.8 79.4,277.2 77.6,278 75.8,278.8 74,279.1 72.2,279.5 70.4,280.2 68.6,280.7 66.8,281 65,280.6 63.2,282 61.4,282.3 59.6,281.6 57.8,282.8 55.9,281.4 54.1,282 52.3,282.3 50.5,282.8 48.7,282.5 46.9,281.7 45.1,282.2 43.3,281.7 41.5,281.7 39.7,281.4 37.9,282.6 36.1,281.7 34.3,281.9 32.5,282.5 30.7,283.1 28.9,281.9 27.1,282.8 25.3,282.7 23.5,283.1" fill="url(#pm)" />
<polygon points="23.5,281.1 25.3,281 27.1,279.9 28.9,281.1 30.7,281 32.5,280.1 34.3,281.3 36.1,281.4 37.9,280.1 39.7,280.8 41.5,280.8 43.3,280.5 45.1,280.1 46.9,280.1 48.7,281 50.5,279.8 52.3,280.9 54.1,279.8 55.9,280.4 57.8,281.2 59.6,281.2 61.4,280.8 63.2,280.6 65,280.3 66.8,279.3 68.6,278 70.4,278.2 72.2,278.9 74,277.1 75.8,275.8 77.6,275.1 79.4,275.2 81.2,274.3 83,273.7 84.8,274.8 86.6,274.8 88.4,275.6 90.2,274.6 92,277 93.8,276.9 95.6,277.8 97.4,277.6 99.2,279.1 101,279.5 102.8,280.1 104.6,279.2 106.4,280.1 108.2,280.2 110,279.9 111.8,281 113.6,280.1 115.4,280.4 117.2,280.8 119,280.4 120.8,280.3 122.6,279.8 124.4,280 126.2,281.3 128.1,280.9 129.9,280.3 131.7,281.1 133.5,280.6 135.3,281.4 137.1,281.2 138.9,281 140.7,280.2 142.5,281.3 144.3,280.8 146.1,280.9 147.9,281.4 149.7,280.8 151.5,279.8 153.3,280.6 155.1,281.3 156.9,281 158.7,280.8 160.5,280.3 160.5,289.5 158.7,289.6 156.9,289.2 155.1,289.4 153.3,288.6 151.5,289 149.7,288.2 147.9,289.3 146.1,289 144.3,289.3 142.5,289.3 140.7,289 138.9,289 137.1,288.2 135.3,289.3 133.5,288 131.7,288.1 129.9,288.5 128.1,288.1 126.2,288.4 124.4,288.6 122.6,288.5 120.8,288.8 119,289.6 117.2,288.2 115.4,288.7 113.6,288.9 111.8,288.3 110,289.2 108.2,288.2 106.4,288.6 104.6,288.7 102.8,289.1 101,288.9 99.2,288.3 97.4,288.7 95.6,288.3 93.8,289.3 92,288.4 90.2,289 88.4,289.4 86.6,288 84.8,289.4 83,288.6 81.2,288.3 79.4,288.2 77.6,288.9 75.8,289.3 74,288.1 72.2,288.3 70.4,288.7 68.6,289.7 66.8,289.5 65,288.9 63.2,289.6 61.4,289.4 59.6,288.2 57.8,289.2 55.9,288.6 54.1,288.6 52.3,288.6 50.5,289.4 48.7,289.3 46.9,289.5 45.1,289.2 43.3,288.4 41.5,289 39.7,288.4 37.9,289.4 36.1,289 34.3,287.9 32.5,287.9 30.7,288.2 28.9,288.2 27.1,288.8 25.3,289.3 23.5,289.3" fill="url(#pn)" />
<polygon points="23.5,286.8 25.3,287.8 27.1,286.8 28.9,287 30.7,286.6 32.5,286.4 34.3,287.9 36.1,286.8 37.9,287.6 39.7,287.4 41.5,287.4 43.3,286.7 45.1,286.6 46.9,287.7 48.7,286.8 50.5,287.3 52.3,287 54.1,287.3 55.9,286.5 57.8,286.4 59.6,286.6 61.4,287.1 63.2,287.1 65,287.8 66.8,287.5 68.6,287.5 70.4,286.8 72.2,287.7 74,286.8 75.8,286.6 77.6,287.1 79.4,287.9 81.2,286.4 83,286.6 84.8,287.4 86.6,287.5 88.4,287.8 90.2,286.6 92,286.6 93.8,287.2 95.6,287.1 97.4,287.7 99.2,287.9 101,286.5 102.8,286.6 104.6,287.8 106.4,287.1 108.2,287.7 110,286.9 111.8,286.6 113.6,287.3 115.4,286.5 117.2,286.8 119,287.9 120.8,286.5 122.6,287.9 124.4,287.8 126.2,286.4 128.1,287.3 129.9,287 131.7,287.8 133.5,286.7 135.3,287.4 137.1,287.6 138.9,286.4 140.7,287.8 142.5,286.8 144.3,286.8 146.1,287.6 147.9,287 149.7,287.7 151.5,287.2 153.3,287.9 155.1,287.3 156.9,287.8 158.7,286.6 160.5,287.2 160.5,294.8 158.7,295.4 156.9,296.1 155.1,294.7 153.3,294.5 151.5,295.7 149.7,294.8 147.9,295.2 146.1,295.8 144.3,295 142.5,294.6 140.7,296 138.9,295.1 137.1,294.5 135.3,296 133.5,295.9 131.7,295.8 129.9,295.1 128.1,295.3 126.2,295 124.4,295.1 122.6,294.6 120.8,294.8 119,296.1 117.2,294.7 115.4,295.3 113.6,295.4 111.8,295.8 110,295.8 108.2,294.8 106.4,295.4 104.6,295.5 102.8,295.8 101,295.8 99.2,294.9 97.4,295.8 95.6,295.8 93.8,294.6 92,294.9 90.2,295.7 88.4,294.8 86.6,295.3 84.8,294.9 83,295.1 81.2,295.4 79.4,295.7 77.6,295.6 75.8,294.8 74,295 72.2,295.1 70.4,295 68.6,294.6 66.8,295.5 65,295.3 63.2,295.7 61.4,294.7 59.6,295.4 57.8,295.4 55.9,295.3 54.1,296 52.3,294.5 50.5,295.3 48.7,295.9 46.9,295.5 45.1,296 43.3,294.5 41.5,295.9 39.7,294.6 37.9,295.3 36.1,295.8 34.3,295.4 32.5,294.5 30.7,295.1 28.9,295.3 27.1,295.3 25.3,295.3 23.5,295.2" fill="url(#pc)" />
<line x1="23.5" y1="254.5" x2="160.5" y2="254.5" stroke="#8a8ad0" stroke-width="0.4" />
<line x1="23.5" y1="300.9" x2="23.5" y2="240" stroke="#666" stroke-width="0.8" />
<polygon points="23.5,237 21.9,243 25.1,243" fill="#000" />
<line x1="23.5" y1="300.9" x2="165" y2="300.9" stroke="#777" stroke-width="0.9" />
<polygon points="170,300.9 163.5,299.1 163.5,302.7" fill="#000" />
<text x="27.8" y="242.8" font-size="6.5" font-family="'Liberation Sans', Arial, sans-serif" textLength="20.9" lengthAdjust="spacingAndGlyphs" fill="#111" stroke="#222" stroke-width="0.08" >z(mm)</text>
<text x="162" y="296.2" font-size="7" font-family="'Liberation Sans', Arial, sans-serif" textLength="20.4" lengthAdjust="spacingAndGlyphs" fill="#111" stroke="#222" stroke-width="0.08" >x(mm)</text>
<line x1="22" y1="254.5" x2="23.5" y2="254.5" stroke="#000" stroke-width="0.4" />
<text x="22" y="256.5" font-size="5.5" font-family="'Liberation Sans', Arial, sans-serif" text-anchor="end" textLength="3.2" lengthAdjust="spacingAndGlyphs" fill="#111" stroke="#222" stroke-width="0.08" >0</text>
<line x1="22" y1="261.1" x2="23.5" y2="261.1" stroke="#000" stroke-width="0.4" />
<text x="22" y="263.1" font-size="5.5" font-family="'Liberation Sans', Arial, sans-serif" text-anchor="end" textLength="8.3" lengthAdjust="spacingAndGlyphs" fill="#111" stroke="#222" stroke-width="0.08" >-50</text>
<line x1="22" y1="267.8" x2="23.5" y2="267.8" stroke="#000" stroke-width="0.4" />
<text x="22" y="269.8" font-size="5.5" font-family="'Liberation Sans', Arial, sans-serif" text-anchor="end" textLength="11.4" lengthAdjust="spacingAndGlyphs" fill="#111" stroke="#222" stroke-width="0.08" >-100</text>
<line x1="22" y1="274.4" x2="23.5" y2="274.4" stroke="#000" stroke-width="0.4" />
<text x="22" y="276.4" font-size="5.5" font-family="'Liberation Sans', Arial, sans-serif" text-anchor="end" textLength="11.4" lengthAdjust="spacingAndGlyphs" fill="#111" stroke="#222" stroke-width="0.08" >-150</text>
<line x1="22" y1="281" x2="23.5" y2="281" stroke="#000" stroke-width="0.4" />
<text x="22" y="283" font-size="5.5" font-family="'Liberation Sans', Arial, sans-serif" text-anchor="end" textLength="11.4" lengthAdjust="spacingAndGlyphs" fill="#111" stroke="#222" stroke-width="0.08" >-200</text>
<line x1="22" y1="287.6" x2="23.5" y2="287.6" stroke="#000" stroke-width="0.4" />
<text x="22" y="289.6" font-size="5.5" font-family="'Liberation Sans', Arial, sans-serif" text-anchor="end" textLength="11.4" lengthAdjust="spacingAndGlyphs" fill="#111" stroke="#222" stroke-width="0.08" >-250</text>
<line x1="22" y1="294.3" x2="23.5" y2="294.3" stroke="#000" stroke-width="0.4" />
<text x="22" y="296.3" font-size="5.5" font-family="'Liberation Sans', Arial, sans-serif" text-anchor="end" textLength="11.4" lengthAdjust="spacingAndGlyphs" fill="#111" stroke="#222" stroke-width="0.08" >-300</text>
<line x1="22" y1="300.9" x2="23.5" y2="300.9" stroke="#000" stroke-width="0.4" />
<text x="22" y="302.9" font-size="5.5" font-family="'Liberation Sans', Arial, sans-serif" text-anchor="end" textLength="11.4" lengthAdjust="spacingAndGlyphs" fill="#111" stroke="#222" stroke-width="0.08" >-350</text>
<line x1="23.5" y1="300.9" x2="23.5" y2="302.4" stroke="#000" stroke-width="0.4" />
<text x="23.5" y="308.6" font-size="6.1" font-family="'Liberation Sans', Arial, sans-serif" text-anchor="middle" textLength="3.1" lengthAdjust="spacingAndGlyphs" fill="#111" stroke="#222" stroke-width="0.08" >0</text>
<line x1="37.2" y1="300.9" x2="37.2" y2="302.4" stroke="#000" stroke-width="0.4" />
<text x="37.2" y="308.6" font-size="6.1" font-family="'Liberation Sans', Arial, sans-serif" text-anchor="middle" textLength="9.2" lengthAdjust="spacingAndGlyphs" fill="#111" stroke="#222" stroke-width="0.08" >100</text>
<line x1="50.9" y1="300.9" x2="50.9" y2="302.4" stroke="#000" stroke-width="0.4" />
<text x="50.9" y="308.6" font-size="6.1" font-family="'Liberation Sans', Arial, sans-serif" text-anchor="middle" textLength="9.2" lengthAdjust="spacingAndGlyphs" fill="#111" stroke="#222" stroke-width="0.08" >200</text>
<line x1="64.6" y1="300.9" x2="64.6" y2="302.4" stroke="#000" stroke-width="0.4" />
<text x="64.6" y="308.6" font-size="6.1" font-family="'Liberation Sans', Arial, sans-serif" text-anchor="middle" textLength="9.2" lengthAdjust="spacingAndGlyphs" fill="#111" stroke="#222" stroke-width="0.08" >300</text>
<line x1="78.3" y1="300.9" x2="78.3" y2="302.4" stroke="#000" stroke-width="0.4" />
<text x="78.3" y="308.6" font-size="6.1" font-family="'Liberation Sans', Arial, sans-serif" text-anchor="middle" textLength="9.2" lengthAdjust="spacingAndGlyphs" fill="#111" stroke="#222" stroke-width="0.08" >400</text>
<line x1="92" y1="300.9" x2="92" y2="302.4" stroke="#000" stroke-width="0.4" />
<text x="92" y="308.6" font-size="6.1" font-family="'Liberation Sans', Arial, sans-serif" text-anchor="middle" textLength="9.2" lengthAdjust="spacingAndGlyphs" fill="#111" stroke="#222" stroke-width="0.08" >500</text>
<line x1="105.7" y1="300.9" x2="105.7" y2="302.4" stroke="#000" stroke-width="0.4" />
<text x="105.7" y="308.6" font-size="6.1" font-family="'Liberation Sans', Arial, sans-serif" text-anchor="middle" textLength="9.2" lengthAdjust="spacingAndGlyphs" fill="#111" stroke="#222" stroke-width="0.08" >600</text>
<line x1="119.4" y1="300.9" x2="119.4" y2="302.4" stroke="#000" stroke-width="0.4" />
<text x="119.4" y="308.6" font-size="6.1" font-family="'Liberation Sans', Arial, sans-serif" text-anchor="middle" textLength="9.2" lengthAdjust="spacingAndGlyphs" fill="#111" stroke="#222" stroke-width="0.08" >700</text>
<line x1="133.1" y1="300.9" x2="133.1" y2="302.4" stroke="#000" stroke-width="0.4" />
<text x="133.1" y="308.6" font-size="6.1" font-family="'Liberation Sans', Arial, sans-serif" text-anchor="middle" textLength="9.2" lengthAdjust="spacingAndGlyphs" fill="#111" stroke="#222" stroke-width="0.08" >800</text>
<line x1="146.8" y1="300.9" x2="146.8" y2="302.4" stroke="#000" stroke-width="0.4" />
<text x="146.8" y="308.6" font-size="6.1" font-family="'Liberation Sans', Arial, sans-serif" text-anchor="middle" textLength="9.2" lengthAdjust="spacingAndGlyphs" fill="#111" stroke="#222" stroke-width="0.08" >900</text>
<line x1="160.5" y1="300.9" x2="160.5" y2="302.4" stroke="#000" stroke-width="0.4" />
<text x="160.5" y="308.6" font-size="6.1" font-family="'Liberation Sans', Arial, sans-serif" text-anchor="middle" textLength="12.2" lengthAdjust="spacingAndGlyphs" fill="#111" stroke="#222" stroke-width="0.08" >1000</text>
<polygon points="63.1,235 63.1,237.9 64.1,237.9 64.7,245.7 65.7,252.9 67.4,259.3 70,265 73.6,269.7 77.4,272.9 80.7,274.6 83.1,272.1 85.4,271.7 88.3,275.4 87.9,284.3 83.1,292.9 78.3,288.6 79.3,280 79.3,279.7 75.7,277.9 71.4,275.4 67.1,271.4 64,266.4 61.7,260 60.3,252.9 59.6,244.3 59.3,235" fill="#0606ff" />
<polygon points="79.3,280 87.9,284.3 83.1,292.9 78.3,288.6" fill="#0000c4" />
<polygon points="211.9,219.8 213.4,219.8 214.9,219.8 216.4,219.8 217.9,219.8 219.4,219.8 220.9,219.8 222.4,219.8 224,219.8 225.5,219.8 227,219.8 228.5,219.8 230,219.8 231.5,219.8 233,219.8 234.5,219.8 236,219.8 237.5,219.7 239,219.6 240.5,219.3 242,219.1 243.5,218.8 245,218.5 246.6,218.2 248.1,217.9 249.6,217.6 251.1,217.4 252.6,217.2 254.1,217.1 255.6,216.9 257.1,216.7 258.6,216.5 260.1,216.3 261.6,216.1 263.1,215.8 264.6,215.7 266.1,215.5 267.6,215.4 269.1,215.4 270.7,215.4 272.2,215.4 273.7,215.4 275.2,215.4 276.7,215.4 278.2,215.4 279.7,215.4 281.2,215.4 282.7,215.4 284.2,215.4 285.7,215.5 287.2,215.6 288.7,215.8 290.2,215.9 291.7,216.1 293.3,216.3 294.8,216.5 296.3,216.6 297.8,216.8 299.3,216.9 300.8,217 302.3,217.1 303.8,217.2 305.3,217.4 306.8,217.6 308.3,217.8 309.8,218 311.3,218.3 312.8,218.5 314.3,218.8 315.9,219 317.4,219.2 318.9,219.4 320.4,219.6 321.9,219.7 323.4,219.8 324.9,219.8 326.4,219.8 327.9,219.8 329.4,219.8 330.9,219.8 332.4,219.8 333.9,219.8 335.4,219.8 336.9,219.8 338.4,219.8 340,219.8 341.5,219.8 343,219.8 344.5,219.8 346,219.8 347.5,219.8 349,219.8 350.5,219.8 350.5,248.1 211.9,248.1" fill="#7c7c7c" />
<g fill="#6c6c6c" stroke="#484848" stroke-width="0.35"><circle cx="265.6" cy="245.7" r="1.4"/><circle cx="295.5" cy="236.1" r="1.3"/><circle cx="218.7" cy="231.2" r="1.2"/><circle cx="342.6" cy="230.4" r="1.3"/><circle cx="220.1" cy="240.5" r="1.2"/><circle cx="336.9" cy="244.4" r="1.1"/><circle cx="329.2" cy="230.5" r="1.2"/><circle cx="346.4" cy="227.8" r="1.3"/><circle cx="249.8" cy="226.9" r="1.2"/><circle cx="329.1" cy="236.8" r="1.4"/><circle cx="337" cy="229.9" r="1.2"/><circle cx="326.9" cy="235.7" r="1.1"/><circle cx="254.7" cy="226.8" r="1.4"/><circle cx="227.4" cy="243.2" r="1.1"/><circle cx="315.8" cy="235.2" r="1.3"/><circle cx="221.6" cy="229.1" r="1.1"/><circle cx="332.6" cy="220.1" r="1.1"/><circle cx="232.6" cy="236.6" r="1.3"/><circle cx="240" cy="220.3" r="1.1"/><circle cx="278.1" cy="240.3" r="1.2"/><circle cx="218.5" cy="244.1" r="1.1"/><circle cx="257.3" cy="227.4" r="1.3"/><circle cx="289.1" cy="235.8" r="1.3"/><circle cx="334.2" cy="234.1" r="1.2"/><circle cx="269.7" cy="221.2" r="1.4"/><circle cx="227" cy="239" r="1.3"/><circle cx="272.2" cy="229.8" r="1.2"/><circle cx="333.8" cy="237.4" r="1.4"/><circle cx="271.4" cy="232.6" r="1.3"/><circle cx="330.8" cy="234.8" r="1.2"/><circle cx="321.6" cy="242.9" r="1.4"/><circle cx="222.1" cy="238.9" r="1.2"/><circle cx="292.8" cy="241.5" r="1.4"/><circle cx="283.9" cy="223.1" r="1.2"/><circle cx="326.4" cy="241.2" r="1.1"/><circle cx="216.4" cy="229.3" r="1.3"/><circle cx="338.9" cy="242.9" r="1.2"/><circle cx="337.9" cy="239.9" r="1.3"/><circle cx="251.4" cy="230.3" r="1.3"/><circle cx="282.7" cy="226.8" r="1.1"/><circle cx="322.9" cy="239.5" r="1.1"/><circle cx="341.1" cy="241.7" r="1.2"/><circle cx="345.7" cy="225.7" r="1.2"/><circle cx="271.4" cy="226.9" r="1.3"/><circle cx="227.8" cy="237" r="1.3"/><circle cx="295.1" cy="224.5" r="1.3"/><circle cx="286.6" cy="223.8" r="1.2"/><circle cx="342.4" cy="233.1" r="1.2"/><circle cx="264.4" cy="222.7" r="1.3"/><circle cx="214.7" cy="231.8" r="1.2"/><circle cx="245.6" cy="232.2" r="1.2"/><circle cx="271.8" cy="222.7" r="1.1"/><circle cx="221.7" cy="243.8" r="1.1"/><circle cx="281.1" cy="242.5" r="1.2"/><circle cx="332.3" cy="243.1" r="1.2"/><circle cx="330.2" cy="243.4" r="1.1"/><circle cx="212.8" cy="224.4" r="1.2"/><circle cx="333.3" cy="239.9" r="1.3"/><circle cx="231.5" cy="238.6" r="1.4"/><circle cx="336.5" cy="236.2" r="1.3"/><circle cx="301.5" cy="233.5" r="1.2"/><circle cx="235" cy="225.1" r="1.3"/><circle cx="216.9" cy="223.1" r="1.3"/><circle cx="336.6" cy="241.6" r="1.3"/><circle cx="318.2" cy="242.8" r="1.1"/><circle cx="249.8" cy="217.7" r="1.3"/><circle cx="301.5" cy="230.3" r="1.2"/><circle cx="221.6" cy="233.4" r="1.4"/><circle cx="327.8" cy="238.8" r="1.3"/><circle cx="346" cy="241" r="1.2"/><circle cx="218.2" cy="235.8" r="1.2"/><circle cx="262.3" cy="217.9" r="1.4"/><circle cx="323.6" cy="241.8" r="1.4"/><circle cx="287.7" cy="230.3" r="1.2"/><circle cx="312.3" cy="236.1" r="1.3"/><circle cx="344.3" cy="236" r="1.4"/><circle cx="345.5" cy="237.8" r="1.2"/><circle cx="225.3" cy="229.2" r="1.3"/><circle cx="254.9" cy="230.7" r="1.3"/><circle cx="340.3" cy="229.7" r="1.4"/><circle cx="232.6" cy="241.4" r="1.4"/><circle cx="258.4" cy="242.9" r="1.2"/><circle cx="230.4" cy="234.6" r="1.3"/><circle cx="346.2" cy="230.1" r="1.4"/><circle cx="287.9" cy="221.4" r="1.2"/><circle cx="334.6" cy="243.1" r="1.2"/><circle cx="248.5" cy="231.2" r="1.4"/><circle cx="347.6" cy="238.7" r="1.3"/><circle cx="264.4" cy="238.4" r="1.2"/><circle cx="295.6" cy="245.1" r="1.3"/><circle cx="333.2" cy="231.5" r="1.3"/><circle cx="320.6" cy="240.7" r="1.4"/><circle cx="218" cy="226" r="1.4"/><circle cx="347.4" cy="232.1" r="1.4"/><circle cx="298.6" cy="232.7" r="1.3"/><circle cx="304.9" cy="224" r="1.3"/><circle cx="259" cy="216.4" r="1.2"/><circle cx="217.8" cy="233.4" r="1.3"/><circle cx="225.6" cy="241.4" r="1.2"/><circle cx="222" cy="231.4" r="1.3"/><circle cx="331.8" cy="229.8" r="1.1"/><circle cx="267.9" cy="233.7" r="1.3"/><circle cx="215.1" cy="238.2" r="1.1"/><circle cx="327.6" cy="233.6" r="1.3"/><circle cx="346.8" cy="222.7" r="1.3"/><circle cx="329.5" cy="232.7" r="1.3"/><circle cx="247.1" cy="217.9" r="1.1"/><circle cx="229.3" cy="238.6" r="1.1"/><circle cx="328.6" cy="241.3" r="1.2"/><circle cx="230.4" cy="243.1" r="1.1"/><circle cx="321.3" cy="230" r="1.2"/><circle cx="297.5" cy="238" r="1.1"/><circle cx="279" cy="227.6" r="1.2"/><circle cx="316.5" cy="241.4" r="1.3"/><circle cx="286.4" cy="238.9" r="1.4"/><circle cx="249.1" cy="229" r="1.3"/><circle cx="235.9" cy="223.1" r="1.4"/><circle cx="349.4" cy="219.5" r="1.2"/><circle cx="348.5" cy="230" r="1.3"/><circle cx="335.8" cy="238.5" r="1.4"/><circle cx="348.9" cy="234.4" r="1.4"/><circle cx="276.2" cy="226.9" r="1.3"/><circle cx="325.6" cy="239.2" r="1.1"/><circle cx="220.4" cy="235.3" r="1.2"/></g>
<g fill="#f8f8f8" stroke="#969696" stroke-width="0.4"><circle cx="309.2" cy="242.1" r="1.2"/><circle cx="288.1" cy="246.1" r="1.3"/><circle cx="272.5" cy="238" r="1.2"/><circle cx="334.4" cy="223.4" r="1.2"/><circle cx="221.9" cy="246.1" r="1.2"/><circle cx="276.8" cy="246.9" r="1.2"/><circle cx="219.5" cy="222.5" r="1.3"/><circle cx="225.8" cy="234.6" r="1.1"/><circle cx="254.4" cy="242.9" r="1.3"/><circle cx="256.4" cy="245.3" r="1.3"/><circle cx="291.4" cy="218.2" r="1.1"/><circle cx="259.8" cy="227.5" r="1.1"/><circle cx="228.9" cy="233" r="1.3"/><circle cx="257.2" cy="231.5" r="1.4"/><circle cx="341.9" cy="238.2" r="1.3"/><circle cx="342.7" cy="243.7" r="1.2"/><circle cx="345.5" cy="221" r="1.2"/><circle cx="319.3" cy="228.2" r="1.2"/><circle cx="248.6" cy="223.5" r="1.3"/><circle cx="345.4" cy="245.4" r="1.3"/><circle cx="318.6" cy="245.6" r="1.4"/><circle cx="225.2" cy="246.8" r="1.1"/><circle cx="250.2" cy="239.6" r="1.4"/><circle cx="265.3" cy="228.2" r="1.2"/><circle cx="222.4" cy="223.5" r="1.2"/><circle cx="344.9" cy="232.4" r="1.3"/><circle cx="256" cy="240.2" r="1.2"/><circle cx="299.2" cy="236.4" r="1.3"/><circle cx="254.4" cy="246.8" r="1.3"/><circle cx="242" cy="236.9" r="1.2"/><circle cx="288.1" cy="242.7" r="1.3"/><circle cx="323.1" cy="235.7" r="1.3"/><circle cx="244.7" cy="219.1" r="1.3"/><circle cx="247" cy="227.2" r="1.1"/><circle cx="341.9" cy="235.4" r="1.3"/><circle cx="285.2" cy="226.5" r="1.2"/><circle cx="275.6" cy="232.1" r="1.1"/><circle cx="290.5" cy="220.2" r="1.4"/><circle cx="323.5" cy="231.3" r="1.4"/><circle cx="326.9" cy="246.6" r="1.3"/><circle cx="238.3" cy="241.8" r="1.4"/><circle cx="235.8" cy="230.3" r="1.2"/><circle cx="302.1" cy="227.5" r="1.2"/><circle cx="317.2" cy="232.2" r="1.1"/><circle cx="308.6" cy="234.3" r="1.2"/><circle cx="335.9" cy="246.7" r="1.4"/><circle cx="319.4" cy="235.7" r="1.3"/><circle cx="264.4" cy="240.9" r="1.2"/><circle cx="302.6" cy="236.7" r="1.4"/><circle cx="238.2" cy="232" r="1.4"/><circle cx="281.2" cy="221.9" r="1.4"/><circle cx="251" cy="235.3" r="1.4"/><circle cx="260.2" cy="246.2" r="1.3"/><circle cx="271.5" cy="240.3" r="1.3"/><circle cx="213.6" cy="221.3" r="1.1"/><circle cx="246.2" cy="239.8" r="1.4"/><circle cx="215.7" cy="243" r="1.3"/><circle cx="286.5" cy="232.9" r="1.4"/><circle cx="349.6" cy="231.9" r="1.1"/><circle cx="258.2" cy="223.8" r="1.3"/><circle cx="312.5" cy="239.1" r="1.2"/><circle cx="340" cy="236.4" r="1.2"/><circle cx="237" cy="226.1" r="1.1"/><circle cx="269.5" cy="238.2" r="1.2"/><circle cx="299.5" cy="239.3" r="1.2"/><circle cx="299" cy="229" r="1.2"/><circle cx="243.6" cy="221.2" r="1.4"/><circle cx="232.9" cy="244.2" r="1.1"/><circle cx="245.2" cy="229.6" r="1.4"/><circle cx="302.8" cy="240.3" r="1.3"/><circle cx="277.3" cy="215.4" r="1.2"/><circle cx="314.2" cy="244.1" r="1.4"/><circle cx="308.7" cy="231.6" r="1.2"/><circle cx="267.6" cy="231.5" r="1.3"/><circle cx="238.6" cy="224.1" r="1.3"/><circle cx="230.4" cy="240.7" r="1.3"/><circle cx="258.3" cy="218.9" r="1.3"/><circle cx="327" cy="243.4" r="1.4"/><circle cx="240" cy="227" r="1.2"/><circle cx="259.1" cy="230.1" r="1.2"/><circle cx="264.9" cy="218.3" r="1.2"/><circle cx="333.1" cy="227.9" r="1.3"/><circle cx="268.6" cy="235.9" r="1.1"/><circle cx="279.2" cy="244.6" r="1.3"/><circle cx="318" cy="225.9" r="1.1"/><circle cx="325.4" cy="221.1" r="1.4"/><circle cx="274.7" cy="244.3" r="1.2"/><circle cx="248.3" cy="241.3" r="1.3"/><circle cx="255.8" cy="224.2" r="1.4"/><circle cx="348.5" cy="241.8" r="1.3"/><circle cx="328.1" cy="224.5" r="1.1"/><circle cx="307.6" cy="228.1" r="1.3"/><circle cx="274.7" cy="229.5" r="1.3"/><circle cx="342.4" cy="224.3" r="1.4"/><circle cx="279.7" cy="236.5" r="1.2"/><circle cx="325.7" cy="227.2" r="1.1"/><circle cx="228.8" cy="223" r="1.4"/><circle cx="305.1" cy="233.4" r="1.2"/><circle cx="270.3" cy="244.3" r="1.1"/><circle cx="298.4" cy="224.4" r="1.3"/><circle cx="254.9" cy="233" r="1.2"/><circle cx="344.8" cy="223.7" r="1.4"/><circle cx="278.6" cy="223.2" r="1.3"/><circle cx="300.1" cy="242.1" r="1.4"/><circle cx="301.3" cy="219.7" r="1.2"/><circle cx="244.2" cy="223.9" r="1.4"/><circle cx="325.9" cy="229.6" r="1.3"/><circle cx="325.1" cy="245" r="1.3"/><circle cx="282.7" cy="238.6" r="1.3"/><circle cx="314.2" cy="222.9" r="1.1"/><circle cx="297.1" cy="222" r="1.4"/><circle cx="315.6" cy="239.3" r="1.3"/><circle cx="263.1" cy="230.7" r="1.4"/><circle cx="290" cy="233.2" r="1.3"/><circle cx="285.8" cy="219.1" r="1.3"/><circle cx="243.4" cy="233.1" r="1.4"/><circle cx="277.8" cy="225.4" r="1.3"/><circle cx="239.1" cy="236" r="1.2"/><circle cx="264.1" cy="232.8" r="1.3"/><circle cx="217.2" cy="240.2" r="1.4"/><circle cx="311.5" cy="234" r="1.2"/><circle cx="349.2" cy="245.9" r="1.4"/><circle cx="303.7" cy="230.4" r="1.1"/><circle cx="293.8" cy="243.3" r="1.4"/><circle cx="314" cy="241.8" r="1.2"/><circle cx="331.8" cy="236.7" r="1.4"/><circle cx="244.2" cy="237" r="1.4"/><circle cx="329.9" cy="239.5" r="1.2"/><circle cx="259.1" cy="240.1" r="1.2"/><circle cx="239.6" cy="244.5" r="1.3"/><circle cx="314.5" cy="236.9" r="1.2"/><circle cx="270.8" cy="215" r="1.4"/><circle cx="260.7" cy="242.6" r="1.2"/><circle cx="253.5" cy="239.4" r="1.2"/><circle cx="339.2" cy="245.7" r="1.1"/><circle cx="304.7" cy="246.3" r="1.3"/><circle cx="273.6" cy="216.5" r="1.2"/><circle cx="280" cy="217.4" r="1.1"/><circle cx="349.2" cy="236.7" r="1.4"/><circle cx="223.9" cy="244.6" r="1.3"/><circle cx="235.7" cy="219.7" r="1.1"/><circle cx="296.6" cy="231.4" r="1.1"/><circle cx="214.7" cy="226.7" r="1.2"/><circle cx="281.3" cy="228.7" r="1.4"/><circle cx="306.3" cy="240.9" r="1.3"/><circle cx="330.5" cy="225.5" r="1.3"/><circle cx="261.1" cy="238.1" r="1.1"/><circle cx="291.5" cy="247" r="1.3"/><circle cx="293" cy="238.7" r="1.4"/><circle cx="279.2" cy="232.5" r="1.1"/><circle cx="310.7" cy="229.1" r="1.2"/><circle cx="285.6" cy="216.3" r="1.3"/><circle cx="255" cy="217.6" r="1.2"/><circle cx="263.1" cy="235.4" r="1.4"/><circle cx="234.6" cy="232.7" r="1.1"/><circle cx="249.1" cy="244.1" r="1.1"/><circle cx="305" cy="237.4" r="1.4"/><circle cx="232.9" cy="226.9" r="1.2"/><circle cx="221" cy="225.9" r="1.3"/><circle cx="234.9" cy="235.5" r="1.2"/><circle cx="270.4" cy="224.7" r="1.2"/><circle cx="267.1" cy="238.1" r="1.3"/><circle cx="272.5" cy="235.2" r="1.3"/><circle cx="224.8" cy="232.4" r="1.2"/><circle cx="342.9" cy="246.9" r="1.4"/><circle cx="251" cy="221.1" r="1.2"/><circle cx="307.4" cy="237.7" r="1.4"/><circle cx="284.7" cy="236.9" r="1.3"/><circle cx="276.2" cy="217.4" r="1.2"/><circle cx="283.6" cy="229.1" r="1.1"/><circle cx="285" cy="245.8" r="1.3"/><circle cx="285.3" cy="221.2" r="1.1"/><circle cx="331.6" cy="246.1" r="1.3"/><circle cx="236.2" cy="244.3" r="1.1"/><circle cx="302.9" cy="224.7" r="1.2"/><circle cx="314.8" cy="246.6" r="1.2"/><circle cx="303.6" cy="218.5" r="1.4"/><circle cx="275.4" cy="224.4" r="1.2"/><circle cx="235.7" cy="239.6" r="1.2"/><circle cx="296.6" cy="240" r="1.4"/><circle cx="319.2" cy="222" r="1.2"/><circle cx="217.5" cy="246.4" r="1.2"/><circle cx="307.4" cy="247.2" r="1.4"/><circle cx="268.8" cy="216.4" r="1.3"/><circle cx="283.4" cy="220.2" r="1.2"/><circle cx="277.6" cy="238.2" r="1.1"/><circle cx="213.5" cy="236.6" r="1.2"/><circle cx="310.9" cy="224.6" r="1.3"/><circle cx="297.8" cy="226.8" r="1.3"/><circle cx="298.1" cy="245.2" r="1.3"/><circle cx="308.8" cy="225.2" r="1.3"/><circle cx="317.7" cy="238.9" r="1.3"/><circle cx="248.8" cy="220.2" r="1.3"/><circle cx="304.5" cy="243.2" r="1.3"/><circle cx="324" cy="225.7" r="1.3"/><circle cx="310.7" cy="220.9" r="1.2"/><circle cx="242.9" cy="247.2" r="1.3"/><circle cx="264.7" cy="243.7" r="1.2"/><circle cx="243.5" cy="242.1" r="1.2"/><circle cx="337" cy="222.6" r="1.2"/><circle cx="312.9" cy="228.4" r="1.3"/><circle cx="292.3" cy="225.6" r="1.2"/><circle cx="316.5" cy="229.6" r="1.2"/><circle cx="238.1" cy="239.6" r="1.2"/><circle cx="285.4" cy="243.6" r="1.2"/><circle cx="246" cy="244.2" r="1.4"/><circle cx="260.7" cy="219.5" r="1.1"/><circle cx="262.2" cy="226.6" r="1.2"/><circle cx="336.8" cy="219.4" r="1.4"/><circle cx="229.7" cy="229" r="1.4"/><circle cx="228.5" cy="220.5" r="1.4"/><circle cx="348.6" cy="224.5" r="1.3"/><circle cx="267.6" cy="246.7" r="1.1"/><circle cx="329.5" cy="221.8" r="1.3"/><circle cx="294.1" cy="219.2" r="1.1"/><circle cx="273.3" cy="247" r="1.3"/><circle cx="253.9" cy="236.1" r="1.2"/><circle cx="329.4" cy="219.7" r="1.3"/><circle cx="285.5" cy="241.4" r="1.4"/><circle cx="259.6" cy="235.3" r="1.3"/><circle cx="340" cy="232.8" r="1.3"/><circle cx="241.5" cy="223.2" r="1.3"/><circle cx="307.1" cy="219.8" r="1.1"/><circle cx="306.6" cy="225.3" r="1.3"/><circle cx="286.2" cy="228.6" r="1.4"/><circle cx="226.6" cy="227.4" r="1.3"/><circle cx="245.9" cy="221.6" r="1.3"/><circle cx="281.5" cy="245.9" r="1.1"/><circle cx="215.5" cy="235.3" r="1.2"/><circle cx="268.2" cy="219.2" r="1.3"/><circle cx="240.8" cy="246.7" r="1.3"/><circle cx="340.9" cy="221.7" r="1.2"/><circle cx="258.6" cy="237.9" r="1.2"/><circle cx="213.6" cy="240.7" r="1.2"/><circle cx="347.7" cy="244.5" r="1.4"/><circle cx="221.7" cy="220.6" r="1.4"/><circle cx="274.2" cy="222" r="1.3"/><circle cx="247.4" cy="235.5" r="1.3"/><circle cx="321.1" cy="245.3" r="1.2"/><circle cx="343.8" cy="239.6" r="1.4"/><circle cx="293" cy="216.6" r="1.2"/><circle cx="241" cy="242.5" r="1.1"/><circle cx="312.3" cy="245.2" r="1.2"/><circle cx="267" cy="223.4" r="1.2"/><circle cx="294" cy="221.4" r="1.4"/><circle cx="231.4" cy="246.2" r="1.3"/><circle cx="328.3" cy="245" r="1.1"/><circle cx="268.7" cy="229.2" r="1.2"/><circle cx="230.8" cy="231.3" r="1.2"/><circle cx="273.3" cy="242.5" r="1.3"/><circle cx="314.3" cy="231" r="1.2"/><circle cx="214.1" cy="229.6" r="1.4"/><circle cx="265.4" cy="235.2" r="1.2"/><circle cx="280.4" cy="225.1" r="1.4"/><circle cx="288.1" cy="240.4" r="1.2"/><circle cx="307.7" cy="244.6" r="1.2"/><circle cx="302.6" cy="245.1" r="1.2"/><circle cx="252.6" cy="222.7" r="1.4"/><circle cx="329" cy="227.8" r="1.3"/><circle cx="317.4" cy="236.8" r="1.4"/><circle cx="293.8" cy="228.7" r="1.2"/><circle cx="260.1" cy="232.1" r="1.3"/><circle cx="289.2" cy="217.9" r="1.4"/><circle cx="220.1" cy="237.4" r="1.3"/><circle cx="292.7" cy="223.3" r="1.3"/><circle cx="224.7" cy="237.3" r="1.2"/><circle cx="308.6" cy="221.4" r="1.3"/><circle cx="335.4" cy="231.5" r="1.3"/><circle cx="251.7" cy="241.5" r="1.4"/><circle cx="289.7" cy="222.6" r="1.4"/><circle cx="274.7" cy="240.7" r="1.4"/><circle cx="251.4" cy="245.2" r="1.1"/><circle cx="260.5" cy="225.1" r="1.3"/><circle cx="218.7" cy="228.7" r="1.3"/><circle cx="337.1" cy="233.1" r="1.3"/><circle cx="296.7" cy="218.3" r="1.4"/><circle cx="349.7" cy="221.8" r="1.2"/><circle cx="253.7" cy="219.3" r="1.4"/><circle cx="289.3" cy="238.2" r="1.4"/><circle cx="257.1" cy="221.5" r="1.2"/><circle cx="291.6" cy="235.7" r="1.3"/><circle cx="301.8" cy="222.8" r="1.4"/><circle cx="248.4" cy="237.8" r="1.2"/><circle cx="291" cy="244.3" r="1.4"/><circle cx="284.2" cy="233.7" r="1.4"/><circle cx="320.5" cy="238.4" r="1.4"/><circle cx="256.8" cy="236.2" r="1.3"/><circle cx="268.7" cy="242.5" r="1.4"/><circle cx="229.2" cy="246.7" r="1.4"/><circle cx="337.3" cy="227" r="1.1"/><circle cx="224.5" cy="221.1" r="1.3"/><circle cx="242.3" cy="231.1" r="1.4"/><circle cx="306.5" cy="222.3" r="1.2"/><circle cx="281.9" cy="218.5" r="1.2"/><circle cx="342.2" cy="226.6" r="1.2"/><circle cx="329.4" cy="247" r="1.2"/><circle cx="278.2" cy="219.7" r="1.3"/><circle cx="296.7" cy="233.9" r="1.4"/><circle cx="319.4" cy="231.5" r="1.4"/><circle cx="263.8" cy="225" r="1.4"/><circle cx="236.8" cy="237.4" r="1.2"/><circle cx="299.3" cy="221.5" r="1.1"/><circle cx="230.4" cy="226.2" r="1.2"/><circle cx="233.9" cy="228.9" r="1.2"/><circle cx="320.8" cy="224.8" r="1.4"/><circle cx="247.8" cy="246.8" r="1.2"/><circle cx="291.5" cy="228.5" r="1.1"/><circle cx="344" cy="228.4" r="1.1"/><circle cx="340.1" cy="239.5" r="1.1"/><circle cx="242.2" cy="244.6" r="1.2"/><circle cx="291.4" cy="231.5" r="1.3"/><circle cx="293.4" cy="245.6" r="1.3"/><circle cx="223.5" cy="241.8" r="1.2"/><circle cx="267" cy="243.8" r="1.2"/><circle cx="317.4" cy="220" r="1.1"/><circle cx="251.8" cy="237.6" r="1.3"/><circle cx="281.8" cy="232.8" r="1.2"/><circle cx="316.7" cy="222.3" r="1.4"/><circle cx="241.2" cy="239.1" r="1.3"/><circle cx="227.1" cy="224.6" r="1.3"/><circle cx="214.3" cy="246.6" r="1.1"/><circle cx="261.3" cy="240.5" r="1.3"/><circle cx="239.7" cy="230.2" r="1.1"/><circle cx="343.2" cy="221.1" r="1.3"/><circle cx="263" cy="246.8" r="1.2"/><circle cx="295.4" cy="227.1" r="1.1"/><circle cx="323.7" cy="228.2" r="1.3"/><circle cx="299.3" cy="217.3" r="1.3"/><circle cx="250.1" cy="233.1" r="1.4"/><circle cx="321.5" cy="220" r="1.2"/><circle cx="216.8" cy="220.3" r="1.4"/><circle cx="241" cy="232.9" r="1.2"/><circle cx="282.1" cy="215.8" r="1.2"/><circle cx="253" cy="225.4" r="1.2"/><circle cx="326" cy="225" r="1.2"/><circle cx="276.9" cy="229" r="1.2"/><circle cx="234.1" cy="221.7" r="1.1"/><circle cx="313.8" cy="220.2" r="1.2"/><circle cx="324.1" cy="223.5" r="1.4"/><circle cx="279.4" cy="230.1" r="1.4"/><circle cx="252" cy="217.3" r="1.4"/><circle cx="245.6" cy="246.9" r="1.4"/><circle cx="274" cy="226" r="1.1"/><circle cx="278.2" cy="234.6" r="1.3"/><circle cx="263.3" cy="215.9" r="1.2"/><circle cx="232.7" cy="234.2" r="1.3"/><circle cx="306.6" cy="230.5" r="1.2"/><circle cx="304.5" cy="228.1" r="1.1"/><circle cx="237.8" cy="221.5" r="1.4"/><circle cx="309.6" cy="246.9" r="1.4"/><circle cx="296.3" cy="242.5" r="1.3"/><circle cx="252.3" cy="227.5" r="1.4"/><circle cx="290.7" cy="242" r="1.2"/><circle cx="242.8" cy="225.6" r="1.3"/><circle cx="234.9" cy="245.9" r="1.3"/><circle cx="277" cy="243.1" r="1.3"/><circle cx="345.1" cy="243" r="1.2"/><circle cx="326.4" cy="231.7" r="1.1"/><circle cx="225.1" cy="223.5" r="1.4"/><circle cx="338.9" cy="220.3" r="1.2"/><circle cx="321.6" cy="232.2" r="1.1"/><circle cx="266.3" cy="221.2" r="1.4"/><circle cx="272.6" cy="218.8" r="1.2"/><circle cx="324.2" cy="237.6" r="1.3"/><circle cx="262.4" cy="221" r="1.1"/><circle cx="332.8" cy="225.7" r="1.3"/><circle cx="242.3" cy="219.3" r="1.2"/><circle cx="237.1" cy="234.3" r="1.2"/><circle cx="237.6" cy="247.3" r="1.2"/><circle cx="294.2" cy="231.7" r="1.3"/><circle cx="223.6" cy="225.6" r="1.1"/><circle cx="231.2" cy="223.7" r="1.4"/><circle cx="227.3" cy="230.7" r="1.2"/><circle cx="293.7" cy="234.2" r="1.3"/><circle cx="346.8" cy="234.2" r="1.4"/><circle cx="309.5" cy="219" r="1.3"/><circle cx="266.6" cy="216.1" r="1.3"/><circle cx="300.4" cy="245.3" r="1.4"/><circle cx="274.9" cy="219.7" r="1.4"/><circle cx="311.4" cy="226.7" r="1.3"/><circle cx="231.1" cy="220.5" r="1.3"/><circle cx="288.9" cy="228.3" r="1.4"/><circle cx="315.2" cy="233" r="1.4"/><circle cx="242.9" cy="228.4" r="1.3"/><circle cx="312" cy="218" r="1.3"/><circle cx="315.9" cy="225.4" r="1.3"/><circle cx="266.4" cy="225.5" r="1.3"/><circle cx="275.3" cy="236.4" r="1.4"/><circle cx="288.2" cy="225.7" r="1.2"/><circle cx="262" cy="233.1" r="1.2"/><circle cx="334.6" cy="229.4" r="1.2"/><circle cx="349.1" cy="227.6" r="1.1"/><circle cx="327.5" cy="222.5" r="1.3"/><circle cx="266.7" cy="240.5" r="1.2"/><circle cx="272.4" cy="244.8" r="1.3"/><circle cx="283.5" cy="242.4" r="1.1"/><circle cx="223.4" cy="234.8" r="1.3"/><circle cx="271.1" cy="246.5" r="1.3"/><circle cx="301.5" cy="217.4" r="1.3"/><circle cx="273.4" cy="233.3" r="1.3"/><circle cx="283.3" cy="247.1" r="1.4"/><circle cx="339.9" cy="227.5" r="1.1"/><circle cx="262.4" cy="244.3" r="1.1"/><circle cx="213.5" cy="244.5" r="1.2"/><circle cx="265.6" cy="230.6" r="1.4"/><circle cx="282.5" cy="235" r="1.2"/><circle cx="310.2" cy="239.3" r="1.4"/><circle cx="309.6" cy="236.4" r="1.4"/><circle cx="213.2" cy="234.3" r="1.4"/><circle cx="306.6" cy="235.7" r="1.2"/><circle cx="234.2" cy="237.9" r="1.4"/><circle cx="338.6" cy="224.8" r="1.1"/><circle cx="250.7" cy="224.1" r="1.4"/><circle cx="335.5" cy="225.3" r="1.2"/><circle cx="257.7" cy="233.9" r="1.4"/><circle cx="280.4" cy="238.8" r="1.2"/><circle cx="270.4" cy="219" r="1.2"/><circle cx="346.9" cy="219.4" r="1.3"/><circle cx="279.1" cy="246.8" r="1.4"/><circle cx="283.8" cy="217.5" r="1.4"/><circle cx="315.3" cy="227.8" r="1.2"/><circle cx="259.4" cy="221.8" r="1.3"/><circle cx="268.2" cy="227" r="1.2"/><circle cx="237.5" cy="228.6" r="1.3"/><circle cx="321.1" cy="234.5" r="1.2"/><circle cx="323.3" cy="221.4" r="1.3"/><circle cx="302.7" cy="247.2" r="1.2"/><circle cx="245.1" cy="234.9" r="1.4"/><circle cx="235.2" cy="242.2" r="1.1"/><circle cx="252.2" cy="233" r="1.1"/><circle cx="334" cy="245.3" r="1.1"/><circle cx="233.4" cy="219.3" r="1.2"/><circle cx="304.5" cy="221.2" r="1.1"/><circle cx="228.2" cy="241.2" r="1.1"/><circle cx="243.7" cy="239.8" r="1.2"/><circle cx="321.7" cy="227.5" r="1.4"/><circle cx="261.5" cy="229.1" r="1.1"/><circle cx="245.1" cy="226.1" r="1.2"/><circle cx="338.1" cy="237.6" r="1.3"/><circle cx="280" cy="215.2" r="1.3"/><circle cx="300" cy="226.8" r="1.2"/><circle cx="323.8" cy="233.5" r="1.3"/><circle cx="311.8" cy="231.7" r="1.3"/><circle cx="313.4" cy="225.2" r="1.3"/><circle cx="269.7" cy="231.2" r="1.4"/><circle cx="296.2" cy="229.1" r="1.4"/><circle cx="302.5" cy="242.4" r="1.4"/><circle cx="219.6" cy="220.3" r="1.4"/><circle cx="305.4" cy="217.4" r="1.4"/><circle cx="349.6" cy="239.4" r="1.4"/><circle cx="246.5" cy="224.3" r="1.2"/><circle cx="300.7" cy="224.6" r="1.2"/><circle cx="335.1" cy="220.7" r="1.2"/><circle cx="254.4" cy="221.4" r="1.2"/><circle cx="324.1" cy="247.2" r="1.3"/><circle cx="286.8" cy="235.5" r="1.1"/><circle cx="219.9" cy="247.3" r="1.1"/><circle cx="311.7" cy="242.5" r="1.2"/><circle cx="262.3" cy="223.2" r="1.1"/><circle cx="346.6" cy="247.2" r="1.4"/><circle cx="274.7" cy="238.6" r="1.2"/><circle cx="227" cy="245.5" r="1.4"/><circle cx="290.7" cy="216.2" r="1.2"/><circle cx="327.2" cy="219.4" r="1.3"/><circle cx="332.3" cy="222.8" r="1.2"/><circle cx="285.1" cy="230.7" r="1.3"/><circle cx="250" cy="247.2" r="1.4"/><circle cx="338.3" cy="234.8" r="1.3"/><circle cx="291.2" cy="239.8" r="1.1"/><circle cx="321.4" cy="222.5" r="1.1"/><circle cx="288" cy="216.1" r="1.2"/><circle cx="290.3" cy="224.7" r="1.1"/><circle cx="276.6" cy="221.4" r="1.2"/><circle cx="298.7" cy="219.3" r="1.4"/><circle cx="316.4" cy="244.8" r="1.3"/><circle cx="215" cy="224.6" r="1.4"/><circle cx="296.9" cy="247" r="1.3"/><circle cx="226.8" cy="221.7" r="1.2"/><circle cx="299.2" cy="247.2" r="1.2"/><circle cx="255.7" cy="238" r="1.4"/><circle cx="257.6" cy="247.3" r="1.1"/><circle cx="315.7" cy="218.6" r="1.3"/><circle cx="312.1" cy="222.5" r="1.3"/><circle cx="252.4" cy="247.3" r="1.2"/></g>
<polygon points="225.1,247.9 227.6,246.8 230.1,246.4 232.6,245.3 235,244.5 237.5,244.1 240,243.2 242.5,242.7 245,241.8 247.5,241.3 250,240.4 252.5,239.9 255,240 257.5,239.2 260,239.4 262.5,238.7 265,238.2 267.5,238.7 270,238.5 272.5,238.4 275,238.2 277.5,238.3 280,238.1 282.4,238.2 284.9,238.5 287.4,238.8 289.9,239.3 292.4,239.5 294.9,239.5 297.4,240.1 299.9,241 302.4,241.6 304.9,241.9 307.4,242.2 309.9,243.3 312.4,243.5 314.9,244.7 317.4,245.5 319.9,246.4 322.4,246.9 324.9,247.9" fill="url(#pr)" />
<polygon points="232.7,248.1 234.8,246.9 237,246.6 239.1,245.8 241.3,245 243.4,243.9 245.6,243.9 247.7,243.4 249.9,242.5 252,242.3 254.2,241.9 256.3,241.2 258.5,241 260.6,240.3 262.8,240.6 264.9,239.6 267.1,239.5 269.2,240 271.4,239.7 273.5,239.9 275.7,239.5 277.8,239.9 280,240 282.1,240.1 284.2,240.4 286.4,240.3 288.5,240.2 290.7,241 292.8,241.3 295,241.5 297.1,241.7 299.3,242.6 301.4,242.8 303.6,243.2 305.7,243.8 307.9,244.6 310,245.4 312.2,245.7 314.3,246.8 316.5,247.3 318.6,247.7" fill="url(#pm)" />
<polygon points="240.3,248.4 242.1,247.2 243.9,246.5 245.7,246.4 247.5,245 249.3,245.2 251.1,244.3 252.9,243.6 254.6,243.2 256.4,242.9 258.2,242.6 260,241.9 261.8,241.6 263.6,241.4 265.4,241.1 267.2,241.5 269,241.5 270.8,241.1 272.6,241.1 274.3,241.3 276.1,241.1 277.9,241.3 279.7,241.2 281.5,241.1 283.3,241.4 285.1,241.4 286.9,242 288.7,242.2 290.5,242.5 292.3,242.3 294.1,242.8 295.8,243.3 297.6,244 299.4,244.2 301.2,244.2 303,245 304.8,245.7 306.6,246.3 308.4,246.8 310.2,247.4 312,247.7" fill="url(#pn)" />
<polygon points="250,247.9 251.3,247.4 252.6,246.6 253.9,246.1 255.2,246.2 256.5,245.5 257.8,245.4 259.1,244.5 260.4,244.2 261.7,243.6 263,243.3 264.3,243.4 265.6,242.8 266.9,243.2 268.2,242.9 269.5,242.5 270.8,242.7 272.1,242.6 273.4,242.3 274.7,242.1 276,242.3 277.3,242.7 278.6,242.7 279.9,242.5 281.2,242.4 282.5,243.1 283.8,242.5 285.1,243.4 286.4,243.5 287.7,243.8 289,243.5 290.3,244.5 291.6,244.4 292.9,245.1 294.2,245.6 295.5,245.3 296.8,245.9 298.1,246.9 299.4,246.7 300.7,247.6 302,248.5" fill="url(#pc)" />
<polygon points="259,248.5 259.8,247.3 260.7,247 261.5,247.1 262.3,246.9 263.1,245.9 263.9,246.2 264.7,245.3 265.5,245.3 266.4,244.9 267.2,245.3 268,245 268.8,244.4 269.6,244.5 270.4,244.2 271.2,244.5 272.1,244.1 272.9,243.8 273.7,244.3 274.5,244.2 275.3,244 276.1,243.9 276.9,244.2 277.8,244.4 278.6,244.1 279.4,244.7 280.2,244.8 281,244.2 281.8,244.5 282.6,244.6 283.5,245 284.3,245.3 285.1,245.8 285.9,246 286.7,246.4 287.5,246.4 288.3,246.8 289.2,246.6 290,247 290.8,247.4 291.6,248" fill="#f4f4f8" />
<circle cx="259.7" cy="247.9" r="0.65" fill="#1ce0e4"/><circle cx="348.6" cy="247.9" r="0.65" fill="#1ce0e4"/><circle cx="258.2" cy="247.9" r="0.65" fill="#fa0cde"/><circle cx="220.4" cy="247.9" r="0.65" fill="#1ce0e4"/><circle cx="225.3" cy="247.9" r="0.65" fill="#0ce024"/><circle cx="279.1" cy="247.9" r="0.65" fill="#1ce0e4"/><circle cx="340.5" cy="247.9" r="0.65" fill="#444"/><circle cx="318.8" cy="247.9" r="0.65" fill="#444"/><circle cx="282.9" cy="247.9" r="0.65" fill="#444"/><circle cx="229.6" cy="247.9" r="0.65" fill="#fa0012"/><circle cx="227" cy="247.9" r="0.65" fill="#fa0cde"/><circle cx="349" cy="247.9" r="0.65" fill="#fa0012"/><circle cx="323" cy="247.9" r="0.65" fill="#fa0cde"/><circle cx="340.3" cy="247.9" r="0.65" fill="#444"/><circle cx="251.9" cy="247.9" r="0.65" fill="#fa0cde"/><circle cx="228.9" cy="247.9" r="0.65" fill="#fa0cde"/><circle cx="348.3" cy="247.9" r="0.65" fill="#0ce024"/><circle cx="258.4" cy="247.9" r="0.65" fill="#fa0cde"/><circle cx="284.7" cy="247.9" r="0.65" fill="#1ce0e4"/><circle cx="219.2" cy="247.9" r="0.65" fill="#fa0012"/><circle cx="286.2" cy="247.9" r="0.65" fill="#444"/><circle cx="244.3" cy="247.9" r="0.65" fill="#0ce024"/><circle cx="304.3" cy="247.9" r="0.65" fill="#1ce0e4"/><circle cx="304.3" cy="247.9" r="0.65" fill="#fa0012"/><circle cx="346.5" cy="247.9" r="0.65" fill="#0ce024"/><circle cx="254.7" cy="247.9" r="0.65" fill="#fa0cde"/><circle cx="347.7" cy="247.9" r="0.65" fill="#444"/><circle cx="242.6" cy="247.9" r="0.65" fill="#1ce0e4"/><circle cx="262" cy="247.9" r="0.65" fill="#0ce024"/><circle cx="296" cy="247.9" r="0.65" fill="#0ce024"/>
<circle cx="220.8" cy="219.5" r="0.65" fill="#fa0cde"/><circle cx="217.8" cy="219.5" r="0.65" fill="#fa0cde"/><circle cx="214.7" cy="219.5" r="0.65" fill="#0ce024"/><circle cx="229" cy="219.5" r="0.65" fill="#fa0012"/><circle cx="236.5" cy="219.5" r="0.65" fill="#fa0012"/><circle cx="222.6" cy="219.5" r="0.65" fill="#fa0012"/><circle cx="239" cy="219.5" r="0.65" fill="#fa0012"/><circle cx="223.4" cy="219.5" r="0.65" fill="#fa0012"/>
<circle cx="331.2" cy="219.5" r="0.65" fill="#fa0012"/><circle cx="348.6" cy="219.5" r="0.65" fill="#0ce024"/><circle cx="338.8" cy="219.5" r="0.65" fill="#fa0012"/><circle cx="347.2" cy="219.5" r="0.65" fill="#fa0cde"/><circle cx="326.9" cy="219.5" r="0.65" fill="#fa0cde"/><circle cx="345.5" cy="219.5" r="0.65" fill="#0ce024"/><circle cx="333.2" cy="219.5" r="0.65" fill="#fa0cde"/><circle cx="337.8" cy="219.5" r="0.65" fill="#fa0012"/>
<circle cx="211.9" cy="230.2" r="0.65" fill="#fa0012"/><circle cx="212.7" cy="224.2" r="0.65" fill="#fa0012"/><circle cx="212.7" cy="220.9" r="0.65" fill="#fa0cde"/><circle cx="212.2" cy="242.7" r="0.65" fill="#fa0cde"/><circle cx="212.8" cy="248" r="0.65" fill="#fa0cde"/><circle cx="212.6" cy="244.5" r="0.65" fill="#fa0012"/><circle cx="212" cy="233.1" r="0.65" fill="#fa0cde"/><circle cx="212.2" cy="232" r="0.65" fill="#fa0cde"/>
<circle cx="350.1" cy="220.4" r="0.65" fill="#fa0012"/><circle cx="350.2" cy="244.3" r="0.65" fill="#fa0012"/><circle cx="350.2" cy="235.2" r="0.65" fill="#fa0cde"/><circle cx="350.3" cy="225.7" r="0.65" fill="#fa0012"/><circle cx="350.2" cy="237.5" r="0.65" fill="#fa0cde"/><circle cx="349.7" cy="238.8" r="0.65" fill="#fa0012"/><circle cx="349.8" cy="236.2" r="0.65" fill="#fa0cde"/><circle cx="350.4" cy="227.1" r="0.65" fill="#fa0cde"/>
<line x1="211.9" y1="248.1" x2="211.9" y2="200.5" stroke="#000" stroke-width="0.6" />
<polygon points="211.9,197.7 210.1,204.2 213.7,204.2" fill="#000" />
<line x1="211.9" y1="248.1" x2="365" y2="248.1" stroke="#000" stroke-width="0.6" />
<polygon points="370,248.1 363.5,246.4 363.5,249.8" fill="#000" />
<text x="217.7" y="204.2" font-size="7" font-family="'Liberation Sans', Arial, sans-serif" textLength="21.8" lengthAdjust="spacingAndGlyphs" fill="#111" stroke="#222" stroke-width="0.08" >y (mm)</text>
<text x="352.7" y="243.4" font-size="7" font-family="'Liberation Sans', Arial, sans-serif" textLength="22.7" lengthAdjust="spacingAndGlyphs" fill="#111" stroke="#222" stroke-width="0.08" >x (mm)</text>
<line x1="210.4" y1="248.1" x2="211.9" y2="248.1" stroke="#000" stroke-width="0.4" />
<text x="209.5" y="250.4" font-size="6.3" font-family="'Liberation Sans', Arial, sans-serif" text-anchor="end" textLength="3.2" lengthAdjust="spacingAndGlyphs" fill="#111" stroke="#222" stroke-width="0.08" >0</text>
<line x1="210.4" y1="233.7" x2="211.9" y2="233.7" stroke="#000" stroke-width="0.4" />
<text x="209.5" y="236" font-size="6.3" font-family="'Liberation Sans', Arial, sans-serif" text-anchor="end" textLength="9.7" lengthAdjust="spacingAndGlyphs" fill="#111" stroke="#222" stroke-width="0.08" >100</text>
<line x1="210.4" y1="219.3" x2="211.9" y2="219.3" stroke="#000" stroke-width="0.4" />
<text x="209.5" y="221.6" font-size="6.3" font-family="'Liberation Sans', Arial, sans-serif" text-anchor="end" textLength="9.7" lengthAdjust="spacingAndGlyphs" fill="#111" stroke="#222" stroke-width="0.08" >200</text>
<line x1="211.9" y1="248.1" x2="211.9" y2="249.6" stroke="#000" stroke-width="0.4" />
<text x="211.9" y="256.4" font-size="6.2" font-family="'Liberation Sans', Arial, sans-serif" text-anchor="middle" textLength="3.1" lengthAdjust="spacingAndGlyphs" fill="#111" stroke="#222" stroke-width="0.08" >0</text>
<line x1="225.8" y1="248.1" x2="225.8" y2="249.6" stroke="#000" stroke-width="0.4" />
<text x="225.8" y="256.4" font-size="6.2" font-family="'Liberation Sans', Arial, sans-serif" text-anchor="middle" textLength="9.3" lengthAdjust="spacingAndGlyphs" fill="#111" stroke="#222" stroke-width="0.08" >100</text>
<line x1="239.6" y1="248.1" x2="239.6" y2="249.6" stroke="#000" stroke-width="0.4" />
<text x="239.6" y="256.4" font-size="6.2" font-family="'Liberation Sans', Arial, sans-serif" text-anchor="middle" textLength="9.3" lengthAdjust="spacingAndGlyphs" fill="#111" stroke="#222" stroke-width="0.08" >200</text>
<line x1="253.5" y1="248.1" x2="253.5" y2="249.6" stroke="#000" stroke-width="0.4" />
<text x="253.5" y="256.4" font-size="6.2" font-family="'Liberation Sans', Arial, sans-serif" text-anchor="middle" textLength="9.3" lengthAdjust="spacingAndGlyphs" fill="#111" stroke="#222" stroke-width="0.08" >300</text>
<line x1="267.3" y1="248.1" x2="267.3" y2="249.6" stroke="#000" stroke-width="0.4" />
<text x="267.3" y="256.4" font-size="6.2" font-family="'Liberation Sans', Arial, sans-serif" text-anchor="middle" textLength="9.3" lengthAdjust="spacingAndGlyphs" fill="#111" stroke="#222" stroke-width="0.08" >400</text>
<line x1="281.2" y1="248.1" x2="281.2" y2="249.6" stroke="#000" stroke-width="0.4" />
<text x="281.2" y="256.4" font-size="6.2" font-family="'Liberation Sans', Arial, sans-serif" text-anchor="middle" textLength="9.3" lengthAdjust="spacingAndGlyphs" fill="#111" stroke="#222" stroke-width="0.08" >500</text>
<line x1="295.1" y1="248.1" x2="295.1" y2="249.6" stroke="#000" stroke-width="0.4" />
<text x="295.1" y="256.4" font-size="6.2" font-family="'Liberation Sans', Arial, sans-serif" text-anchor="middle" textLength="9.3" lengthAdjust="spacingAndGlyphs" fill="#111" stroke="#222" stroke-width="0.08" >600</text>
<line x1="308.9" y1="248.1" x2="308.9" y2="249.6" stroke="#000" stroke-width="0.4" />
<text x="308.9" y="256.4" font-size="6.2" font-family="'Liberation Sans', Arial, sans-serif" text-anchor="middle" textLength="9.3" lengthAdjust="spacingAndGlyphs" fill="#111" stroke="#222" stroke-width="0.08" >700</text>
<line x1="322.8" y1="248.1" x2="322.8" y2="249.6" stroke="#000" stroke-width="0.4" />
<text x="322.8" y="256.4" font-size="6.2" font-family="'Liberation Sans', Arial, sans-serif" text-anchor="middle" textLength="9.3" lengthAdjust="spacingAndGlyphs" fill="#111" stroke="#222" stroke-width="0.08" >800</text>
<line x1="336.6" y1="248.1" x2="336.6" y2="249.6" stroke="#000" stroke-width="0.4" />
<text x="336.6" y="256.4" font-size="6.2" font-family="'Liberation Sans', Arial, sans-serif" text-anchor="middle" textLength="9.3" lengthAdjust="spacingAndGlyphs" fill="#111" stroke="#222" stroke-width="0.08" >900</text>
<line x1="350.5" y1="248.1" x2="350.5" y2="249.6" stroke="#000" stroke-width="0.4" />
<text x="350.5" y="256.4" font-size="6.2" font-family="'Liberation Sans', Arial, sans-serif" text-anchor="middle" textLength="12.4" lengthAdjust="spacingAndGlyphs" fill="#111" stroke="#222" stroke-width="0.08" >1000</text>
<polygon points="266.2,240.7 274,240.1 276.9,248.2 276.6,286.3 271.4,288.9 267.1,288.9 257.5,299.3 254.1,306.2 249.7,308 248.5,275.9 261,261.2 269.7,256 266.2,249.1" fill="#0606ff" />
<polygon points="269.7,240.7 274,240.1 276.9,248.7 272.3,249.4" fill="#fa0012" />
<polygon points="272.1,249.1 273.8,249.1 274.2,287.2 272.4,287.5" fill="#fa0012" />
<polygon points="274.5,280.3 276.2,286.3 271.7,288.2" fill="#fa0012" />
<polygon points="253.2,271.6 256.7,270.2 258.4,282 254.4,281.1" fill="#fa0012" />
<polygon points="261,274.7 265.8,273.3 264.8,276.1" fill="#fa0012" />
<polygon points="251.5,269 253.2,268.1 252.3,272.5" fill="#fa0012" />
<polygon points="267.9,267.3 270.5,268.1 268.3,270.2" fill="#0ce024" />
<polygon points="270.5,250.8 271.7,250.8 271.4,275.1" fill="#0ce024" />
<polygon points="264.5,285.4 266.5,286.3 264.8,288.6" fill="#0ce024" />
<polygon points="252,274.2 253,273.3 252.7,277.7" fill="#0ce024" />
<polygon points="261,276.8 262.7,276.4 261,282" fill="#0000c0" />
<polygon points="255.4,282 258.2,281.6 258.6,287.5 256.1,288.2" fill="#fa0012" />
<polygon points="262.7,279.9 264.5,279.2 264.1,282" fill="#fa0012" />
<polygon points="258.9,268.5 261,266.7 260.3,270.2" fill="#fa0012" />
<polygon points="250.2,282 251.6,281.3 251.6,288.9 250.6,289.3" fill="#0000c8" />
<polygon points="274.2,256 275.9,256 276.2,271.6 274.9,271.6" fill="#0000d0" />
<polygon points="404.9,221.9 434.3,221.9 435.1,224 438.9,224.8 440.8,228.9 442.8,233.8 446.5,242.8 451.4,254.2 456.3,263.7 462,270.2 467.8,273 467.8,283.6 453.9,280.3 437.6,276.2 423.7,273 423.7,268.1 418,264 411.4,255.8 407.3,247.7 404.9,239.5" fill="#0606ff" />
<polygon points="440,236.2 442.8,235.4 442.1,239.5" fill="#fa0012" />
<polygon points="436.7,241.9 441.6,242.8 439.2,245.2" fill="#0ce024" />
<polygon points="418.8,245.7 432.7,245 432.7,246 418.8,246.7" fill="#fa0012" />
<polygon points="430.2,250.1 435.1,248.5 443.3,256.6 432.7,255" fill="#fa0012" />
<polygon points="435.1,248.5 444.1,249.3 439.2,250.9" fill="#0ce024" />
<polygon points="413.1,257.1 417.1,256.6 414.7,258.8" fill="#0ce024" />
<polygon points="435.1,260.7 440,261.5 439.2,264.8" fill="#1070e8" />
<polygon points="423.7,262.3 432.7,264 453.9,269.4 453.6,270.5 431,265.6 426.1,265.3" fill="#fa0012" />
<polygon points="426.1,265.9 455.5,272.1 455.2,273.1 426.1,266.9" fill="#fa0012" />
<polygon points="453.9,262.3 457.5,269.2 454.7,267.2" fill="#fa0012" />
<polygon points="465.3,273 467.8,273.8 467.8,281.1 465.6,279.5" fill="#fa0012" />
<circle cx="426.9" cy="247.2" r="0.7" fill="#fff"/>
<polygon points="468.7,246.8 470.1,244.6 471.5,242.2 472.9,241.2 474.3,240.4 475.8,239.3 477.2,239.1 478.6,237.8 480,237.7 481.4,237.1 482.8,237.5 484.2,237.1 485.6,237.7 487.1,237 488.5,237.4 489.9,236.5 491.3,236.8 492.7,237.9 494.1,237.1 495.5,237.5 496.9,238.2 498.4,239.6 499.8,240.9 501.2,241.4 502.6,244.8 504,247.1 504,252.2 502.6,252.2 501.2,251.8 499.8,251.8 498.4,252.1 496.9,252 495.5,251.9 494.1,252.6 492.7,252.5 491.3,252.6 489.9,251.7 488.5,252 487.1,252.5 485.6,252.7 484.2,251.8 482.8,252.1 481.4,252.2 480,252.4 478.6,251.6 477.2,252.6 475.8,252.8 474.3,251.7 472.9,251.7 471.5,252.7 470.1,252.5 468.7,252.1" fill="url(#pw)" />
<polygon points="467.7,251.3 469.3,252.2 471,252.4 472.6,251.5 474.2,251.3 475.8,252 477.5,251.4 479.1,251.5 480.7,251.8 482.3,251.8 484,251.8 485.6,252.3 487.2,252 488.9,252.2 490.5,252.2 492.1,252.2 493.7,251.8 495.4,252.2 497,252.1 498.6,252 500.2,252.3 501.9,251.5 503.5,252 503.5,260.7 501.9,260.9 500.2,261 498.6,260.8 497,260.5 495.4,261.1 493.7,261.5 492.1,261.6 490.5,261.2 488.9,261.6 487.2,261.4 485.6,261.2 484,261.6 482.3,261.5 480.7,261.6 479.1,261.1 477.5,261 475.8,261.1 474.2,260.6 472.6,260.8 471,261.1 469.3,261.1 467.7,261.4" fill="url(#pg)" />
<polygon points="467.7,259.9 469.3,259.3 471,259.2 472.6,259.2 474.2,259.9 475.8,259.8 477.5,259 479.1,259.6 480.7,259.4 482.3,260.1 484,259.5 485.6,259.4 487.2,259.6 488.9,259.5 490.5,259.9 492.1,259.4 493.7,259.7 495.4,259.5 497,259.6 498.6,259.2 500.2,260.1 501.9,259.5 503.5,260 503.5,268.9 501.9,269.2 500.2,268.7 498.6,268.6 497,268.2 495.4,269.2 493.7,269.2 492.1,268.2 490.5,268.2 488.9,269.3 487.2,268.1 485.6,269 484,268.8 482.3,269.2 480.7,268.4 479.1,269 477.5,268.6 475.8,268.4 474.2,268.8 472.6,268.6 471,268.2 469.3,268.2 467.7,268.1" fill="url(#pr)" />
<polygon points="467.7,266.9 469.3,266.9 470.9,267.7 472.5,266.9 474.1,267.7 475.7,267.7 477.3,266.9 478.9,267.1 480.5,267.1 482.1,267.7 483.7,267.7 485.4,267.6 487,267.1 488.6,266.8 490.2,266.9 491.8,266.7 493.4,267.2 495,266.8 496.6,266.8 498.2,267.3 499.8,266.7 501.4,266.6 503,267.1 503,276.1 501.4,275.2 499.8,275.9 498.2,275.3 496.6,275.7 495,275.9 493.4,275.6 491.8,275.4 490.2,275.7 488.6,275 487,275.8 485.4,275.9 483.7,275 482.1,275.8 480.5,275.4 478.9,275.3 477.3,276.1 475.7,275.7 474.1,275.3 472.5,276.2 470.9,275.3 469.3,276 467.7,275.7" fill="url(#pm)" />
<polygon points="467.7,274.5 469.3,274 471,273.7 472.6,274.2 474.2,274.6 475.9,274.4 477.5,274.6 479.1,273.9 480.8,274.2 482.4,273.8 484,274.6 485.7,274 487.3,273.6 488.9,273.9 490.6,274.1 492.2,274 493.8,274 495.5,274.6 497.1,274.3 498.7,273.7 500.4,274.2 502,273.7 502,282.7 500.4,282.7 498.7,283.5 497.1,282.6 495.5,283.3 493.8,283.2 492.2,283.2 490.6,283.3 488.9,283.4 487.3,282.7 485.7,282.7 484,283.1 482.4,283.2 480.8,282.8 479.1,282.6 477.5,282.9 475.9,283.1 474.2,283.4 472.6,283.4 471,283 469.3,283.6 467.7,283.6" fill="url(#pn)" />
<polygon points="467.7,282 469.3,281.5 470.9,281.9 472.5,281.2 474.1,281.9 475.7,281.7 477.4,281.3 479,281.3 480.6,281.8 482.2,281.3 483.8,281.5 485.4,281.7 487,281.1 488.6,281.6 490.2,281.9 491.8,282.3 493.5,281.5 495.1,282.2 496.7,281.3 498.3,281.4 499.9,281.9 501.5,281.3 501.5,290.6 499.9,290.4 498.3,290 496.7,290.3 495.1,289.5 493.5,290.3 491.8,290.5 490.2,290.3 488.6,290.4 487,289.5 485.4,290.1 483.8,290.6 482.2,289.8 480.6,289.7 479,290 477.4,290.5 475.7,289.8 474.1,290.5 472.5,290.3 470.9,289.6 469.3,289.5 467.7,290" fill="url(#pc)" />
<line x1="468.7" y1="245.5" x2="503" y2="245.5" stroke="#8a8ad0" stroke-width="0.4" stroke-dasharray="1 0.6"/>
<line x1="468.7" y1="296.4" x2="468.7" y2="231" stroke="#000" stroke-width="0.6" />
<polygon points="468.7,227.7 466.9,234.2 470.5,234.2" fill="#000" />
<line x1="468.7" y1="296.4" x2="507" y2="296.4" stroke="#000" stroke-width="0.6" />
<polygon points="512,296.4 505.5,294.7 505.5,298.1" fill="#000" />
<text x="472.5" y="234.4" font-size="8.2" font-family="'Liberation Sans', Arial, sans-serif" textLength="25.5" lengthAdjust="spacingAndGlyphs" fill="#111" stroke="#222" stroke-width="0.08" >z (mm)</text>
<text x="503" y="292.2" font-size="8.2" font-family="'Liberation Sans', Arial, sans-serif" textLength="24.3" lengthAdjust="spacingAndGlyphs" fill="#111" stroke="#222" stroke-width="0.08" >y (mm)</text>
<line x1="467.2" y1="245.5" x2="468.7" y2="245.5" stroke="#000" stroke-width="0.4" />
<text x="466.8" y="248" font-size="7" font-family="'Liberation Sans', Arial, sans-serif" text-anchor="end" textLength="4" lengthAdjust="spacingAndGlyphs" fill="#111" stroke="#222" stroke-width="0.08" >0</text>
<line x1="467.2" y1="252.8" x2="468.7" y2="252.8" stroke="#000" stroke-width="0.4" />
<text x="466.8" y="255.3" font-size="7" font-family="'Liberation Sans', Arial, sans-serif" text-anchor="end" textLength="10.4" lengthAdjust="spacingAndGlyphs" fill="#111" stroke="#222" stroke-width="0.08" >-50</text>
<line x1="467.2" y1="260" x2="468.7" y2="260" stroke="#000" stroke-width="0.4" />
<text x="466.8" y="262.5" font-size="7" font-family="'Liberation Sans', Arial, sans-serif" text-anchor="end" textLength="14.4" lengthAdjust="spacingAndGlyphs" fill="#111" stroke="#222" stroke-width="0.08" >-100</text>
<line x1="467.2" y1="267.3" x2="468.7" y2="267.3" stroke="#000" stroke-width="0.4" />
<text x="466.8" y="269.8" font-size="7" font-family="'Liberation Sans', Arial, sans-serif" text-anchor="end" textLength="14.4" lengthAdjust="spacingAndGlyphs" fill="#111" stroke="#222" stroke-width="0.08" >-150</text>
<line x1="467.2" y1="274.6" x2="468.7" y2="274.6" stroke="#000" stroke-width="0.4" />
<text x="466.8" y="277.1" font-size="7" font-family="'Liberation Sans', Arial, sans-serif" text-anchor="end" textLength="14.4" lengthAdjust="spacingAndGlyphs" fill="#111" stroke="#222" stroke-width="0.08" >-200</text>
<line x1="467.2" y1="281.9" x2="468.7" y2="281.9" stroke="#000" stroke-width="0.4" />
<text x="466.8" y="284.4" font-size="7" font-family="'Liberation Sans', Arial, sans-serif" text-anchor="end" textLength="14.4" lengthAdjust="spacingAndGlyphs" fill="#111" stroke="#222" stroke-width="0.08" >-250</text>
<line x1="467.2" y1="289.1" x2="468.7" y2="289.1" stroke="#000" stroke-width="0.4" />
<text x="466.8" y="291.6" font-size="7" font-family="'Liberation Sans', Arial, sans-serif" text-anchor="end" textLength="14.4" lengthAdjust="spacingAndGlyphs" fill="#111" stroke="#222" stroke-width="0.08" >-300</text>
<line x1="467.2" y1="296.4" x2="468.7" y2="296.4" stroke="#000" stroke-width="0.4" />
<text x="466.8" y="298.9" font-size="7" font-family="'Liberation Sans', Arial, sans-serif" text-anchor="end" textLength="14.4" lengthAdjust="spacingAndGlyphs" fill="#111" stroke="#222" stroke-width="0.08" >-350</text>
<line x1="468.7" y1="296.4" x2="468.7" y2="297.9" stroke="#000" stroke-width="0.4" />
<text x="468.7" y="303" font-size="6.4" font-family="'Liberation Sans', Arial, sans-serif" text-anchor="middle" fill="#111" stroke="#222" stroke-width="0.08" >0</text>
<line x1="484.7" y1="296.4" x2="484.7" y2="297.9" stroke="#000" stroke-width="0.4" />
<text x="485.2" y="303" font-size="6.4" font-family="'Liberation Sans', Arial, sans-serif" text-anchor="middle" fill="#111" stroke="#222" stroke-width="0.08" >100</text>
<line x1="500.7" y1="296.4" x2="500.7" y2="297.9" stroke="#000" stroke-width="0.4" />
<text x="501.2" y="303" font-size="6.4" font-family="'Liberation Sans', Arial, sans-serif" text-anchor="middle" fill="#111" stroke="#222" stroke-width="0.08" >200</text>
<polygon points="23.5,389.5 24.9,389.5 26.3,388.6 27.7,388.3 29.1,388.1 30.5,388.7 31.9,387.8 33.4,387.3 34.8,388.8 36.2,387.6 37.6,387.3 39,386.6 40.4,387.5 41.8,386.3 43.2,387.2 44.6,385.3 46,383.8 47.4,377.8 48.8,373.3 50.2,373.9 51.6,372.7 53.1,372.5 54.5,371.2 55.9,371.7 57.3,370.7 58.7,370.9 60.1,369.3 61.5,369.6 62.9,369.4 64.3,369.7 65.7,370.9 67.1,370.3 68.5,369.8 69.9,369.9 71.3,370.2 72.8,370.9 74.2,371.2 75.6,371.6 77,371.2 78.4,370.2 79.8,371.7 81.2,371.2 82.6,370.1 84,370.8 85.4,370.9 86.8,371.5 88.2,371.6 89.6,371.1 91,370.8 92.5,372.7 93.9,373 95.3,371.8 96.7,373.6 98.1,373.4 99.5,373.7 100.9,374.8 102.3,375.3 103.7,375.5 105.1,377.9 106.5,377.1 107.9,378.1 109.3,379.3 110.7,380.1 112.2,380.3 113.6,381.3 115,382.3 116.4,383.5 117.8,384.4 119.2,385.3 120.6,385.3 122,386.8 123.4,387.6 124.8,387.7 126.2,387.6 127.6,389.5 129,389 130.4,389.6 131.9,389.6 133.3,389.9 134.7,390.2 136.1,391.6 137.5,391.6 138.9,391.2 140.3,391 141.7,392.3 143.1,392.5 144.5,392.1 145.9,393.2 147.3,392.3 148.7,393.3 150.1,392.9 151.6,392 153,392.6 154.4,392.4 155.8,392.3 157.2,393.9 158.6,392.3 160,393.7 160,397.1 158.6,395.9 157.2,396.4 155.8,396.7 154.4,396.3 153,397 151.6,396.9 150.1,396.1 148.7,397 147.3,396.3 145.9,395.5 144.5,395.3 143.1,395.3 141.7,396.1 140.3,395.7 138.9,395.3 137.5,395.7 136.1,395.6 134.7,394.7 133.3,394.6 131.9,394 130.4,395.6 129,394.9 127.6,393.6 126.2,392.9 124.8,393.2 123.4,393.4 122,392.2 120.6,390.8 119.2,392.1 117.8,390.9 116.4,389.5 115,389.2 113.6,387.8 112.2,387 110.7,387.5 109.3,387.1 107.9,385.2 106.5,386.2 105.1,385.7 103.7,384.3 102.3,383.6 100.9,383.7 99.5,382.5 98.1,382.4 96.7,381.8 95.3,382.2 93.9,381.8 92.5,380.5 91,381.3 89.6,379.9 88.2,380.3 86.8,379.7 85.4,379.8 84,379.1 82.6,380.2 81.2,380.3 79.8,379 78.4,378.7 77,379.2 75.6,378.9 74.2,379.7 72.8,379.3 71.3,379.7 69.9,379.4 68.5,380.1 67.1,379.6 65.7,380.2 64.3,381.1 62.9,381.1 61.5,380 60.1,381.2 58.7,381.7 57.3,382 55.9,382.3 54.5,383.3 53.1,384.4 51.6,383.8 50.2,385.9 48.8,388.3 47.4,389.6 46,390.2 44.6,391.1 43.2,392 41.8,391.4 40.4,392.9 39,392 37.6,392.1 36.2,393.8 34.8,392.7 33.4,393.8 31.9,393.8 30.5,392.4 29.1,392.4 27.7,393.9 26.3,394.3 24.9,394.1 23.5,393.5" fill="url(#pw2)" />
<polygon points="44.9,386.7 46.5,382 48.1,376.8 49.8,374.8 51.4,373.8 53,373.5 54.6,373.5 56.2,372.8 57.8,370.9 59.4,371.2 61.1,371.8 62.7,371.4 64.3,371.4 65.9,371.1 67.5,371.9 69.1,371.4 70.7,372.2 72.4,372 74,371.7 75.6,371.8 77.2,372.5 78.8,371.6 80.4,371.9 82,372.5 83.7,372.2 85.3,372 86.9,372.8 88.5,371.5 90.1,372.8 91.7,373.6 93.4,373.2 95,373.2 96.6,374.3 98.2,374.8 99.8,374.9 101.4,376 103,376.9 104.7,378.3 106.3,379.4 107.9,379.6 109.5,380.9 111.1,381 112.7,382.9 114.3,383.9 116,384.8 117.6,386.2 119.2,386.6 120.8,387.3 122.4,387.2 124,388.4 125.6,389.4 125.6,394.7 124,394.5 122.4,395.2 120.8,395.5 119.2,394.4 117.6,394.9 116,394.7 114.3,394.6 112.7,395.3 111.1,394.4 109.5,393.9 107.9,394.7 106.3,393.9 104.7,393.1 103,392.5 101.4,392.5 99.8,391 98.2,389.6 96.6,387.8 95,386.4 93.4,385.2 91.7,384.8 90.1,384.8 88.5,383.6 86.9,382.9 85.3,381.8 83.7,380.5 82,380.3 80.4,380.2 78.8,379.3 77.2,379.7 75.6,379.9 74,379.4 72.4,380.1 70.7,379.1 69.1,380.3 67.5,380.3 65.9,379.3 64.3,380.4 62.7,381.3 61.1,382.2 59.4,383.8 57.8,385.2 56.2,389.7 54.6,393.1 53,394.7 51.4,394 49.8,393 48.1,393.4 46.5,392.7 44.9,392.9" fill="url(#pw3)" />
<polygon points="23.5,392.5 25.3,392 27.1,392.6 29,391.5 30.8,392 32.6,392 34.4,392.7 36.2,392.7 38.1,391.2 39.9,391.3 41.7,392.1 43.5,391.3 45.3,391.7 47.2,392.3 49,391.6 50.8,392 52.6,393.4 54.4,392.8 56.3,388 58.1,382.9 59.9,382 61.7,380.9 63.5,380.2 65.4,378.6 67.2,379.1 69,378.9 70.8,378.8 72.6,378.7 74.5,378.3 76.3,379.2 78.1,378.4 79.9,378.6 81.7,379.2 83.6,379.4 85.4,380.4 87.2,380.5 89,382.8 90.8,383.8 92.7,384.4 94.5,384.8 96.3,387.4 98.1,388 99.9,390.3 101.8,391.6 103.6,392.2 105.4,392 107.2,392.6 109,394.2 110.9,394 112.7,394.5 114.5,393.2 116.3,394.7 118.1,393.3 120,394 121.8,393.8 123.6,393.4 125.4,394.3 127.2,393.4 129.1,393.3 130.9,393.8 132.7,394.3 134.5,394.6 136.3,395.2 138.2,395.4 140,394.9 141.8,394.9 143.6,395 145.4,394.1 147.3,395.7 149.1,394.6 150.9,394.6 152.7,395.2 154.5,395.6 156.4,394.7 158.2,394.5 160,396.2 160,402 158.2,402 156.4,402.1 154.5,402.5 152.7,401.1 150.9,402 149.1,401.2 147.3,401.1 145.4,401 143.6,400.5 141.8,400.4 140,401.9 138.2,401.5 136.3,401.9 134.5,401.1 132.7,401.6 130.9,401.2 129.1,400 127.2,401.2 125.4,399.7 123.6,400.5 121.8,400.5 120,399.9 118.1,400.3 116.3,400.1 114.5,400.1 112.7,399.3 110.9,399.5 109,397.3 107.2,398.1 105.4,396.6 103.6,396 101.8,395.8 99.9,394.5 98.1,392.2 96.3,391 94.5,388.4 92.7,387.2 90.8,387.4 89,385 87.2,384.7 85.4,384.3 83.6,383.1 81.7,382 79.9,382.3 78.1,381.3 76.3,381.2 74.5,382.5 72.6,382.3 70.8,381.8 69,381.6 67.2,381.6 65.4,383 63.5,383.1 61.7,384.1 59.9,385.7 58.1,387.8 56.3,393 54.4,396.9 52.6,398.8 50.8,399.1 49,398.8 47.2,400.7 45.3,401.3 43.5,400.9 41.7,401.5 39.9,401.5 38.1,400.8 36.2,401.3 34.4,402.3 32.6,401.5 30.8,401.9 29,401.7 27.1,402.6 25.3,401.2 23.5,401.5" fill="url(#pg)" />
<polygon points="23.5,400.1 25.3,400.4 27.1,400.1 29,400.7 30.8,400.6 32.6,399.1 34.4,399.1 36.2,399.3 38.1,399.4 39.9,399.6 41.7,400.2 43.5,400.4 45.3,399.1 47.2,398.9 49,397.7 50.8,397.3 52.6,396.9 54.4,396 56.3,390 58.1,385.3 59.9,384.3 61.7,382.9 63.5,382 65.4,381.3 67.2,380.6 69,380 70.8,380.3 72.6,381.1 74.5,381.1 76.3,380.1 78.1,380.9 79.9,380.6 81.7,379.8 83.6,380.9 85.4,382 87.2,384 89,383.4 90.8,385.8 92.7,386.3 94.5,387.2 96.3,389.2 98.1,390.4 99.9,392.4 101.8,392.9 103.6,393.5 105.4,394.8 107.2,395.2 109,397.2 110.9,397.9 112.7,397.4 114.5,397.1 116.3,398 118.1,398.9 120,398.1 121.8,397.8 123.6,398.6 125.4,398.1 127.2,398.4 129.1,399.5 130.9,398.9 132.7,400.2 134.5,399 136.3,400 138.2,399.2 140,399.8 141.8,400.4 143.6,398.8 145.4,400 147.3,399.7 149.1,399.4 150.9,399.2 152.7,400.7 154.5,400.1 156.4,399.8 158.2,399.5 160,399.8 160,407.5 158.2,406.7 156.4,408.1 154.5,407.1 152.7,406.9 150.9,408 149.1,407.4 147.3,407.3 145.4,407.8 143.6,407.8 141.8,407.3 140,407 138.2,407.7 136.3,406.2 134.5,406.5 132.7,406.3 130.9,406.3 129.1,407.5 127.2,407.3 125.4,406.3 123.6,407.3 121.8,406.4 120,406 118.1,406.4 116.3,406.4 114.5,407.2 112.7,407 110.9,406.4 109,406.6 107.2,405.1 105.4,405.7 103.6,405.4 101.8,404.7 99.9,402.9 98.1,401.3 96.3,398.9 94.5,398.7 92.7,395.2 90.8,392.6 89,390.3 87.2,390.4 85.4,390.8 83.6,390.2 81.7,390.7 79.9,389.4 78.1,391.1 76.3,391.6 74.5,392.4 72.6,392.7 70.8,394.1 69,397.8 67.2,400.6 65.4,403 63.5,405 61.7,405.7 59.9,406.7 58.1,406.9 56.3,407.2 54.4,408.2 52.6,406.7 50.8,407.4 49,406.9 47.2,407.5 45.3,407.7 43.5,407.1 41.7,407.6 39.9,408.4 38.1,408 36.2,407.3 34.4,407.4 32.6,407.5 30.8,407.2 29,408.5 27.1,407.6 25.3,407.1 23.5,408.4" fill="url(#pr)" />
<polygon points="23.5,406.3 25.3,406.9 27.1,405.7 29,405.9 30.8,406.2 32.6,406.4 34.4,406.8 36.2,406.6 38.1,406.6 39.9,405.5 41.7,406.5 43.5,406.9 45.3,406.5 47.2,406.2 49,406.2 50.8,406.3 52.6,405.8 54.4,405.6 56.3,405.3 58.1,406.1 59.9,405.5 61.7,405.4 63.5,402.2 65.4,401.6 67.2,398.6 69,395.3 70.8,393.2 72.6,392.3 74.5,390.4 76.3,390.8 78.1,389.2 79.9,388.2 81.7,388.5 83.6,388.6 85.4,388.2 87.2,389 89,390.1 90.8,392.2 92.7,394.7 94.5,396.9 96.3,396.9 98.1,400.7 99.9,402.3 101.8,404 103.6,403.2 105.4,404.7 107.2,404.7 109,404 110.9,404.7 112.7,405.1 114.5,404.2 116.3,405.3 118.1,404.7 120,404.6 121.8,405.5 123.6,404.7 125.4,405.8 127.2,404.5 129.1,405.9 130.9,405.8 132.7,406.1 134.5,405.1 136.3,405 138.2,406.1 140,406.1 141.8,404.8 143.6,405.3 145.4,405.8 147.3,405.6 149.1,405.6 150.9,406.1 152.7,406 154.5,405.6 156.4,406.3 158.2,405.9 160,406.4 160,414.6 158.2,414.1 156.4,413.4 154.5,413.4 152.7,413.7 150.9,414.4 149.1,414.3 147.3,414.6 145.4,413.6 143.6,414.6 141.8,413.3 140,413.4 138.2,414.2 136.3,413.1 134.5,414.1 132.7,413.7 130.9,413 129.1,413.9 127.2,413.8 125.4,414.4 123.6,414.5 121.8,414.1 120,414.2 118.1,413.2 116.3,413 114.5,413.9 112.7,413.1 110.9,413.6 109,414.5 107.2,413.5 105.4,413.9 103.6,412.8 101.8,412.8 99.9,412.8 98.1,414.5 96.3,411.9 94.5,410.2 92.7,407.9 90.8,405.7 89,403.1 87.2,400.1 85.4,398.2 83.6,397 81.7,397.3 79.9,397.1 78.1,397.2 76.3,398.6 74.5,399.2 72.6,400.1 70.8,405.8 69,408.8 67.2,411.2 65.4,413.3 63.5,414.1 61.7,413.9 59.9,413.1 58.1,414.7 56.3,413.4 54.4,414.1 52.6,414 50.8,414.6 49,414.2 47.2,413.4 45.3,414.1 43.5,414.5 41.7,414.3 39.9,414.3 38.1,413.2 36.2,413.2 34.4,414.8 32.6,413.7 30.8,414.2 29,413.5 27.1,414 25.3,413.5 23.5,413.6" fill="url(#pm)" />
<polygon points="23.5,411.7 25.3,411.9 27.1,412.4 29,412 30.8,412.9 32.6,413 34.4,413.2 36.2,412.7 38.1,411.9 39.9,411.8 41.7,412.8 43.5,412.1 45.3,412 47.2,412.1 49,411.8 50.8,411.8 52.6,412 54.4,412.9 56.3,413.3 58.1,412.3 59.9,412.6 61.7,412.3 63.5,413.2 65.4,412.1 67.2,408.7 69,406.6 70.8,403.5 72.6,399 74.5,397.8 76.3,397.2 78.1,395 79.9,395 81.7,396 83.6,396.1 85.4,396.1 87.2,397.1 89,401.2 90.8,402.8 92.7,405.2 94.5,407.7 96.3,411.1 98.1,412.4 99.9,411.6 101.8,411.5 103.6,411.3 105.4,412.8 107.2,412.8 109,412.7 110.9,412.3 112.7,412.8 114.5,412.1 116.3,411.5 118.1,412.5 120,411.8 121.8,411.8 123.6,411.8 125.4,412.5 127.2,412.3 129.1,412.9 130.9,412.7 132.7,412.1 134.5,413 136.3,412 138.2,412.4 140,412.6 141.8,411.9 143.6,412.1 145.4,413 147.3,411.7 149.1,411.8 150.9,413 152.7,412.9 154.5,413.2 156.4,411.9 158.2,411.5 160,413.2 160,420.3 158.2,420.8 156.4,421.2 154.5,420.5 152.7,421.3 150.9,420 149.1,419.8 147.3,420.4 145.4,420.9 143.6,421.3 141.8,421.1 140,419.7 138.2,419.7 136.3,420.1 134.5,419.7 132.7,420.3 130.9,421 129.1,420.7 127.2,421.1 125.4,419.9 123.6,421.3 121.8,421 120,420.9 118.1,419.7 116.3,420.3 114.5,420 112.7,419.8 110.9,420.6 109,420.6 107.2,421.1 105.4,420.3 103.6,420.2 101.8,421.3 99.9,419.8 98.1,421.2 96.3,421 94.5,419.7 92.7,420.7 90.8,421.1 89,421.5 87.2,420.7 85.4,422.1 83.6,421.5 81.7,420.9 79.9,421.4 78.1,421.7 76.3,420.9 74.5,420.7 72.6,420.5 70.8,420.6 69,419.7 67.2,421.2 65.4,421.2 63.5,420.3 61.7,420 59.9,420.1 58.1,420.7 56.3,420.3 54.4,421.1 52.6,421 50.8,421 49,420.3 47.2,419.8 45.3,420.8 43.5,421.4 41.7,420.4 39.9,420.1 38.1,419.9 36.2,420 34.4,419.9 32.6,420.3 30.8,420.9 29,420.2 27.1,419.7 25.3,420.4 23.5,421" fill="url(#pn)" />
<polygon points="23.5,418.7 25.3,418.2 27.1,419.3 29,418.5 30.8,419.7 32.6,419.6 34.4,418.3 36.2,418.9 38.1,418.7 39.9,418.4 41.7,418.7 43.5,418.2 45.3,418.2 47.2,418.4 49,419.3 50.8,419.7 52.6,419.3 54.4,418.8 56.3,418.6 58.1,418.6 59.9,418.5 61.7,419.1 63.5,419.1 65.4,418.5 67.2,419.7 69,418.9 70.8,419.6 72.6,418.5 74.5,419.6 76.3,419.7 78.1,418.5 79.9,418.9 81.7,420.1 83.6,420.6 85.4,419.4 87.2,419.5 89,419.4 90.8,418.9 92.7,419.7 94.5,419.1 96.3,419.5 98.1,418.5 99.9,419.3 101.8,418.2 103.6,418.4 105.4,418.9 107.2,419.1 109,418.2 110.9,418.5 112.7,419.1 114.5,418.9 116.3,419.4 118.1,419.4 120,418.2 121.8,419.4 123.6,419.4 125.4,418.3 127.2,418.3 129.1,419.1 130.9,418.9 132.7,419 134.5,418.4 136.3,418.8 138.2,418.3 140,419.1 141.8,419.3 143.6,419 145.4,419.6 147.3,418.8 149.1,418.2 150.9,419 152.7,419.1 154.5,419.1 156.4,419 158.2,418.4 160,419.7 160,427.5 158.2,426.8 156.4,427.2 154.5,426.7 152.7,426.5 150.9,426.8 149.1,426.6 147.3,427.3 145.4,427 143.6,427.5 141.8,427.1 140,426.9 138.2,426.4 136.3,426.2 134.5,426.4 132.7,426.3 130.9,426.6 129.1,426.5 127.2,426.4 125.4,427 123.6,426.9 121.8,426.3 120,427.2 118.1,427.1 116.3,427.4 114.5,426.1 112.7,427 110.9,426.1 109,427.1 107.2,426.3 105.4,426.2 103.6,426.7 101.8,427.3 99.9,426.1 98.1,427.3 96.3,426.1 94.5,426.5 92.7,426.5 90.8,426.7 89,427.1 87.2,427.3 85.4,427.1 83.6,426.1 81.7,426.1 79.9,426.3 78.1,426.1 76.3,426.8 74.5,426.4 72.6,427.1 70.8,426.5 69,426.7 67.2,426.2 65.4,427 63.5,426.8 61.7,426.3 59.9,426.9 58.1,427 56.3,426.6 54.4,426 52.6,426.3 50.8,427.3 49,427.5 47.2,427.5 45.3,427 43.5,427 41.7,427.1 39.9,426.7 38.1,426 36.2,426.7 34.4,426.2 32.6,426.5 30.8,426.7 29,427.4 27.1,427 25.3,427.4 23.5,426.2" fill="url(#pc)" />
<line x1="23.5" y1="386.7" x2="160" y2="386.7" stroke="#6464d0" stroke-width="0.45" stroke-dasharray="1.2 0.7"/>
<line x1="23.5" y1="432.5" x2="23.5" y2="362" stroke="#666" stroke-width="0.8" />
<polygon points="23.5,359 21.9,365 25.1,365" fill="#000" />
<line x1="23.5" y1="432.5" x2="165" y2="432.5" stroke="#777" stroke-width="0.9" />
<polygon points="169.7,432.5 163.2,430.7 163.2,434.3" fill="#000" />
<text x="28" y="366.5" font-size="6.8" font-family="'Liberation Sans', Arial, sans-serif" textLength="20.5" lengthAdjust="spacingAndGlyphs" fill="#111" stroke="#222" stroke-width="0.08" >z(mm)</text>
<text x="162" y="428.2" font-size="7" font-family="'Liberation Sans', Arial, sans-serif" textLength="20.4" lengthAdjust="spacingAndGlyphs" fill="#111" stroke="#222" stroke-width="0.08" >x(mm)</text>
<line x1="22" y1="373.6" x2="23.5" y2="373.6" stroke="#000" stroke-width="0.4" />
<text x="21.7" y="375.7" font-size="5.8" font-family="'Liberation Sans', Arial, sans-serif" text-anchor="end" fill="#111" stroke="#222" stroke-width="0.08" >100</text>
<line x1="22" y1="380.1" x2="23.5" y2="380.1" stroke="#000" stroke-width="0.4" />
<text x="21.7" y="382.2" font-size="5.8" font-family="'Liberation Sans', Arial, sans-serif" text-anchor="end" fill="#111" stroke="#222" stroke-width="0.08" >50</text>
<line x1="22" y1="386.7" x2="23.5" y2="386.7" stroke="#000" stroke-width="0.4" />
<text x="21.7" y="388.8" font-size="5.8" font-family="'Liberation Sans', Arial, sans-serif" text-anchor="end" fill="#111" stroke="#222" stroke-width="0.08" >0</text>
<line x1="22" y1="393.2" x2="23.5" y2="393.2" stroke="#000" stroke-width="0.4" />
<text x="21.7" y="395.3" font-size="5.8" font-family="'Liberation Sans', Arial, sans-serif" text-anchor="end" fill="#111" stroke="#222" stroke-width="0.08" >-50</text>
<line x1="22" y1="399.8" x2="23.5" y2="399.8" stroke="#000" stroke-width="0.4" />
<text x="21.7" y="401.9" font-size="5.8" font-family="'Liberation Sans', Arial, sans-serif" text-anchor="end" fill="#111" stroke="#222" stroke-width="0.08" >-100</text>
<line x1="22" y1="406.3" x2="23.5" y2="406.3" stroke="#000" stroke-width="0.4" />
<text x="21.7" y="408.4" font-size="5.8" font-family="'Liberation Sans', Arial, sans-serif" text-anchor="end" fill="#111" stroke="#222" stroke-width="0.08" >-150</text>
<line x1="22" y1="412.9" x2="23.5" y2="412.9" stroke="#000" stroke-width="0.4" />
<text x="21.7" y="415" font-size="5.8" font-family="'Liberation Sans', Arial, sans-serif" text-anchor="end" fill="#111" stroke="#222" stroke-width="0.08" >-200</text>
<line x1="22" y1="419.4" x2="23.5" y2="419.4" stroke="#000" stroke-width="0.4" />
<text x="21.7" y="421.5" font-size="5.8" font-family="'Liberation Sans', Arial, sans-serif" text-anchor="end" fill="#111" stroke="#222" stroke-width="0.08" >-250</text>
<line x1="22" y1="425.9" x2="23.5" y2="425.9" stroke="#000" stroke-width="0.4" />
<text x="21.7" y="428" font-size="5.8" font-family="'Liberation Sans', Arial, sans-serif" text-anchor="end" fill="#111" stroke="#222" stroke-width="0.08" >-300</text>
<line x1="22" y1="432.5" x2="23.5" y2="432.5" stroke="#000" stroke-width="0.4" />
<text x="21.7" y="434.6" font-size="5.8" font-family="'Liberation Sans', Arial, sans-serif" text-anchor="end" fill="#111" stroke="#222" stroke-width="0.08" >-350</text>
<line x1="23.5" y1="432.5" x2="23.5" y2="434" stroke="#000" stroke-width="0.4" />
<text x="23.5" y="440" font-size="6.1" font-family="'Liberation Sans', Arial, sans-serif" text-anchor="middle" textLength="3.1" lengthAdjust="spacingAndGlyphs" fill="#111" stroke="#222" stroke-width="0.08" >0</text>
<line x1="37.1" y1="432.5" x2="37.1" y2="434" stroke="#000" stroke-width="0.4" />
<text x="37.1" y="440" font-size="6.1" font-family="'Liberation Sans', Arial, sans-serif" text-anchor="middle" textLength="9.2" lengthAdjust="spacingAndGlyphs" fill="#111" stroke="#222" stroke-width="0.08" >100</text>
<line x1="50.8" y1="432.5" x2="50.8" y2="434" stroke="#000" stroke-width="0.4" />
<text x="50.8" y="440" font-size="6.1" font-family="'Liberation Sans', Arial, sans-serif" text-anchor="middle" textLength="9.2" lengthAdjust="spacingAndGlyphs" fill="#111" stroke="#222" stroke-width="0.08" >200</text>
<line x1="64.4" y1="432.5" x2="64.4" y2="434" stroke="#000" stroke-width="0.4" />
<text x="64.4" y="440" font-size="6.1" font-family="'Liberation Sans', Arial, sans-serif" text-anchor="middle" textLength="9.2" lengthAdjust="spacingAndGlyphs" fill="#111" stroke="#222" stroke-width="0.08" >300</text>
<line x1="78.1" y1="432.5" x2="78.1" y2="434" stroke="#000" stroke-width="0.4" />
<text x="78.1" y="440" font-size="6.1" font-family="'Liberation Sans', Arial, sans-serif" text-anchor="middle" textLength="9.2" lengthAdjust="spacingAndGlyphs" fill="#111" stroke="#222" stroke-width="0.08" >400</text>
<line x1="91.7" y1="432.5" x2="91.7" y2="434" stroke="#000" stroke-width="0.4" />
<text x="91.7" y="440" font-size="6.1" font-family="'Liberation Sans', Arial, sans-serif" text-anchor="middle" textLength="9.2" lengthAdjust="spacingAndGlyphs" fill="#111" stroke="#222" stroke-width="0.08" >500</text>
<line x1="105.3" y1="432.5" x2="105.3" y2="434" stroke="#000" stroke-width="0.4" />
<text x="105.3" y="440" font-size="6.1" font-family="'Liberation Sans', Arial, sans-serif" text-anchor="middle" textLength="9.2" lengthAdjust="spacingAndGlyphs" fill="#111" stroke="#222" stroke-width="0.08" >600</text>
<line x1="119" y1="432.5" x2="119" y2="434" stroke="#000" stroke-width="0.4" />
<text x="119" y="440" font-size="6.1" font-family="'Liberation Sans', Arial, sans-serif" text-anchor="middle" textLength="9.2" lengthAdjust="spacingAndGlyphs" fill="#111" stroke="#222" stroke-width="0.08" >700</text>
<line x1="132.6" y1="432.5" x2="132.6" y2="434" stroke="#000" stroke-width="0.4" />
<text x="132.6" y="440" font-size="6.1" font-family="'Liberation Sans', Arial, sans-serif" text-anchor="middle" textLength="9.2" lengthAdjust="spacingAndGlyphs" fill="#111" stroke="#222" stroke-width="0.08" >800</text>
<line x1="146.3" y1="432.5" x2="146.3" y2="434" stroke="#000" stroke-width="0.4" />
<text x="146.3" y="440" font-size="6.1" font-family="'Liberation Sans', Arial, sans-serif" text-anchor="middle" textLength="9.2" lengthAdjust="spacingAndGlyphs" fill="#111" stroke="#222" stroke-width="0.08" >900</text>
<line x1="159.9" y1="432.5" x2="159.9" y2="434" stroke="#000" stroke-width="0.4" />
<text x="159.9" y="440" font-size="6.1" font-family="'Liberation Sans', Arial, sans-serif" text-anchor="middle" textLength="12.2" lengthAdjust="spacingAndGlyphs" fill="#111" stroke="#222" stroke-width="0.08" >1000</text>
<polygon points="63.1,366.1 63.1,368.9 64.1,368.9 64.4,376.2 65.5,383.6 67.3,390.1 69.9,395.8 73.7,400.8 77.5,404 81,406 83.2,403.7 85.6,403.4 88.4,407.3 87.9,415.5 83.5,424.4 78.6,420.4 79.4,411.4 79.4,410.9 75.8,408.6 71.6,405.7 67.6,401.6 64.4,396.7 61.8,390.1 60.1,382.8 59.5,374.6 59.3,366.1" fill="#0606ff" />
<polygon points="79.4,411.4 87.9,415.5 83.5,424.4 78.6,420.4" fill="#0000c4" />
<polygon points="213.4,394.8 214.9,394.8 216.4,394.8 217.9,394.8 219.4,394.8 220.9,394.8 222.4,394.8 223.9,394.8 225.4,394.8 226.9,394.8 228.4,394.8 229.9,394.8 231.4,394.8 232.9,394.1 234.4,391.9 235.9,389.2 237.4,386.5 238.9,384.1 240.4,382.6 241.9,381.7 243.4,380.4 244.9,379 246.4,377.8 248,376.8 249.5,376.5 251,376.1 252.5,375.7 254,375.3 255.5,374.8 257,374.5 258.5,374.4 260,374.5 261.5,374.5 263,374.6 264.5,374.6 266,374.7 267.5,374.7 269,374.8 270.5,374.9 272,375 273.5,375.1 275,375.2 276.5,375.3 278,375.5 279.5,376.3 281,377.3 282.5,378.6 284,380 285.5,381.3 287,382.5 288.5,383.5 290,384.1 291.5,384.7 293,385.5 294.5,386.4 296,387.3 297.5,388.4 299,389.4 300.5,390.3 302,391.1 303.5,391.8 305,392.2 306.5,392.4 308,392.7 309.5,393 311,393.4 312.5,393.7 314,394 315.6,394.3 317.1,394.4 318.6,394.4 320.1,394.4 321.6,394.4 323.1,394.4 324.6,394.4 326.1,394.4 327.6,394.4 329.1,394.4 330.6,394.4 332.1,394.4 333.6,394.4 335.1,394.4 336.6,394.4 338.1,394.4 339.6,394.4 341.1,394.4 342.6,394.4 344.1,394.4 345.6,394.4 347.1,394.4 348.6,394.4 348.6,421 213.4,421" fill="#7c7c7c" />
<g fill="#6c6c6c" stroke="#484848" stroke-width="0.35"><circle cx="329.4" cy="410.2" r="1.3"/><circle cx="327.4" cy="399.3" r="1.4"/><circle cx="219.1" cy="413" r="1.2"/><circle cx="294.7" cy="395.4" r="1.2"/><circle cx="261" cy="411.9" r="1.4"/><circle cx="242.9" cy="417.5" r="1.3"/><circle cx="286" cy="392.4" r="1.1"/><circle cx="221.8" cy="405.8" r="1.2"/><circle cx="242.8" cy="405.4" r="1.4"/><circle cx="308.9" cy="408.4" r="1.3"/><circle cx="233.4" cy="411.4" r="1.2"/><circle cx="240.6" cy="414.7" r="1.4"/><circle cx="238.1" cy="398.4" r="1.2"/><circle cx="236.4" cy="405.9" r="1.4"/><circle cx="272.2" cy="413.5" r="1.1"/><circle cx="251.2" cy="391.8" r="1.4"/><circle cx="312.9" cy="411.3" r="1.3"/><circle cx="245.9" cy="398.5" r="1.3"/><circle cx="241.2" cy="407.3" r="1.3"/><circle cx="296" cy="398.4" r="1.1"/><circle cx="242.3" cy="400.2" r="1.3"/><circle cx="291.1" cy="419.8" r="1.4"/><circle cx="322.6" cy="395.8" r="1.1"/><circle cx="287.7" cy="395.9" r="1.3"/><circle cx="280.7" cy="390.7" r="1.3"/><circle cx="215.8" cy="409.6" r="1.2"/><circle cx="239.3" cy="383.8" r="1.4"/><circle cx="267.1" cy="383.7" r="1.3"/><circle cx="295.8" cy="404.9" r="1.4"/><circle cx="238" cy="385.9" r="1.2"/><circle cx="243" cy="412.1" r="1.4"/><circle cx="262.9" cy="378.6" r="1.4"/><circle cx="341.5" cy="404.4" r="1.4"/><circle cx="237.4" cy="413.1" r="1.2"/><circle cx="247.3" cy="400.7" r="1.1"/><circle cx="259" cy="405.1" r="1.2"/><circle cx="320.6" cy="404" r="1.2"/><circle cx="243.5" cy="390.3" r="1.4"/><circle cx="282.9" cy="393.6" r="1.3"/><circle cx="256.5" cy="379.9" r="1.3"/><circle cx="339.7" cy="405.5" r="1.2"/><circle cx="331.4" cy="411.7" r="1.2"/><circle cx="258" cy="390.5" r="1.3"/><circle cx="295.3" cy="401.6" r="1.4"/><circle cx="329.5" cy="407.6" r="1.2"/><circle cx="237.3" cy="401.2" r="1.4"/><circle cx="288.8" cy="419.5" r="1.3"/><circle cx="237.6" cy="409.2" r="1.4"/><circle cx="233" cy="407.8" r="1.1"/><circle cx="242.7" cy="395.2" r="1.2"/><circle cx="290.1" cy="417.7" r="1.2"/><circle cx="232.7" cy="416.2" r="1.2"/><circle cx="330.6" cy="404.2" r="1.2"/><circle cx="220.7" cy="401.9" r="1.3"/><circle cx="234.7" cy="417.7" r="1.1"/><circle cx="250.8" cy="404.2" r="1.4"/><circle cx="335.8" cy="411.2" r="1.3"/><circle cx="223.4" cy="410.3" r="1.4"/><circle cx="322.6" cy="407.1" r="1.2"/><circle cx="223.3" cy="407.9" r="1.2"/><circle cx="276.3" cy="398.4" r="1.3"/><circle cx="340.1" cy="419.9" r="1.4"/><circle cx="269.7" cy="383.5" r="1.2"/><circle cx="245.8" cy="415.3" r="1.3"/><circle cx="241.8" cy="383.1" r="1.3"/><circle cx="340.2" cy="409.3" r="1.3"/><circle cx="224.8" cy="414.9" r="1.2"/><circle cx="217" cy="404.1" r="1.4"/><circle cx="265.2" cy="385.2" r="1.2"/><circle cx="248.8" cy="406.2" r="1.2"/><circle cx="257.2" cy="420.2" r="1.3"/><circle cx="335.8" cy="401.4" r="1.4"/><circle cx="317.3" cy="414.3" r="1.1"/><circle cx="260.5" cy="381.5" r="1.2"/><circle cx="288.5" cy="391.5" r="1.2"/><circle cx="324.8" cy="411.4" r="1.4"/><circle cx="239.6" cy="402.3" r="1.3"/><circle cx="326.3" cy="401.5" r="1.3"/><circle cx="221" cy="414.4" r="1.2"/><circle cx="248" cy="403.7" r="1.2"/><circle cx="237.8" cy="415.8" r="1.3"/><circle cx="240.8" cy="394.1" r="1.2"/><circle cx="324.8" cy="403.1" r="1.3"/><circle cx="344.9" cy="404.3" r="1.1"/><circle cx="339.3" cy="402" r="1.4"/><circle cx="228.5" cy="410.1" r="1.2"/><circle cx="231.9" cy="414" r="1.3"/><circle cx="222.8" cy="413.3" r="1.3"/><circle cx="293.3" cy="417.5" r="1.3"/><circle cx="343.7" cy="408.9" r="1.4"/><circle cx="244.9" cy="408.1" r="1.3"/><circle cx="273.1" cy="383.8" r="1.3"/><circle cx="250.3" cy="402" r="1.3"/><circle cx="290.8" cy="409.4" r="1.1"/><circle cx="287.2" cy="402.1" r="1.3"/><circle cx="269.5" cy="393" r="1.4"/><circle cx="265.7" cy="390.2" r="1.4"/><circle cx="253.9" cy="380.5" r="1.1"/><circle cx="227.3" cy="413.8" r="1.3"/><circle cx="244.4" cy="400.7" r="1.1"/><circle cx="258" cy="381.6" r="1.4"/><circle cx="271.5" cy="382.2" r="1.2"/><circle cx="245.4" cy="404.8" r="1.2"/><circle cx="250.3" cy="397.5" r="1.1"/><circle cx="260.1" cy="409.9" r="1.3"/><circle cx="240.8" cy="397" r="1.3"/><circle cx="291.5" cy="396" r="1.3"/><circle cx="307.9" cy="404.5" r="1.2"/><circle cx="246.3" cy="393.9" r="1.2"/><circle cx="238.3" cy="395.4" r="1.3"/><circle cx="247.8" cy="410.8" r="1.3"/><circle cx="324.8" cy="409.1" r="1.4"/><circle cx="224.9" cy="411.9" r="1.3"/><circle cx="247.5" cy="378" r="1.3"/><circle cx="328.5" cy="401.2" r="1.3"/><circle cx="216.3" cy="419.8" r="1.3"/><circle cx="235" cy="401.6" r="1.2"/><circle cx="230.9" cy="409.6" r="1.4"/><circle cx="341.3" cy="411.4" r="1.3"/><circle cx="243.1" cy="409.2" r="1.3"/><circle cx="241.7" cy="403" r="1.4"/><circle cx="287.7" cy="408.8" r="1.4"/><circle cx="250.8" cy="407.3" r="1.4"/><circle cx="235.3" cy="413.7" r="1.2"/><circle cx="245.7" cy="402.6" r="1.4"/><circle cx="302.7" cy="399.5" r="1.4"/><circle cx="221.3" cy="409.6" r="1.3"/><circle cx="327.3" cy="411.1" r="1.2"/><circle cx="301.3" cy="403.3" r="1.2"/><circle cx="220.5" cy="404" r="1.1"/><circle cx="242.6" cy="392.2" r="1.4"/><circle cx="242.7" cy="415" r="1.3"/><circle cx="331.8" cy="407.5" r="1.3"/><circle cx="275.2" cy="414.7" r="1.3"/><circle cx="240.6" cy="410.3" r="1.1"/><circle cx="247" cy="396.4" r="1.3"/><circle cx="248.7" cy="399.1" r="1.3"/><circle cx="239.8" cy="412.5" r="1.2"/><circle cx="240.2" cy="405.1" r="1.1"/><circle cx="240.7" cy="385.7" r="1.2"/><circle cx="259.2" cy="392.2" r="1.2"/><circle cx="248.2" cy="408.4" r="1.3"/><circle cx="242.9" cy="398" r="1.2"/><circle cx="240" cy="400" r="1.2"/><circle cx="214.6" cy="413.9" r="1.3"/><circle cx="223.9" cy="405.5" r="1.4"/><circle cx="341.5" cy="401.4" r="1.2"/><circle cx="244.9" cy="396.2" r="1.3"/><circle cx="274.8" cy="380.4" r="1.3"/><circle cx="305.4" cy="399.8" r="1.4"/><circle cx="281.6" cy="378.6" r="1.2"/><circle cx="237.7" cy="404.2" r="1.2"/><circle cx="314.8" cy="412.2" r="1.2"/><circle cx="264.3" cy="394.2" r="1.1"/><circle cx="238.8" cy="406.9" r="1.2"/><circle cx="235.1" cy="408.3" r="1.2"/><circle cx="269.2" cy="385.5" r="1.3"/><circle cx="267" cy="376.2" r="1.3"/><circle cx="245.2" cy="391.8" r="1.4"/><circle cx="268.8" cy="397.5" r="1.2"/><circle cx="347.8" cy="403" r="1.3"/><circle cx="258.7" cy="379.4" r="1.3"/><circle cx="220.3" cy="407.4" r="1.4"/><circle cx="326.6" cy="413.7" r="1.4"/><circle cx="245.7" cy="410.5" r="1.2"/><circle cx="240.4" cy="392" r="1.3"/><circle cx="225.9" cy="410" r="1.1"/><circle cx="220.9" cy="411.9" r="1.1"/></g>
<g fill="#f8f8f8" stroke="#969696" stroke-width="0.4"><circle cx="294.9" cy="391.2" r="1.2"/><circle cx="289.6" cy="400.4" r="1.3"/><circle cx="257" cy="375.2" r="1.2"/><circle cx="322.4" cy="410.5" r="1.2"/><circle cx="269.1" cy="389.9" r="1.1"/><circle cx="266.6" cy="410" r="1.4"/><circle cx="277.4" cy="414.2" r="1.3"/><circle cx="274.6" cy="387.5" r="1.4"/><circle cx="287.4" cy="399.9" r="1.2"/><circle cx="254.8" cy="386.8" r="1.3"/><circle cx="231.3" cy="396.9" r="1.2"/><circle cx="345.4" cy="411.9" r="1.4"/><circle cx="268.3" cy="412.6" r="1.4"/><circle cx="326.1" cy="416.1" r="1.3"/><circle cx="291.1" cy="389.5" r="1.2"/><circle cx="262.4" cy="414.9" r="1.1"/><circle cx="319.9" cy="415.5" r="1.3"/><circle cx="253.5" cy="385" r="1.2"/><circle cx="316.9" cy="411.2" r="1.3"/><circle cx="324" cy="398.5" r="1.3"/><circle cx="289.6" cy="407.5" r="1.3"/><circle cx="278.1" cy="410.2" r="1.2"/><circle cx="274.3" cy="397.4" r="1.4"/><circle cx="283.8" cy="411.5" r="1.2"/><circle cx="287.5" cy="414.1" r="1.2"/><circle cx="281.4" cy="408.5" r="1.1"/><circle cx="327.4" cy="403.7" r="1.2"/><circle cx="270.2" cy="419.9" r="1.3"/><circle cx="256.6" cy="403.1" r="1.3"/><circle cx="303.1" cy="401.6" r="1.2"/><circle cx="218" cy="399.3" r="1.3"/><circle cx="279.2" cy="388.3" r="1.2"/><circle cx="275.6" cy="419.6" r="1.2"/><circle cx="227.6" cy="403.2" r="1.2"/><circle cx="286.4" cy="390" r="1.3"/><circle cx="292" cy="412.4" r="1.3"/><circle cx="268.1" cy="416" r="1.4"/><circle cx="248.2" cy="417.7" r="1.2"/><circle cx="341.2" cy="415.6" r="1.4"/><circle cx="265.7" cy="392.6" r="1.3"/><circle cx="289.1" cy="383.7" r="1.4"/><circle cx="271.3" cy="407.8" r="1.3"/><circle cx="338.2" cy="417.4" r="1.2"/><circle cx="305.3" cy="414.5" r="1.3"/><circle cx="263.1" cy="401.6" r="1.2"/><circle cx="271.2" cy="386.4" r="1.4"/><circle cx="269.1" cy="395.2" r="1.4"/><circle cx="251.8" cy="380" r="1.4"/><circle cx="347.2" cy="397.8" r="1.2"/><circle cx="263.7" cy="374.4" r="1.2"/><circle cx="236.8" cy="393.1" r="1.3"/><circle cx="320.6" cy="419" r="1.3"/><circle cx="290.4" cy="398.3" r="1.3"/><circle cx="255.1" cy="417.1" r="1.3"/><circle cx="253.6" cy="400.6" r="1.2"/><circle cx="319.8" cy="401.4" r="1.1"/><circle cx="274.8" cy="377.9" r="1.3"/><circle cx="282.6" cy="398.1" r="1.3"/><circle cx="262" cy="394.7" r="1.1"/><circle cx="281.8" cy="411.1" r="1.4"/><circle cx="284.8" cy="403.5" r="1.3"/><circle cx="251.2" cy="417.8" r="1.2"/><circle cx="279.6" cy="404.3" r="1.2"/><circle cx="229.8" cy="405.4" r="1.1"/><circle cx="309.5" cy="419.2" r="1.2"/><circle cx="294.9" cy="414.5" r="1.1"/><circle cx="285.9" cy="386.7" r="1.4"/><circle cx="232" cy="400.4" r="1.3"/><circle cx="278.9" cy="378.9" r="1.3"/><circle cx="252.4" cy="412.1" r="1.2"/><circle cx="277.5" cy="401.9" r="1.4"/><circle cx="253" cy="394.5" r="1.4"/><circle cx="232.5" cy="394.5" r="1.1"/><circle cx="310.8" cy="417" r="1.2"/><circle cx="249.4" cy="384.4" r="1.1"/><circle cx="276.6" cy="411.9" r="1.2"/><circle cx="299.3" cy="406.1" r="1.2"/><circle cx="282.1" cy="387.7" r="1.3"/><circle cx="274.3" cy="394" r="1.3"/><circle cx="215.4" cy="411.7" r="1.2"/><circle cx="264" cy="418.5" r="1.2"/><circle cx="275.4" cy="402.9" r="1.4"/><circle cx="310.5" cy="395.4" r="1.2"/><circle cx="258" cy="394.4" r="1.4"/><circle cx="263.8" cy="411.2" r="1.3"/><circle cx="226.4" cy="395.7" r="1.2"/><circle cx="220.9" cy="420.1" r="1.4"/><circle cx="297" cy="415.6" r="1.2"/><circle cx="334.6" cy="415.7" r="1.3"/><circle cx="284.1" cy="416.4" r="1.1"/><circle cx="273.5" cy="416.1" r="1.2"/><circle cx="247.3" cy="385.6" r="1.4"/><circle cx="243.6" cy="385" r="1.4"/><circle cx="336.6" cy="398.3" r="1.3"/><circle cx="233.3" cy="403.5" r="1.1"/><circle cx="332.2" cy="399.2" r="1.3"/><circle cx="253.2" cy="398.4" r="1.2"/><circle cx="340.5" cy="417.6" r="1.4"/><circle cx="347.7" cy="412.9" r="1.4"/><circle cx="317" cy="395" r="1.2"/><circle cx="322" cy="401.6" r="1.1"/><circle cx="280.2" cy="393.5" r="1.4"/><circle cx="329.8" cy="396.9" r="1.2"/><circle cx="321.4" cy="398.7" r="1.4"/><circle cx="345.9" cy="414.9" r="1.4"/><circle cx="224.3" cy="400.7" r="1.1"/><circle cx="344.7" cy="417.7" r="1.2"/><circle cx="240.1" cy="389.1" r="1.2"/><circle cx="215.6" cy="398.1" r="1.4"/><circle cx="306.6" cy="402.7" r="1.2"/><circle cx="340.2" cy="396.4" r="1.3"/><circle cx="227.3" cy="416.1" r="1.3"/><circle cx="298.1" cy="389.4" r="1.4"/><circle cx="347.6" cy="395.2" r="1.2"/><circle cx="342.6" cy="399.1" r="1.3"/><circle cx="338" cy="412.4" r="1.1"/><circle cx="346.2" cy="407.4" r="1.2"/><circle cx="283.5" cy="384.7" r="1.3"/><circle cx="217.3" cy="415.5" r="1.3"/><circle cx="238" cy="420.2" r="1.2"/><circle cx="301" cy="395.3" r="1.3"/><circle cx="334.4" cy="396.6" r="1.3"/><circle cx="218" cy="406.4" r="1.2"/><circle cx="282.9" cy="419.3" r="1.2"/><circle cx="266.4" cy="378.6" r="1.1"/><circle cx="237.1" cy="388.5" r="1.2"/><circle cx="254.1" cy="376.5" r="1.3"/><circle cx="227.2" cy="399.7" r="1.3"/><circle cx="264.6" cy="387.9" r="1.2"/><circle cx="258.5" cy="397.2" r="1.1"/><circle cx="319.8" cy="412.1" r="1.2"/><circle cx="280.1" cy="414.5" r="1.2"/><circle cx="223.4" cy="416.8" r="1.3"/><circle cx="249.5" cy="412.6" r="1.3"/><circle cx="220.5" cy="395.5" r="1.1"/><circle cx="326.8" cy="408.5" r="1.3"/><circle cx="267.8" cy="399.4" r="1.3"/><circle cx="266.2" cy="402.3" r="1.2"/><circle cx="302.1" cy="414.7" r="1.2"/><circle cx="273.5" cy="376" r="1.4"/><circle cx="253" cy="406.9" r="1.2"/><circle cx="299.9" cy="412.7" r="1.1"/><circle cx="329.7" cy="418.8" r="1.4"/><circle cx="247.3" cy="391.3" r="1.4"/><circle cx="218" cy="410" r="1.1"/><circle cx="298" cy="401.7" r="1.2"/><circle cx="340.4" cy="398.8" r="1.3"/><circle cx="253.1" cy="382.9" r="1.2"/><circle cx="224.9" cy="398.6" r="1.4"/><circle cx="265.9" cy="415.5" r="1.1"/><circle cx="223" cy="402.7" r="1.2"/><circle cx="296.3" cy="393.7" r="1.4"/><circle cx="301.9" cy="406.4" r="1.4"/><circle cx="253.6" cy="403.4" r="1.3"/><circle cx="317.7" cy="405.4" r="1.2"/><circle cx="261.1" cy="384.4" r="1.2"/><circle cx="311.8" cy="399" r="1.2"/><circle cx="266.6" cy="406.3" r="1.3"/><circle cx="304.1" cy="397.3" r="1.4"/><circle cx="256.7" cy="384.8" r="1.1"/><circle cx="342.2" cy="413.7" r="1.4"/><circle cx="296.5" cy="410.7" r="1.3"/><circle cx="297.4" cy="407.3" r="1.2"/><circle cx="330.7" cy="400.9" r="1.1"/><circle cx="276.8" cy="389.4" r="1.2"/><circle cx="251" cy="399.9" r="1.4"/><circle cx="325.7" cy="397.2" r="1.2"/><circle cx="268.4" cy="408.5" r="1.3"/><circle cx="215.3" cy="395.1" r="1.1"/><circle cx="334.5" cy="417.9" r="1.3"/><circle cx="283.5" cy="381.4" r="1.4"/><circle cx="293.7" cy="393" r="1.4"/><circle cx="291.8" cy="400.1" r="1.3"/><circle cx="221.6" cy="418" r="1.2"/><circle cx="244.4" cy="382.3" r="1.3"/><circle cx="320.4" cy="394.4" r="1.1"/><circle cx="322.3" cy="412.9" r="1.1"/><circle cx="305.3" cy="393.8" r="1.4"/><circle cx="334.7" cy="399.5" r="1.2"/><circle cx="290.9" cy="392.1" r="1.2"/><circle cx="343.8" cy="401.6" r="1.1"/><circle cx="214.5" cy="404.5" r="1.4"/><circle cx="254.5" cy="392.4" r="1.2"/><circle cx="332.5" cy="416.6" r="1.1"/><circle cx="249.1" cy="386.9" r="1.3"/><circle cx="252.2" cy="415.4" r="1.3"/><circle cx="324.5" cy="405.3" r="1.3"/><circle cx="299.3" cy="408.3" r="1.3"/><circle cx="269.8" cy="380.5" r="1.3"/><circle cx="334" cy="407.9" r="1.2"/><circle cx="307.7" cy="399" r="1.2"/><circle cx="286.8" cy="383.4" r="1.4"/><circle cx="303.2" cy="393.4" r="1.4"/><circle cx="260.7" cy="398.4" r="1.3"/><circle cx="270.2" cy="402.8" r="1.2"/><circle cx="271.9" cy="418.4" r="1.2"/><circle cx="316.8" cy="400.2" r="1.4"/><circle cx="216.1" cy="417.7" r="1.1"/><circle cx="257" cy="409.1" r="1.4"/><circle cx="281.5" cy="383.4" r="1.1"/><circle cx="299.1" cy="397.4" r="1.3"/><circle cx="270.6" cy="399.1" r="1.2"/><circle cx="262.5" cy="389.1" r="1.3"/><circle cx="294.9" cy="409" r="1.4"/><circle cx="326.5" cy="418.9" r="1.4"/><circle cx="315" cy="393.8" r="1.3"/><circle cx="226.6" cy="408" r="1.3"/><circle cx="255.3" cy="394.6" r="1.3"/><circle cx="271.1" cy="397" r="1.3"/><circle cx="317.1" cy="416.7" r="1.2"/><circle cx="256.1" cy="415" r="1.2"/><circle cx="225.8" cy="404.4" r="1.4"/><circle cx="304.9" cy="419.2" r="1.4"/><circle cx="284.2" cy="388.9" r="1.2"/><circle cx="262.2" cy="391.2" r="1.1"/><circle cx="270.7" cy="376.7" r="1.3"/><circle cx="234.9" cy="397.6" r="1.4"/><circle cx="280.4" cy="417.2" r="1.4"/><circle cx="276.4" cy="385.3" r="1.4"/><circle cx="276.6" cy="393.9" r="1.3"/><circle cx="314.3" cy="416.8" r="1.3"/><circle cx="272.4" cy="404.3" r="1.2"/><circle cx="313.7" cy="420.2" r="1.1"/><circle cx="306" cy="407.1" r="1.2"/><circle cx="291.9" cy="386.8" r="1.1"/><circle cx="256.4" cy="397.1" r="1.4"/><circle cx="257.3" cy="377.3" r="1.2"/><circle cx="262.9" cy="399.5" r="1.3"/><circle cx="285.8" cy="406.3" r="1.3"/><circle cx="345.7" cy="394.2" r="1.1"/><circle cx="260.5" cy="378" r="1.2"/><circle cx="330.7" cy="414.6" r="1.2"/><circle cx="266" cy="395.8" r="1.1"/><circle cx="251.2" cy="385.6" r="1.4"/><circle cx="345.9" cy="402" r="1.2"/><circle cx="286.4" cy="398" r="1.1"/><circle cx="279.5" cy="420.1" r="1.4"/><circle cx="257.5" cy="411.5" r="1.2"/><circle cx="260.6" cy="417.8" r="1.4"/><circle cx="300.7" cy="399" r="1.3"/><circle cx="276.1" cy="408.4" r="1.3"/><circle cx="266.2" cy="413.2" r="1.2"/><circle cx="343.7" cy="406.7" r="1.2"/><circle cx="328.6" cy="412.8" r="1.4"/><circle cx="308.9" cy="397.3" r="1.4"/><circle cx="279.4" cy="385.2" r="1.1"/><circle cx="256.2" cy="405.3" r="1.2"/><circle cx="246" cy="380.4" r="1.2"/><circle cx="338" cy="400.2" r="1.3"/><circle cx="311.8" cy="408.1" r="1.4"/><circle cx="292.5" cy="402.7" r="1.3"/><circle cx="307.2" cy="417.3" r="1.4"/><circle cx="320.2" cy="406.8" r="1.4"/><circle cx="309.2" cy="411.5" r="1.2"/><circle cx="276.4" cy="382.2" r="1.1"/><circle cx="278.2" cy="397.5" r="1.3"/><circle cx="319" cy="409.5" r="1.3"/><circle cx="259.1" cy="387.2" r="1.3"/><circle cx="229.6" cy="416.4" r="1.2"/><circle cx="282.2" cy="404.5" r="1.2"/><circle cx="338.1" cy="410.3" r="1.3"/><circle cx="255.7" cy="381.9" r="1.3"/><circle cx="322" cy="415.5" r="1.2"/><circle cx="311.8" cy="403.9" r="1.1"/><circle cx="280.4" cy="399.6" r="1.2"/><circle cx="333.3" cy="394.2" r="1.3"/><circle cx="313" cy="396.9" r="1.3"/><circle cx="324.1" cy="418" r="1.3"/><circle cx="317.9" cy="402.8" r="1.1"/><circle cx="288.8" cy="416" r="1.4"/><circle cx="336.2" cy="414.3" r="1.3"/><circle cx="262.1" cy="406.4" r="1.2"/><circle cx="232.6" cy="418.6" r="1.3"/><circle cx="238.7" cy="417.7" r="1.2"/><circle cx="332.7" cy="403.3" r="1.1"/><circle cx="339.9" cy="413.8" r="1.2"/><circle cx="275.5" cy="406" r="1.2"/><circle cx="293.6" cy="397.8" r="1.1"/><circle cx="238.3" cy="391.2" r="1.2"/><circle cx="265.4" cy="398.8" r="1.3"/><circle cx="264.3" cy="381" r="1.1"/><circle cx="242.8" cy="420" r="1.3"/><circle cx="251.2" cy="377.6" r="1.4"/><circle cx="235.5" cy="410.7" r="1.3"/><circle cx="245.2" cy="386.9" r="1.2"/><circle cx="346.1" cy="419.8" r="1.2"/><circle cx="305.4" cy="410" r="1.1"/><circle cx="253" cy="389.8" r="1.2"/><circle cx="233.8" cy="405.8" r="1.3"/><circle cx="270.5" cy="411.1" r="1.2"/><circle cx="300.9" cy="390" r="1.4"/><circle cx="288.9" cy="412.5" r="1.4"/><circle cx="291.6" cy="414.6" r="1.2"/><circle cx="285.8" cy="412.8" r="1.2"/><circle cx="252.8" cy="420.1" r="1.2"/><circle cx="256" cy="399.8" r="1.2"/><circle cx="260.3" cy="415.7" r="1.3"/><circle cx="337" cy="407.8" r="1.3"/><circle cx="227.3" cy="418.5" r="1.2"/><circle cx="267.7" cy="404.1" r="1.2"/><circle cx="256.6" cy="388.4" r="1.4"/><circle cx="269" cy="374.8" r="1.2"/><circle cx="288.4" cy="386.9" r="1.3"/><circle cx="315.4" cy="404" r="1.1"/><circle cx="214.3" cy="416" r="1.2"/><circle cx="260.1" cy="375.6" r="1.3"/><circle cx="251.1" cy="409.5" r="1.2"/><circle cx="308.3" cy="414.8" r="1.3"/><circle cx="271.5" cy="392" r="1.2"/><circle cx="315.2" cy="397.4" r="1.2"/><circle cx="318.2" cy="419.7" r="1.3"/><circle cx="304.7" cy="403.7" r="1.3"/><circle cx="268.2" cy="387.4" r="1.2"/><circle cx="235.8" cy="419.9" r="1.2"/><circle cx="277.1" cy="416.9" r="1.3"/><circle cx="242.8" cy="387.5" r="1.1"/><circle cx="309.6" cy="400.4" r="1.3"/><circle cx="286.1" cy="417.2" r="1.4"/><circle cx="225.2" cy="419.2" r="1.3"/><circle cx="293.4" cy="405.7" r="1.1"/><circle cx="337" cy="419.5" r="1.4"/><circle cx="335.1" cy="403.9" r="1.1"/><circle cx="248.6" cy="394.4" r="1.4"/><circle cx="249.6" cy="389" r="1.2"/><circle cx="254.7" cy="412.5" r="1.2"/><circle cx="314.1" cy="406.7" r="1.3"/><circle cx="303.8" cy="416.2" r="1.3"/><circle cx="230.1" cy="412.1" r="1.3"/><circle cx="276.3" cy="375.8" r="1.4"/><circle cx="285.1" cy="400.7" r="1.4"/><circle cx="246.8" cy="389.2" r="1.4"/><circle cx="298.3" cy="418.2" r="1.4"/><circle cx="301.6" cy="411.4" r="1.3"/><circle cx="248.8" cy="380.4" r="1.2"/><circle cx="279.1" cy="407" r="1.4"/><circle cx="307.3" cy="395.5" r="1.3"/><circle cx="295.5" cy="388.4" r="1.4"/><circle cx="271.9" cy="379.5" r="1.1"/><circle cx="258" cy="413.6" r="1.4"/><circle cx="279" cy="381.5" r="1.4"/><circle cx="272.8" cy="389.6" r="1.3"/><circle cx="341.9" cy="394.9" r="1.4"/><circle cx="345.3" cy="399.1" r="1.3"/><circle cx="250.7" cy="381.9" r="1.4"/><circle cx="276.6" cy="379.2" r="1.3"/><circle cx="230.6" cy="407.4" r="1.2"/><circle cx="216.9" cy="413.3" r="1.2"/><circle cx="258.6" cy="399.5" r="1.3"/><circle cx="274.8" cy="391.3" r="1.4"/><circle cx="263.8" cy="408.4" r="1.2"/><circle cx="337.3" cy="405.2" r="1.2"/><circle cx="220" cy="416.6" r="1.3"/><circle cx="258.1" cy="416.3" r="1.4"/><circle cx="324.7" cy="394.7" r="1.3"/><circle cx="259.4" cy="402.7" r="1.4"/><circle cx="302.5" cy="419.6" r="1.3"/><circle cx="245.3" cy="412.9" r="1.3"/><circle cx="250.4" cy="420.2" r="1.2"/><circle cx="281.5" cy="401.6" r="1.2"/><circle cx="291" cy="404.8" r="1.3"/><circle cx="269.5" cy="406.1" r="1.4"/><circle cx="300.3" cy="416.8" r="1.3"/><circle cx="299.3" cy="391.6" r="1.2"/><circle cx="245.6" cy="417.9" r="1.2"/><circle cx="333.5" cy="405.5" r="1.2"/><circle cx="334.2" cy="413.4" r="1.2"/><circle cx="288.7" cy="404.8" r="1.3"/><circle cx="298.3" cy="394.3" r="1.4"/><circle cx="218.6" cy="418.5" r="1.4"/><circle cx="215.2" cy="402.2" r="1.2"/><circle cx="218.1" cy="397" r="1.3"/><circle cx="246.5" cy="383" r="1.2"/><circle cx="324.2" cy="415" r="1.4"/><circle cx="282.9" cy="390.7" r="1.4"/><circle cx="277.4" cy="404.7" r="1.2"/><circle cx="264.7" cy="376.6" r="1.4"/><circle cx="285.3" cy="419.5" r="1.4"/><circle cx="332.2" cy="420.2" r="1.2"/><circle cx="248.3" cy="415" r="1.3"/><circle cx="314.5" cy="400.9" r="1.2"/><circle cx="214.8" cy="406.9" r="1.2"/><circle cx="258.9" cy="384.2" r="1.3"/><circle cx="302.9" cy="409.7" r="1.1"/><circle cx="263.8" cy="396.5" r="1.4"/><circle cx="220.2" cy="397.9" r="1.3"/><circle cx="329" cy="415.8" r="1.2"/><circle cx="229.4" cy="395.1" r="1.3"/><circle cx="278.6" cy="412.4" r="1.2"/><circle cx="229.9" cy="398.6" r="1.4"/><circle cx="319.9" cy="397.2" r="1.2"/><circle cx="345" cy="396.6" r="1.4"/><circle cx="315.4" cy="418.6" r="1.3"/><circle cx="282.8" cy="413.6" r="1.4"/><circle cx="335.8" cy="394.7" r="1.3"/><circle cx="272.6" cy="400.3" r="1.1"/><circle cx="267.9" cy="418.4" r="1.3"/><circle cx="234" cy="392.6" r="1.2"/><circle cx="313.2" cy="414.5" r="1.2"/><circle cx="275" cy="400.4" r="1.1"/><circle cx="327.4" cy="394.3" r="1.4"/><circle cx="309.2" cy="392.6" r="1.2"/><circle cx="295.6" cy="418" r="1.3"/><circle cx="265.2" cy="404.5" r="1.3"/><circle cx="309.7" cy="403.3" r="1.4"/><circle cx="347.2" cy="400.3" r="1.3"/><circle cx="307.2" cy="412.6" r="1.2"/><circle cx="317.9" cy="407.8" r="1.2"/><circle cx="284.4" cy="407.9" r="1.3"/><circle cx="278.6" cy="391" r="1.1"/><circle cx="250.8" cy="395" r="1.3"/><circle cx="270.4" cy="415" r="1.2"/><circle cx="333.7" cy="410.6" r="1.2"/><circle cx="274.2" cy="411.8" r="1.4"/><circle cx="254.5" cy="409.5" r="1.2"/><circle cx="218.4" cy="401.9" r="1.4"/><circle cx="246.9" cy="419.9" r="1.3"/><circle cx="260" cy="389.2" r="1.2"/><circle cx="223.8" cy="396.4" r="1.2"/><circle cx="347.6" cy="417.5" r="1.2"/><circle cx="281.1" cy="395.7" r="1.2"/><circle cx="331.1" cy="394.3" r="1.1"/><circle cx="268.6" cy="378" r="1.3"/><circle cx="284.6" cy="396.5" r="1.2"/><circle cx="342.7" cy="418.9" r="1.2"/><circle cx="281.3" cy="380.9" r="1.3"/><circle cx="258.5" cy="418.5" r="1.2"/><circle cx="346.8" cy="409.8" r="1.2"/><circle cx="271.4" cy="394.7" r="1.4"/><circle cx="272.4" cy="409.7" r="1.4"/><circle cx="341.4" cy="407.2" r="1.3"/><circle cx="297.8" cy="412.5" r="1.3"/><circle cx="299.9" cy="419.8" r="1.4"/><circle cx="312.6" cy="394.2" r="1.3"/><circle cx="261.5" cy="386.6" r="1.2"/><circle cx="315" cy="409.4" r="1.3"/><circle cx="266.5" cy="381.4" r="1.3"/><circle cx="310.5" cy="414.3" r="1.4"/><circle cx="262.3" cy="376.3" r="1.3"/><circle cx="278.5" cy="376.1" r="1.3"/><circle cx="300.2" cy="401.4" r="1.3"/><circle cx="274.1" cy="418.2" r="1.1"/><circle cx="231.2" cy="403.1" r="1.4"/><circle cx="293.9" cy="419.8" r="1.3"/><circle cx="298.2" cy="399.4" r="1.1"/><circle cx="288.5" cy="393.8" r="1.3"/><circle cx="278.2" cy="399.7" r="1.3"/><circle cx="311.7" cy="419" r="1.1"/><circle cx="259.9" cy="407.1" r="1.2"/><circle cx="240.9" cy="419" r="1.2"/><circle cx="260.9" cy="401.2" r="1.2"/><circle cx="263.4" cy="383.8" r="1.2"/><circle cx="311.7" cy="401.6" r="1.4"/><circle cx="229.3" cy="420.2" r="1.3"/><circle cx="235" cy="390.4" r="1.4"/><circle cx="295.2" cy="386.2" r="1.4"/><circle cx="271.3" cy="374.7" r="1.2"/><circle cx="286.1" cy="410.4" r="1.1"/><circle cx="343.7" cy="415.7" r="1.2"/><circle cx="222.4" cy="398.3" r="1.3"/><circle cx="338" cy="396.4" r="1.1"/><circle cx="307.4" cy="420" r="1.2"/><circle cx="256.8" cy="392.3" r="1.4"/><circle cx="278.5" cy="395.3" r="1.4"/><circle cx="327" cy="405.9" r="1.2"/><circle cx="339.7" cy="393.8" r="1.4"/><circle cx="251.6" cy="388.1" r="1.2"/><circle cx="332" cy="396.3" r="1.1"/><circle cx="317.7" cy="398" r="1.3"/><circle cx="294.4" cy="411" r="1.1"/><circle cx="261.3" cy="403.8" r="1.2"/><circle cx="276.1" cy="396.3" r="1.2"/><circle cx="266.5" cy="420.1" r="1.1"/><circle cx="261.3" cy="420.1" r="1.2"/><circle cx="273.1" cy="406.5" r="1.3"/><circle cx="293.2" cy="389.6" r="1.4"/><circle cx="229.6" cy="401.2" r="1.4"/><circle cx="254.7" cy="374.4" r="1.2"/><circle cx="303.7" cy="412.7" r="1.2"/><circle cx="235.3" cy="395.3" r="1.3"/><circle cx="285.8" cy="394.6" r="1.4"/><circle cx="310.6" cy="405.8" r="1.2"/><circle cx="289.4" cy="402.7" r="1.2"/><circle cx="292" cy="384.5" r="1.2"/><circle cx="322.5" cy="420.1" r="1.1"/><circle cx="347.2" cy="405.2" r="1.1"/><circle cx="214.2" cy="419.4" r="1.4"/><circle cx="227.8" cy="397.7" r="1.2"/><circle cx="258.6" cy="373.7" r="1.4"/><circle cx="244.5" cy="378.7" r="1.2"/><circle cx="289.1" cy="388.9" r="1.2"/><circle cx="337.4" cy="402.9" r="1.2"/><circle cx="227.6" cy="405.8" r="1.2"/><circle cx="304.2" cy="391.2" r="1.3"/><circle cx="292.8" cy="408.8" r="1.1"/><circle cx="333.2" cy="401.1" r="1.1"/><circle cx="296.8" cy="396.3" r="1.2"/><circle cx="282.5" cy="406.6" r="1.2"/><circle cx="222.7" cy="394.4" r="1.4"/><circle cx="235.9" cy="399.6" r="1.2"/><circle cx="242.7" cy="381" r="1.4"/><circle cx="218.2" cy="394.1" r="1.3"/><circle cx="249.4" cy="376.4" r="1.4"/><circle cx="257.7" cy="406.9" r="1.2"/><circle cx="324" cy="400.7" r="1.3"/><circle cx="298.6" cy="403.9" r="1.2"/><circle cx="214.6" cy="400.1" r="1.2"/></g>
<circle cx="256.6" cy="413.8" r="0.6" fill="#fa0012"/><circle cx="259.6" cy="402" r="0.6" fill="#fa0012"/><circle cx="283.7" cy="412.4" r="0.6" fill="#fa0012"/><circle cx="281.8" cy="381.4" r="0.6" fill="#fa0012"/><circle cx="269" cy="416.5" r="0.6" fill="#fa0012"/><circle cx="238.4" cy="397.2" r="0.6" fill="#fa0012"/><circle cx="292.3" cy="412.9" r="0.6" fill="#fa0012"/><circle cx="279.3" cy="416.9" r="0.6" fill="#fa0012"/><circle cx="248.5" cy="386.8" r="0.6" fill="#fa0012"/><circle cx="247.3" cy="416.5" r="0.6" fill="#fa0012"/><circle cx="290.4" cy="415.9" r="0.6" fill="#fa0012"/><circle cx="300.2" cy="397.3" r="0.6" fill="#fa0012"/><circle cx="299.2" cy="412.7" r="0.6" fill="#fa0012"/><circle cx="297.5" cy="403.2" r="0.6" fill="#fa0012"/><circle cx="259.1" cy="414.3" r="0.6" fill="#fa0012"/><circle cx="294.1" cy="408.9" r="0.6" fill="#fa0012"/><circle cx="267.7" cy="406.9" r="0.6" fill="#fa0012"/><circle cx="253.8" cy="411.9" r="0.6" fill="#fa0012"/><circle cx="269" cy="397.3" r="0.6" fill="#fa0012"/><circle cx="291.9" cy="415.3" r="0.6" fill="#fa0012"/><circle cx="249.9" cy="404.6" r="0.6" fill="#fa0012"/><circle cx="248.3" cy="404.4" r="0.6" fill="#fa0012"/><circle cx="272.4" cy="381.1" r="0.6" fill="#fa0012"/><circle cx="281.5" cy="390.1" r="0.6" fill="#fa0012"/><circle cx="285.8" cy="417.1" r="0.6" fill="#fa0012"/><circle cx="294.6" cy="391.6" r="0.6" fill="#fa0012"/>
<polygon points="261.8,402.7 272.8,406.7 283.9,412.8 295.3,419 302.7,420.9 261.8,420.9" fill="#f4f4f8" />
<polygon points="271.6,403.5 279,406.7 288.8,411.6 298.6,416.5 307.6,420.9 292,420.9 283.9,416.5 272.8,410" fill="url(#pm)" />
<polygon points="271.6,403.5 279,407.2 287.1,411.6 295.3,416.5 300.5,420.9 292,420.9 285.5,415.7 272.8,409.2" fill="url(#pr)" />
<polygon points="279,409.2 284.7,411.6 289.1,416.5 292.9,420.9 283.9,420.9 280.9,415.7" fill="url(#pn)" />
<polygon points="274.4,407.9 279.8,410 283.1,415.7 285.2,420.9 279,420.9 276.5,414.9 273.8,410.8" fill="url(#pc)" />
<line x1="267.2" y1="412.8" x2="267.2" y2="420.9" stroke="#5050ff" stroke-width="0.4" />
<line x1="274.4" y1="412.8" x2="274.4" y2="420.9" stroke="#5050ff" stroke-width="0.4" />
<polygon points="245.5,391.2 249.3,389.6 249.6,402.7 246.3,403.5" fill="#fa0012" />
<circle cx="245.4" cy="417.3" r="1.15" fill="#fa0cde"/><circle cx="242" cy="412" r="1.15" fill="#fa0cde"/><circle cx="248.2" cy="420" r="1.15" fill="#fa0cde"/><circle cx="245.6" cy="412.4" r="1.15" fill="#fa0012"/><circle cx="244.9" cy="416.1" r="1.15" fill="#fa0012"/><circle cx="244.9" cy="416" r="1.15" fill="#fa0012"/><circle cx="246.4" cy="419.2" r="1.15" fill="#fa0012"/><circle cx="241.8" cy="416" r="1.15" fill="#fa0012"/><circle cx="244.7" cy="420.1" r="1.15" fill="#fa0cde"/><circle cx="248" cy="414.9" r="1.15" fill="#fa0012"/><circle cx="243.1" cy="412.3" r="1.15" fill="#fa0cde"/><circle cx="245.8" cy="415.2" r="1.15" fill="#fa0012"/><circle cx="246" cy="415.7" r="1.15" fill="#fa0012"/><circle cx="245.5" cy="420.3" r="1.15" fill="#fa0012"/><circle cx="248.5" cy="413" r="1.15" fill="#fa0012"/><circle cx="248.4" cy="420" r="1.15" fill="#fa0cde"/>
<circle cx="238.6" cy="419.1" r="1.1" fill="#fa0cde"/><circle cx="236.8" cy="417" r="1.1" fill="#fa0012"/><circle cx="239.4" cy="420.1" r="1.1" fill="#fa0cde"/><circle cx="235.6" cy="419.9" r="1.1" fill="#fa0cde"/><circle cx="240.6" cy="419.6" r="1.1" fill="#fa0cde"/><circle cx="234.2" cy="418.8" r="1.1" fill="#fa0012"/><circle cx="240.6" cy="420" r="1.1" fill="#fa0012"/>
<polygon points="249.3,389.3 251.2,388.3 250.9,392" fill="#fa0cde" />
<polygon points="266.3,358.2 273,358.2 275.5,366.3 278.1,375 266.3,375" fill="#fa0012" />
<polygon points="266.3,358.2 268.2,358.2 269,375 266.3,375" fill="#0606ff" />
<polygon points="269.2,360.2 269.8,360.2 271.2,374.5 270.2,374.5" fill="#3020e0" />
<polygon points="266.3,358.2 266.9,358.2 267.1,375 266.3,375" fill="#8000a0" />
<circle cx="273.5" cy="365.3" r="1" fill="#1ce0e4"/>
<circle cx="276" cy="368.9" r="1" fill="#1ce0e4"/>
<circle cx="276.7" cy="371.9" r="1" fill="#1ce0e4"/>
<circle cx="268.4" cy="375.5" r="1" fill="#1ce0e4"/>
<circle cx="271.9" cy="376" r="1" fill="#1ce0e4"/>
<circle cx="275" cy="375.5" r="1" fill="#1ce0e4"/>
<circle cx="265.3" cy="376.7" r="0.9" fill="#0ce024"/>
<circle cx="276.7" cy="377.3" r="0.9" fill="#0ce024"/>
<circle cx="279.6" cy="379.1" r="0.9" fill="#0ce024"/>
<circle cx="281.1" cy="380.6" r="0.9" fill="#0ce024"/>
<circle cx="263.3" cy="376.7" r="0.9" fill="#fa0cde"/>
<circle cx="277.6" cy="381.1" r="0.9" fill="#fa0cde"/>
<circle cx="274" cy="377.6" r="0.9" fill="#0ce024"/>
<polygon points="248,398.6 250.4,392 254.5,390.4 258.6,393.7 261.8,400.2 265.1,401.8 269.2,405.1 272.8,407.6 272.8,410.8 270.2,412.8 268.2,416.5 265.3,418.7 261.8,420 256.1,421.9 254.7,424.2 254.5,441.8 253.8,446.4 252.5,448 250.9,446.4 249.6,441.8 249.3,435.3 248.8,422.2 247.6,410.8" fill="#0606ff" />
<polygon points="256.9,396.9 259.9,397.8 260.4,409.2 257.4,408.4" fill="#fa0012" />
<polygon points="261.8,399.4 265.1,401.8 264.6,405.6 262.3,404.3" fill="#0ce024" />
<polygon points="273.3,403.5 275.7,404.6 275.7,410 273.4,409.2" fill="#fa0012" />
<polygon points="250.9,402.7 254.5,401 255.3,419 252,420.6" fill="#0000c8" />
<polygon points="262.7,405.1 266.7,406.7 266.2,414.1 263.5,415.7" fill="#0000d0" />
<circle cx="283.9" cy="420.8" r="0.65" fill="#fa0012"/><circle cx="248.3" cy="420.8" r="0.65" fill="#fa0012"/><circle cx="265.1" cy="420.8" r="0.65" fill="#0ce024"/><circle cx="321.6" cy="420.8" r="0.65" fill="#fa0cde"/><circle cx="276.2" cy="420.8" r="0.65" fill="#fa0012"/><circle cx="287.9" cy="420.8" r="0.65" fill="#fa0cde"/><circle cx="260.1" cy="420.8" r="0.65" fill="#0ce024"/><circle cx="313" cy="420.8" r="0.65" fill="#fa0cde"/><circle cx="236.8" cy="420.8" r="0.65" fill="#444"/><circle cx="249.4" cy="420.8" r="0.65" fill="#fa0012"/><circle cx="230.6" cy="420.8" r="0.65" fill="#0ce024"/><circle cx="270.4" cy="420.8" r="0.65" fill="#0ce024"/><circle cx="219.1" cy="420.8" r="0.65" fill="#444"/><circle cx="304.8" cy="420.8" r="0.65" fill="#fa0012"/><circle cx="319" cy="420.8" r="0.65" fill="#fa0cde"/><circle cx="258.2" cy="420.8" r="0.65" fill="#fa0cde"/><circle cx="229.4" cy="420.8" r="0.65" fill="#fa0012"/><circle cx="342.1" cy="420.8" r="0.65" fill="#444"/><circle cx="339.5" cy="420.8" r="0.65" fill="#fa0012"/><circle cx="257.2" cy="420.8" r="0.65" fill="#fa0cde"/><circle cx="213.9" cy="420.8" r="0.65" fill="#1ce0e4"/><circle cx="213.9" cy="420.8" r="0.65" fill="#0ce024"/><circle cx="312.9" cy="420.8" r="0.65" fill="#fa0cde"/><circle cx="224.5" cy="420.8" r="0.65" fill="#0ce024"/><circle cx="218.3" cy="420.8" r="0.65" fill="#1ce0e4"/><circle cx="326.3" cy="420.8" r="0.65" fill="#fa0cde"/><circle cx="296.4" cy="420.8" r="0.65" fill="#fa0012"/><circle cx="239.2" cy="420.8" r="0.65" fill="#1ce0e4"/><circle cx="341.3" cy="420.8" r="0.65" fill="#fa0012"/><circle cx="299.7" cy="420.8" r="0.65" fill="#444"/>
<circle cx="230.7" cy="394.5" r="0.65" fill="#fa0cde"/><circle cx="228.4" cy="394.5" r="0.65" fill="#fa0cde"/><circle cx="215.1" cy="394.5" r="0.65" fill="#fa0cde"/><circle cx="228.9" cy="394.5" r="0.65" fill="#0ce024"/><circle cx="231.8" cy="394.5" r="0.65" fill="#fa0cde"/><circle cx="229.8" cy="394.5" r="0.65" fill="#fa0012"/>
<circle cx="333.8" cy="394.1" r="0.65" fill="#0ce024"/><circle cx="340.8" cy="394.1" r="0.65" fill="#fa0012"/><circle cx="338" cy="394.1" r="0.65" fill="#fa0cde"/><circle cx="339.4" cy="394.1" r="0.65" fill="#fa0012"/><circle cx="318.2" cy="394.1" r="0.65" fill="#fa0cde"/><circle cx="347.7" cy="394.1" r="0.65" fill="#0ce024"/><circle cx="316.8" cy="394.1" r="0.65" fill="#fa0012"/><circle cx="326.1" cy="394.1" r="0.65" fill="#0ce024"/>
<circle cx="214.2" cy="416.2" r="0.65" fill="#fa0cde"/><circle cx="213.5" cy="419.5" r="0.65" fill="#fa0cde"/><circle cx="213.8" cy="409" r="0.65" fill="#fa0012"/><circle cx="213.7" cy="398.7" r="0.65" fill="#fa0012"/><circle cx="214.1" cy="403.7" r="0.65" fill="#fa0cde"/><circle cx="214.4" cy="409.4" r="0.65" fill="#fa0012"/><circle cx="213.6" cy="402.1" r="0.65" fill="#fa0012"/><circle cx="214.3" cy="410.1" r="0.65" fill="#fa0cde"/>
<circle cx="348.5" cy="416.6" r="0.65" fill="#fa0012"/><circle cx="348.4" cy="407.6" r="0.65" fill="#fa0cde"/><circle cx="348.5" cy="413.6" r="0.65" fill="#fa0cde"/><circle cx="347.8" cy="406.1" r="0.65" fill="#fa0cde"/><circle cx="347.7" cy="396.2" r="0.65" fill="#fa0012"/><circle cx="348.3" cy="395.4" r="0.65" fill="#fa0012"/><circle cx="348.5" cy="409.4" r="0.65" fill="#fa0012"/><circle cx="348.4" cy="411.1" r="0.65" fill="#fa0cde"/>
<line x1="213.4" y1="421" x2="213.4" y2="358" stroke="#000" stroke-width="0.6" />
<polygon points="213.4,355.1 211.6,361.6 215.2,361.6" fill="#000" />
<line x1="213.4" y1="421" x2="361" y2="421" stroke="#000" stroke-width="0.6" />
<polygon points="366,421 360,419.4 360,422.6" fill="#000" />
<text x="217.4" y="360.8" font-size="6.3" font-family="'Liberation Sans', Arial, sans-serif" textLength="22" lengthAdjust="spacingAndGlyphs" fill="#111" stroke="#222" stroke-width="0.08" >y (mm)</text>
<text x="350.6" y="416.5" font-size="6.3" font-family="'Liberation Sans', Arial, sans-serif" textLength="22" lengthAdjust="spacingAndGlyphs" fill="#111" stroke="#222" stroke-width="0.08" >x (mm)</text>
<line x1="211.9" y1="421" x2="213.4" y2="421" stroke="#000" stroke-width="0.4" />
<text x="211.5" y="423.2" font-size="6.2" font-family="'Liberation Sans', Arial, sans-serif" text-anchor="end" textLength="3.1" lengthAdjust="spacingAndGlyphs" fill="#111" stroke="#222" stroke-width="0.08" >0</text>
<line x1="211.9" y1="407.6" x2="213.4" y2="407.6" stroke="#000" stroke-width="0.4" />
<text x="211.5" y="409.8" font-size="6.2" font-family="'Liberation Sans', Arial, sans-serif" text-anchor="end" textLength="9.3" lengthAdjust="spacingAndGlyphs" fill="#111" stroke="#222" stroke-width="0.08" >100</text>
<line x1="211.9" y1="394.2" x2="213.4" y2="394.2" stroke="#000" stroke-width="0.4" />
<text x="211.5" y="396.4" font-size="6.2" font-family="'Liberation Sans', Arial, sans-serif" text-anchor="end" textLength="9.3" lengthAdjust="spacingAndGlyphs" fill="#111" stroke="#222" stroke-width="0.08" >200</text>
<line x1="211.9" y1="380.8" x2="213.4" y2="380.8" stroke="#000" stroke-width="0.4" />
<text x="211.5" y="383" font-size="6.2" font-family="'Liberation Sans', Arial, sans-serif" text-anchor="end" textLength="9.3" lengthAdjust="spacingAndGlyphs" fill="#111" stroke="#222" stroke-width="0.08" >300</text>
<line x1="211.9" y1="367.4" x2="213.4" y2="367.4" stroke="#000" stroke-width="0.4" />
<text x="211.5" y="369.6" font-size="6.2" font-family="'Liberation Sans', Arial, sans-serif" text-anchor="end" textLength="9.3" lengthAdjust="spacingAndGlyphs" fill="#111" stroke="#222" stroke-width="0.08" >400</text>
<line x1="213.4" y1="421" x2="213.4" y2="422.5" stroke="#000" stroke-width="0.4" />
<text x="213.4" y="428.8" font-size="6.2" font-family="'Liberation Sans', Arial, sans-serif" text-anchor="middle" textLength="3.1" lengthAdjust="spacingAndGlyphs" fill="#111" stroke="#222" stroke-width="0.08" >0</text>
<line x1="226.8" y1="421" x2="226.8" y2="422.5" stroke="#000" stroke-width="0.4" />
<text x="226.8" y="428.8" font-size="6.2" font-family="'Liberation Sans', Arial, sans-serif" text-anchor="middle" textLength="9.3" lengthAdjust="spacingAndGlyphs" fill="#111" stroke="#222" stroke-width="0.08" >100</text>
<line x1="240.2" y1="421" x2="240.2" y2="422.5" stroke="#000" stroke-width="0.4" />
<text x="240.2" y="428.8" font-size="6.2" font-family="'Liberation Sans', Arial, sans-serif" text-anchor="middle" textLength="9.3" lengthAdjust="spacingAndGlyphs" fill="#111" stroke="#222" stroke-width="0.08" >200</text>
<line x1="253.6" y1="421" x2="253.6" y2="422.5" stroke="#000" stroke-width="0.4" />
<text x="253.6" y="428.8" font-size="6.2" font-family="'Liberation Sans', Arial, sans-serif" text-anchor="middle" textLength="9.3" lengthAdjust="spacingAndGlyphs" fill="#111" stroke="#222" stroke-width="0.08" >300</text>
<line x1="267" y1="421" x2="267" y2="422.5" stroke="#000" stroke-width="0.4" />
<text x="267" y="428.8" font-size="6.2" font-family="'Liberation Sans', Arial, sans-serif" text-anchor="middle" textLength="9.3" lengthAdjust="spacingAndGlyphs" fill="#111" stroke="#222" stroke-width="0.08" >400</text>
<line x1="280.4" y1="421" x2="280.4" y2="422.5" stroke="#000" stroke-width="0.4" />
<text x="280.4" y="428.8" font-size="6.2" font-family="'Liberation Sans', Arial, sans-serif" text-anchor="middle" textLength="9.3" lengthAdjust="spacingAndGlyphs" fill="#111" stroke="#222" stroke-width="0.08" >500</text>
<line x1="293.8" y1="421" x2="293.8" y2="422.5" stroke="#000" stroke-width="0.4" />
<text x="293.8" y="428.8" font-size="6.2" font-family="'Liberation Sans', Arial, sans-serif" text-anchor="middle" textLength="9.3" lengthAdjust="spacingAndGlyphs" fill="#111" stroke="#222" stroke-width="0.08" >600</text>
<line x1="307.2" y1="421" x2="307.2" y2="422.5" stroke="#000" stroke-width="0.4" />
<text x="307.2" y="428.8" font-size="6.2" font-family="'Liberation Sans', Arial, sans-serif" text-anchor="middle" textLength="9.3" lengthAdjust="spacingAndGlyphs" fill="#111" stroke="#222" stroke-width="0.08" >700</text>
<line x1="320.6" y1="421" x2="320.6" y2="422.5" stroke="#000" stroke-width="0.4" />
<text x="320.6" y="428.8" font-size="6.2" font-family="'Liberation Sans', Arial, sans-serif" text-anchor="middle" textLength="9.3" lengthAdjust="spacingAndGlyphs" fill="#111" stroke="#222" stroke-width="0.08" >800</text>
<line x1="334" y1="421" x2="334" y2="422.5" stroke="#000" stroke-width="0.4" />
<text x="334" y="428.8" font-size="6.2" font-family="'Liberation Sans', Arial, sans-serif" text-anchor="middle" textLength="9.3" lengthAdjust="spacingAndGlyphs" fill="#111" stroke="#222" stroke-width="0.08" >900</text>
<line x1="347.4" y1="421" x2="347.4" y2="422.5" stroke="#000" stroke-width="0.4" />
<text x="347.4" y="428.8" font-size="6.2" font-family="'Liberation Sans', Arial, sans-serif" text-anchor="middle" textLength="12.4" lengthAdjust="spacingAndGlyphs" fill="#111" stroke="#222" stroke-width="0.08" >1000</text>
<polygon points="423.1,358.3 458,358.3 465.6,370.1 456.9,377.3 444.9,387.1 440.1,391.9 440.1,397.1 434,391.5" fill="#0606ff" />
<polygon points="440.1,391.9 441.5,390.1 443,388.6 444.4,387.7 445.9,386.4 447.3,384.9 448.7,383 450.2,380.7 451.6,379 453,376.8 454.5,374.8 455.9,374 457.4,373.5 458.8,372.9 460.2,372 461.7,371.5 463.1,371.7 464.5,370 466,370.5 467.4,369.3 468.9,369.4 470.3,368.7 471.7,370.2 473.2,369.1 474.6,369.8 476,369.6 477.5,369 478.9,370.2 480.4,369.3 481.8,371 483.2,370.7 484.7,371.9 486.1,371 487.5,373.2 489,376.1 489,375.7 487.5,376.4 486.1,378.1 484.7,378.3 483.2,379.6 481.8,381.1 480.4,383.1 478.9,384.8 477.5,386.5 476,387.6 474.6,388 473.2,388.9 471.7,390.3 470.3,392.9 468.9,392.9 467.4,393.4 466,393.8 464.5,393.5 463.1,392.6 461.7,392.6 460.2,393.3 458.8,393.7 457.4,392.9 455.9,393.1 454.5,393.8 453,393.1 451.6,394 450.2,394 448.7,393.3 447.3,392.8 445.9,393.8 444.4,393.1 443,393.4 441.5,393.1 440.1,393.7" fill="url(#pw)" />
<polygon points="439.6,392.2 441.2,393.1 442.9,392.7 444.5,392.5 446.1,392.7 447.7,392.5 449.4,392.3 451,392.3 452.6,392.7 454.3,393.3 455.9,392.5 457.5,393.2 459.1,393.3 460.8,393.2 462.4,392.8 464,392.7 465.6,393.1 467.3,393.3 468.9,392.6 470.5,391.3 472.2,390.2 473.8,387.5 475.4,386.2 477,386.2 478.7,383.9 480.3,382.8 481.9,381.4 483.6,379.8 485.2,377.6 486.8,377.5 486.8,384 485.2,386.1 483.6,386.7 481.9,388.9 480.3,391.3 478.7,392.5 477,394.9 475.4,396 473.8,397.5 472.2,398.9 470.5,401 468.9,401.7 467.3,401.6 465.6,402.1 464,401.9 462.4,401.1 460.8,401.1 459.1,401.5 457.5,401.8 455.9,401.6 454.3,402.2 452.6,401.6 451,401.6 449.4,401.9 447.7,401.3 446.1,402.1 444.5,401.6 442.9,401.6 441.2,402.1 439.6,402.2" fill="url(#pg)" />
<polygon points="439.6,400.9 441.3,400.4 442.9,400.7 444.6,400.9 446.2,400.5 447.9,400.3 449.5,400.7 451.2,399.9 452.8,399.9 454.5,400.4 456.1,399.8 457.8,399.8 459.5,400.8 461.1,400.6 462.8,400.5 464.4,400.5 466.1,399.6 467.7,399.6 469.4,400 471,399.1 472.7,397.2 474.3,394.8 476,393.8 477.7,391.6 479.3,390 481,388.1 482.6,386.3 484.3,384 485.9,384.1 485.9,391.7 484.3,392.4 482.6,393.6 481,395.7 479.3,398 477.7,401.4 476,402.4 474.3,403.5 472.7,406.2 471,406.9 469.4,407.5 467.7,407.9 466.1,408.3 464.4,407.6 462.8,407.5 461.1,407.6 459.5,408.6 457.8,408.5 456.1,407.6 454.5,407.9 452.8,407.8 451.2,408.5 449.5,407.8 447.9,408.2 446.2,407.7 444.6,408.4 442.9,407.8 441.3,408.1 439.6,407.7" fill="url(#pr)" />
<polygon points="439.6,407 441.3,407.2 442.9,407.3 444.6,406.6 446.2,406.5 447.9,406.6 449.5,406.7 451.2,407.3 452.8,406.4 454.5,406.9 456.1,406.7 457.8,406.5 459.4,406.3 461.1,407.1 462.7,407 464.4,406.4 466,407.3 467.7,407.3 469.3,406.6 471,405.8 472.6,404.7 474.3,401.9 475.9,400.3 477.6,396.1 479.2,390.8 480.9,389.8 482.5,389.8 484.2,390.9 484.2,399.5 482.5,401 480.9,402 479.2,403.9 477.6,406.1 475.9,407.5 474.3,409.7 472.6,412.3 471,414.9 469.3,414.7 467.7,414.1 466,415.1 464.4,414.3 462.7,414.2 461.1,414.9 459.4,414.6 457.8,415 456.1,414.5 454.5,414.6 452.8,414.4 451.2,414.8 449.5,414.8 447.9,414.9 446.2,414 444.6,414.1 442.9,414.6 441.3,414.9 439.6,414" fill="url(#pm)" />
<polygon points="439.6,413.1 441.2,413.4 442.9,412.9 444.5,413.6 446.1,413.1 447.8,413.5 449.4,413.6 451,413.8 452.7,413.5 454.3,413.8 455.9,413 457.5,413.1 459.2,412.9 460.8,412.9 462.4,413.4 464.1,413.5 465.7,413.6 467.3,413 469,412.8 470.6,412.7 472.2,411.4 473.9,407.7 475.5,405.8 477.1,401.6 478.8,398.6 480.4,399.4 482,400.5 483.6,401.2 485.3,404.7 485.3,408.7 483.6,409.5 482,410.5 480.4,411.3 478.8,413.2 477.1,413.9 475.5,416.5 473.9,419.5 472.2,420.7 470.6,420.8 469,420.7 467.3,420.9 465.7,420.6 464.1,421.1 462.4,420.6 460.8,420.7 459.2,420.4 457.5,420.5 455.9,421.5 454.3,421.2 452.7,420.5 451,420.9 449.4,421 447.8,421.7 446.1,421.3 444.5,421.5 442.9,420.6 441.2,421.4 439.6,421.5" fill="url(#pn)" />
<polygon points="439.6,420.1 441.2,420 442.9,419.8 444.5,420.3 446.1,419.5 447.7,419.8 449.4,419.2 451,419.8 452.6,420.1 454.3,419.3 455.9,419.1 457.5,419.6 459.2,419.3 460.8,419.8 462.4,419.1 464,419.9 465.7,419.1 467.3,419 468.9,419.2 470.6,418.9 472.2,419.1 473.8,419.5 475.5,419.1 475.5,424 473.8,425 472.2,426.1 470.6,427.6 468.9,427.5 467.3,427.5 465.7,427.6 464,427.5 462.4,427.9 460.8,427.8 459.2,427.8 457.5,427.7 455.9,427.7 454.3,427.4 452.6,428.2 451,428.5 449.4,428.3 447.7,427.7 446.1,428.4 444.5,427.8 442.9,428.4 441.2,428.2 439.6,428.2" fill="url(#pc)" />
<circle cx="477.4" cy="411.2" r="1.35" fill="#40e8e8"/><circle cx="484.4" cy="416" r="1.35" fill="#40e8e8"/><circle cx="483.8" cy="405.9" r="1.35" fill="#1ce0e4"/><circle cx="477.2" cy="411.7" r="1.35" fill="#40e8e8"/><circle cx="475.8" cy="413.5" r="1.35" fill="#1ce0e4"/><circle cx="478.9" cy="407.1" r="1.35" fill="#1ce0e4"/><circle cx="479.1" cy="412.4" r="1.35" fill="#40e8e8"/><circle cx="478.9" cy="408.6" r="1.35" fill="#40e8e8"/><circle cx="486.2" cy="413.6" r="1.35" fill="#1ce0e4"/><circle cx="479.5" cy="406.3" r="1.35" fill="#40e8e8"/><circle cx="478.4" cy="406.9" r="1.35" fill="#40e8e8"/><circle cx="477" cy="411.1" r="1.35" fill="#40e8e8"/>
<circle cx="481.8" cy="419.9" r="1.35" fill="#40e8e8"/><circle cx="481.6" cy="425" r="1.35" fill="#40e8e8"/><circle cx="479.3" cy="419.6" r="1.35" fill="#1ce0e4"/><circle cx="474.9" cy="423.8" r="1.35" fill="#40e8e8"/><circle cx="480.9" cy="423.5" r="1.35" fill="#40e8e8"/><circle cx="482.3" cy="424.9" r="1.35" fill="#40e8e8"/><circle cx="472.5" cy="426.4" r="1.35" fill="#40e8e8"/>
<polygon points="473.3,414.4 484.2,411.5 490.7,410 506,422 501.6,424.2 482,419.8 473.3,416.6" fill="#0606ff" />
<polygon points="488.1,410.7 491.2,410.2 505.6,420.3 504.3,423.3 486.8,413.7" fill="#fa0012" />
<polygon points="485.3,415.5 502.7,423.8 501.6,424.4 484.2,416.6" fill="#0ce024" />
<circle cx="496.3" cy="414.9" r="1.2" fill="#1ce0e4"/><circle cx="493.3" cy="417.4" r="1.2" fill="#1ce0e4"/><circle cx="488.2" cy="414.9" r="1.2" fill="#1ce0e4"/><circle cx="494.9" cy="417.1" r="1.2" fill="#1ce0e4"/><circle cx="497.1" cy="412.9" r="1.2" fill="#40e8e8"/>
<circle cx="442.7" cy="381.6" r="1" fill="#1ce0e4"/>
<line x1="440.1" y1="386" x2="468.9" y2="386" stroke="#6a6ad8" stroke-width="0.4" stroke-dasharray="1 0.6"/>
<line x1="440.1" y1="433.4" x2="440.1" y2="364" stroke="#000" stroke-width="0.6" />
<polygon points="440.1,360.9 438.3,367.4 441.9,367.4" fill="#000" />
<line x1="440.1" y1="433.4" x2="507" y2="433.4" stroke="#000" stroke-width="0.6" />
<polygon points="511.5,433.4 505,431.7 505,435.1" fill="#000" />
<text x="443.8" y="366.9" font-size="7.5" font-family="'Liberation Sans', Arial, sans-serif" textLength="23.3" lengthAdjust="spacingAndGlyphs" fill="#111" stroke="#222" stroke-width="0.08" >z (mm)</text>
<text x="489" y="430.8" font-size="7.5" font-family="'Liberation Sans', Arial, sans-serif" textLength="22.5" lengthAdjust="spacingAndGlyphs" fill="#111" stroke="#222" stroke-width="0.08" >y (mm)</text>
<line x1="438.6" y1="386" x2="440.1" y2="386" stroke="#000" stroke-width="0.4" />
<text x="438.2" y="388.1" font-size="6" font-family="'Liberation Sans', Arial, sans-serif" text-anchor="end" textLength="3.7" lengthAdjust="spacingAndGlyphs" fill="#111" stroke="#222" stroke-width="0.08" >0</text>
<line x1="438.6" y1="392.8" x2="440.1" y2="392.8" stroke="#000" stroke-width="0.4" />
<text x="438.2" y="394.9" font-size="6" font-family="'Liberation Sans', Arial, sans-serif" text-anchor="end" textLength="9.5" lengthAdjust="spacingAndGlyphs" fill="#111" stroke="#222" stroke-width="0.08" >-50</text>
<line x1="438.6" y1="399.5" x2="440.1" y2="399.5" stroke="#000" stroke-width="0.4" />
<text x="438.2" y="401.6" font-size="6" font-family="'Liberation Sans', Arial, sans-serif" text-anchor="end" textLength="13.2" lengthAdjust="spacingAndGlyphs" fill="#111" stroke="#222" stroke-width="0.08" >-100</text>
<line x1="438.6" y1="406.3" x2="440.1" y2="406.3" stroke="#000" stroke-width="0.4" />
<text x="438.2" y="408.4" font-size="6" font-family="'Liberation Sans', Arial, sans-serif" text-anchor="end" textLength="13.2" lengthAdjust="spacingAndGlyphs" fill="#111" stroke="#222" stroke-width="0.08" >-150</text>
<line x1="438.6" y1="413.1" x2="440.1" y2="413.1" stroke="#000" stroke-width="0.4" />
<text x="438.2" y="415.2" font-size="6" font-family="'Liberation Sans', Arial, sans-serif" text-anchor="end" textLength="13.2" lengthAdjust="spacingAndGlyphs" fill="#111" stroke="#222" stroke-width="0.08" >-200</text>
<line x1="438.6" y1="419.9" x2="440.1" y2="419.9" stroke="#000" stroke-width="0.4" />
<text x="438.2" y="422" font-size="6" font-family="'Liberation Sans', Arial, sans-serif" text-anchor="end" textLength="13.2" lengthAdjust="spacingAndGlyphs" fill="#111" stroke="#222" stroke-width="0.08" >-250</text>
<line x1="438.6" y1="426.6" x2="440.1" y2="426.6" stroke="#000" stroke-width="0.4" />
<text x="438.2" y="428.7" font-size="6" font-family="'Liberation Sans', Arial, sans-serif" text-anchor="end" textLength="13.2" lengthAdjust="spacingAndGlyphs" fill="#111" stroke="#222" stroke-width="0.08" >-300</text>
<line x1="438.6" y1="433.4" x2="440.1" y2="433.4" stroke="#000" stroke-width="0.4" />
<text x="438.2" y="435.5" font-size="6" font-family="'Liberation Sans', Arial, sans-serif" text-anchor="end" textLength="13.2" lengthAdjust="spacingAndGlyphs" fill="#111" stroke="#222" stroke-width="0.08" >-350</text>
<line x1="440.1" y1="433.4" x2="440.1" y2="434.9" stroke="#000" stroke-width="0.4" />
<text x="440.1" y="440.2" font-size="6.2" font-family="'Liberation Sans', Arial, sans-serif" text-anchor="middle" fill="#111" stroke="#222" stroke-width="0.08" >0</text>
<line x1="453.8" y1="433.4" x2="453.8" y2="434.9" stroke="#000" stroke-width="0.4" />
<text x="453.8" y="440.2" font-size="6.2" font-family="'Liberation Sans', Arial, sans-serif" text-anchor="middle" fill="#111" stroke="#222" stroke-width="0.08" >100</text>
<line x1="467.4" y1="433.4" x2="467.4" y2="434.9" stroke="#000" stroke-width="0.4" />
<text x="467.4" y="440.2" font-size="6.2" font-family="'Liberation Sans', Arial, sans-serif" text-anchor="middle" fill="#111" stroke="#222" stroke-width="0.08" >200</text>
<line x1="481.1" y1="433.4" x2="481.1" y2="434.9" stroke="#000" stroke-width="0.4" />
<text x="481.1" y="440.2" font-size="6.2" font-family="'Liberation Sans', Arial, sans-serif" text-anchor="middle" fill="#111" stroke="#222" stroke-width="0.08" >300</text>
<line x1="494.7" y1="433.4" x2="494.7" y2="434.9" stroke="#000" stroke-width="0.4" />
<text x="494.7" y="440.2" font-size="6.2" font-family="'Liberation Sans', Arial, sans-serif" text-anchor="middle" fill="#111" stroke="#222" stroke-width="0.08" >400</text>
</svg></body></html>
